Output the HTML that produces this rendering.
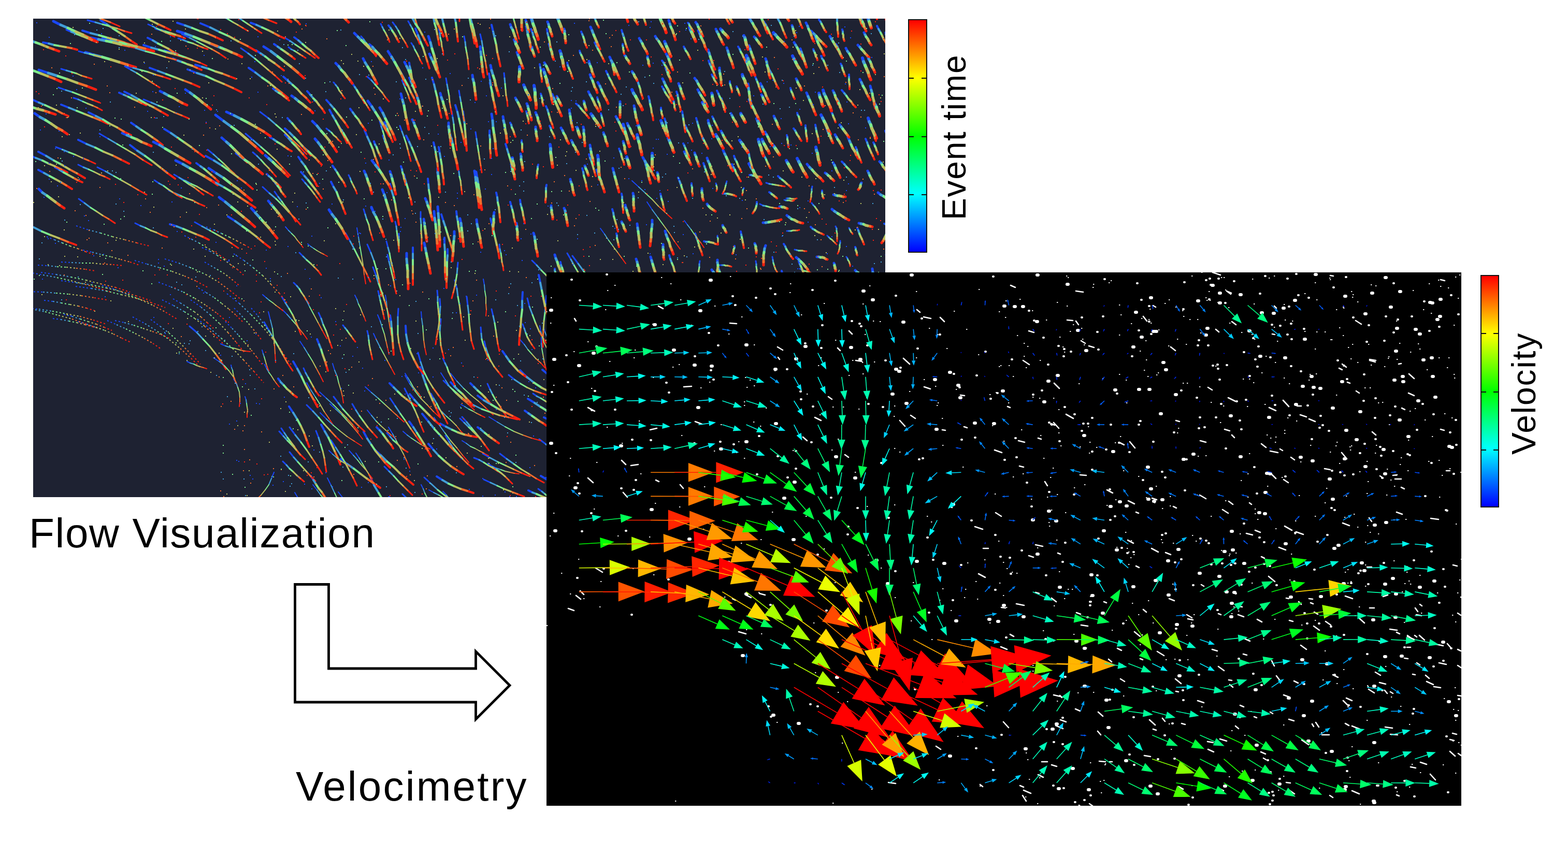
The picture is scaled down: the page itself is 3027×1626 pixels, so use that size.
<!DOCTYPE html>
<html><head><meta charset="utf-8">
<style>
html,body{margin:0;padding:0;background:#fff;}
body{width:3027px;height:1626px;position:relative;overflow:hidden;font-family:"Liberation Sans",sans-serif;}
.abs{position:absolute;}
#p1{left:64px;top:36px;width:1645px;height:924px;background:#1e2232;overflow:hidden;}
#p2{left:1055px;top:526px;width:1766px;height:1030px;background:#000;overflow:hidden;}
.cb{box-sizing:border-box;border:2px solid #111;background:linear-gradient(to bottom,#ff0000 0%,#ffff00 25%,#00ff00 50%,#00ffff 75%,#0000ff 100%);}
#cb1{left:1753px;top:37px;width:37px;height:451px;}
#cb2{left:2858px;top:531px;width:36px;height:449px;}
.tk{position:absolute;height:1.8px;width:9px;background:#111;}
.lbl{position:absolute;white-space:nowrap;color:#000;line-height:1;}
</style></head><body>
<div id="p1" class="abs"><svg width="1645" height="924" style="display:block"><path d="M319 520l15 9M254 464l27 8M292 419l14 7M374 531l24 19M96 447l18 4M15 490l29 4M270 541l14 8M-6 527l25 1M304 543l20 14M331 470l12 7M9 476l19 1M192 576l24 13M227 581l18 13M371 585l13 13M54 470l20 1M242 509l24 9M83 400l24 8M86 585l17 5M326 442l15 7M196 467l24 7M-16 558l27 3M133 515l25 8M388 559l10 10M-29 555l26 6M54 506l29 4M82 517l30 4M-8 490l27 5M249 543l22 11M317 580l24 18M334 402l15 6M143 583l18 8M26 421l15 6M59 571l16 4M21 544l17 2M158 583l18 4M421 559l13 15M387 454l20 13M38 579l15 2" stroke="#1a47f8" stroke-width="2" stroke-dasharray="3 4" fill="none"/>
<path d="M1095 405l8 11M985 595l3 10M714 797l8 7M880 769l16 10M481 562l9 9M645 756l8 10M774 770l10 15M718 689l9 16M1185 354l10 15M439 932l3 5M447 668l4 8M505 915l7 12M530 435l6 5M787 684l9 14M749 900l4 8M826 745l7 4M828 815l8 5M686 789l8 13M806 685l12 15M657 608l6 13M1156 313l13 12M665 572l5 12M409 730l2 6M578 666l4 13M625 404l3 18M573 744l11 10M571 834l7 7M1257 390l6 8M517 526l9 15M390 939l10 7M528 703l8 14M641 711l12 11M382 669l1 5M791 913l7 7M442 640l2 7M978 593l2 11M387 696l5 8M749 566l1 13M718 685l5 8M764 910l9 5M568 887l7 14M443 533l7 6M540 900l8 10M623 839l6 9M680 534l2 12M454 566l4 16M886 864l8 4M487 402l6 7M869 503l2 11M575 938l10 13M981 616l0 11M610 834l8 9M348 655l11 7M940 620l8 9M297 662l6 3M779 751l10 8M362 628l9 4M554 761l12 12M707 931l6 9M515 623l8 12M621 534l4 8M553 721l13 12M465 876l-5 12M589 914l10 13" stroke="#1a47f8" stroke-width="2" stroke-linecap="round" fill="none"/>
<path d="M671 10l3 6M645 436l7 16M723 -38l3 10M713 918l7 7M88 63l11 3M808 179l2 12M438 180l16 12M386 -8l10 6M878 859l8 6M656 480l6 16M678 865l9 9M682 430l3 12M178 91l15 4M1372 327l-1 2M1318 318l1 3M566 212l5 4M645 112l8 7M287 30l15 7M1450 350l3 1M528 746l12 12M503 510l6 6M684 456l3 13M1650 335l0 3M785 541l1 15M706 415l0 6M877 705l5 11M837 537l2 17M920 -27l3 11M284 308l10 5M864 596l1 12M633 34l5 6M78 153l9 3M717 714l7 14M1427 460l1 6M1041 458l11 15M598 592l4 5M1480 483l4 2M638 368l3 10M508 -32l7 5M870 890l13 6M495 789l11 15M1570 460l2 3M546 796l5 13M863 30l3 13M519 310l6 7M337 253l11 9M1558 429l0 4M401 57l14 10M272 301l10 6M482 855l7 7M977 812l13 10M965 724l7 5M797 115l2 12M280 38l9 3M724 5l4 7M1415 317l6 2M834 738l16 8M666 526l2 9M699 392l2 9M1321 419l0 3M49 133l14 5M44 248l13 5M828 769l9 10M954 540l4 16M379 -23l16 5M424 258l8 7M791 656l4 9M128 222l17 10M705 560l-1 16M755 886l13 12M792 699l9 9M265 -26l9 4M899 932l9 5M302 594l14 12M909 105l1 10M645 603l2 9M683 800l6 7M975 908l7 5M945 590l3 8M689 733l10 15M832 34l2 11M871 623l3 13M1339 314l-1 4M54 97l10 3M748 373l0 13M124 287l16 8M900 436l1 9M820 287l2 9M177 92l12 7M787 580l-1 12M475 797l8 9M1646 456l4 0M253 61l14 4M989 945l15 10M814 505l4 16M197 395l10 5M783 20l2 8M616 744l7 12M575 814l9 14M964 931l13 10M213 156l15 6M609 302l3 6M446 586l9 16M1549 401l2 4M603 414l9 16M780 525l1 12M486 37l10 6M87 282l10 5M1575 404l1 2M262 332l11 5M881 124l2 8M743 645l5 18M1454 347l3 0M495 837l8 10M55 -28l19 7M885 561l3 13M514 452l7 7M1455 410l4 0M632 147l3 5M1403 358l6 3M824 772l8 8M819 -35l1 7M820 471l-1 11M868 840l14 8M901 840l13 10M1395 468l1 6M105 3l15 4M551 568l5 11M312 393l14 8M1326 476l4 0M580 123l4 5M730 47l4 6M963 467l9 9M669 198l3 10M1031 453l7 12M222 11l9 4M356 -9l10 5M410 222l15 13M768 724l5 9M708 207l4 11M480 537l7 12M560 948l8 13M466 334l7 10M1504 324l-1 5M443 325l13 12M712 119l3 7M580 730l9 12M1503 356l3 4M-22 -23l16 4M493 55l5 4M234 312l9 6M796 805l7 12M854 219l2 13M991 535l-2 16M694 7l6 8M1533 419l3 3M479 791l6 9M1287 468l-1 6M1470 446l4 1M918 688l11 9M851 848l10 4M822 139l2 12M179 52l19 5M88 348l11 8M522 675l4 9" stroke="#1a47f8" stroke-width="3" stroke-linecap="round" fill="none"/>
<path d="M883 386l3 12M1373 75l3 6M678 200l3 6M1435 -7l3 8M-15 396l16 7M1559 87l2 4M1358 131l1 3M1245 307l3 7M764 947l11 13M488 -14l5 4M1656 97l5 7M1421 335l3 2M1575 108l0 5M1255 241l2 4M976 495l3 15M236 19l10 3M0 157l11 5M578 284l5 7M787 -7l3 8M1561 138l5 6M1106 101l3 6M1411 6l3 5M956 911l8 4M494 749l8 12M844 704l7 7M1259 206l2 5M786 782l11 6M1353 265l2 6M719 593l1 17M881 216l0 9M338 308l15 9M943 235l0 4M1031 85l1 5M566 157l8 9M221 37l10 5M376 382l14 9M107 181l14 7M990 169l3 7M575 315l5 10M486 224l7 7M430 61l9 6M779 884l11 7M1320 139l3 6M1562 21l1 4M794 423l0 13M751 763l12 15M1588 248l2 5M1445 487l1 5M658 237l2 6M940 679l13 13M191 -14l13 6M504 36l8 6M689 319l3 13M1214 131l3 5M298 98l18 7M1521 72l2 5M-7 264l12 5M1455 225l1 4M1060 289l2 7M980 145l1 4M1349 281l3 6M1552 -6l0 7M1073 262l2 7M42 287l9 5M536 883l5 8M640 216l5 12M617 126l4 6M1278 415l2 7M980 883l15 9M1629 14l3 6M1366 411l1 6M1018 470l1 6M1055 62l1 4M1354 439l0 3M1242 141l2 6M663 789l6 6M451 300l4 4M813 -10l1 9M815 167l4 13M1310 108l2 4M880 106l2 13M264 397l13 4M773 239l2 9M1622 239l2 4M706 97l6 11M945 528l-1 17M1331 338l5 0M838 -21l2 12M710 285l2 6M1138 49l0 3M1438 304l4 4M19 46l11 2M1332 227l3 4M1212 172l0 4M333 265l16 9M1462 134l1 4M1214 81l3 4M788 378l4 13M187 244l14 11M213 51l15 5M1083 -2l2 3M992 20l1 8M1469 -18l3 6M556 784l7 13M335 -40l14 4M1643 396l3 1M594 850l12 10M1591 404l2 5M1253 179l1 7M983 678l12 10M95 23l16 5M817 372l1 10M1327 -21l3 5M1468 212l3 4M961 20l3 7M1501 402l4 4M858 789l7 5M1587 441l1 3M512 267l6 9M1510 205l1 6M1607 232l3 7M978 88l1 6M1131 251l2 5M1541 180l2 4M1655 -7l4 5M738 19l5 13M323 9l19 8M726 85l1 7M10 257l15 8M284 -34l9 3M420 8l11 4M457 229l7 4M638 798l7 13M1419 93l3 7M726 778l8 11M906 642l7 10M726 114l3 7M716 301l2 9M87 234l16 8M518 244l6 6M763 821l10 12M1617 207l2 5M952 179l1 4M130 3l12 8M1126 415l1 4M747 673l5 16M1211 338l1 5M1491 206l0 5M1166 118l2 6M486 212l9 8M858 728l12 9M176 141l14 7M1271 318l0 4M1228 457l2 7M659 832l12 11M688 704l8 8M1304 81l2 6M54 166l15 6M1523 332l0 3M991 321l-1 6M1345 121l0 4M1219 193l2 6M830 179l1 12M1291 227l2 4M762 309l1 11M416 95l13 9M955 734l13 8M885 12l3 13M1561 276l5 5M612 174l5 7M1096 183l1 4M720 226l6 12M1411 264l2 4M1294 279l2 6M1118 368l2 7M1478 469l2 5M270 77l9 4M983 751l9 7M463 135l5 4M1136 338l1 6M253 213l13 8M859 946l12 6M1517 2l3 4M313 89l13 4M689 573l2 12M770 -12l3 11M686 13l4 5M921 354l2 8M572 176l6 11M491 192l4 5M465 49l7 5M1622 -40l1 7M1136 22l2 7M548 619l4 10M502 662l8 14M940 350l1 8M800 445l0 12M529 140l6 7M1397 354l0 4M1311 189l2 4M1058 25l2 5M10 292l11 6M912 242l3 10M1394 112l2 5M1048 164l5 4M1449 435l3 5M1475 182l1 4M225 95l16 6M1177 -8l1 3M949 757l7 5M727 725l9 11M189 201l10 7M997 207l2 4M1007 483l0 3M483 112l9 8M166 143l9 4M651 885l7 16M517 296l7 8M1383 302l3 0M1188 150l2 8M1089 152l1 4M806 702l7 8M278 8l15 5M921 201l2 4M986 770l10 5M733 442l0 12M464 313l4 5M1280 192l2 7M770 114l4 13M315 279l8 6M1264 8l2 2M975 282l-1 4M1295 430l4 1M726 -11l6 10M687 924l13 12M1236 158l1 3M590 207l4 7M1506 59l1 3M783 248l2 12M894 336l2 9M473 695l5 7M1361 54l3 5M1256 54l2 4M1380 254l2 8M1329 154l1 5M1084 46l3 6" stroke="#1a47f8" stroke-width="4" stroke-linecap="round" fill="none"/>
<path d="M754 387l1 7M1448 -15l1 3M952 15l2 8M1246 125l2 5M-29 163l12 3M740 146l2 7M1303 60l2 6M1399 -15l4 7M1323 483l1 3M1611 73l2 5M1380 126l1 8M1494 281l5 6M1382 156l3 7M-18 38l11 4M963 55l0 3M1039 235l2 4M1221 95l2 4M294 137l9 6M1284 23l3 6M1301 269l2 6M445 54l14 9M1338 -11l2 3M1646 27l1 4M571 369l6 9M852 294l2 12M1119 289l2 8M1620 483l1 7M459 -21l7 4M421 366l8 9M1142 71l2 2M1604 27l2 4M1166 396l1 8M1291 328l0 4M1473 116l2 4M1025 20l1 4M1318 20l2 5M732 195l3 6M1011 150l1 3M1063 159l1 3M1550 50l2 4M1634 276l3 3M1037 310l1 5M1414 438l-2 6M1101 220l1 4M448 264l7 6M1201 34l3 5M1019 211l3 5M1382 -2l3 5M1599 317l-1 2M653 364l4 10M3 183l10 7M1650 409l-2 4M1656 67l2 7M1160 168l1 6M755 433l2 10M883 90l2 10M364 230l9 8M907 189l1 8M1002 146l3 7M1569 57l3 6M996 49l2 5M1113 74l3 7M499 149l7 5M620 28l7 7M1331 399l1 3M1216 436l0 5M1205 297l1 3M1493 143l3 7M970 181l2 5M1072 141l3 6M774 372l1 13M1007 456l2 7M11 329l7 7M1090 123l4 7M11 99l18 6M951 3l1 4M1088 292l3 7M813 411l0 9M1065 284l1 3M39 5l14 7M278 24l16 5M1303 196l1 6M1220 410l2 7M1328 217l2 4M1414 77l2 6M1658 230l2 4M1532 212l2 5M172 221l9 4M1073 82l1 5M1332 254l3 7M1002 -30l1 4M1310 485l3 4M674 330l4 10M134 38l16 4M544 232l6 7M848 109l1 8M232 238l12 6M721 453l0 11M1277 115l4 5M1222 68l3 5M669 172l6 10M1410 -24l2 2M1301 358l2 3M1413 219l3 5M539 198l9 9M676 226l2 5M1181 275l2 7M786 144l2 8M1596 117l3 6M1455 380l4 3M1409 394l5 0M1465 13l1 3M1075 108l2 6M941 261l1 5M1062 209l1 6M1170 38l3 5M685 63l7 11M757 -37l7 11M1393 434l1 3M1529 298l3 2M855 296l2 12M1640 -28l1 5M1177 268l4 7M578 -22l5 4M341 48l10 4M1653 355l2 2M1430 188l2 5M1594 395l4 1M646 159l8 11M890 374l-1 7M275 274l14 7M1125 189l3 5M1139 237l1 4M1587 -23l2 6M1277 259l1 4M1492 8l3 6M1225 -18l2 4M1279 7l3 4M454 352l5 6M1616 130l2 8M1025 366l2 5M781 289l0 8M1631 336l5 4M352 186l16 12M339 289l15 10M856 388l1 9M863 54l1 10M1552 155l2 4M1137 -36l2 7M885 184l2 13M1508 30l3 7M1143 360l1 5M1597 -3l2 5M1133 160l0 5M802 201l0 7M584 86l6 6M921 11l2 6M1473 461l5 4M1257 257l2 4M1557 205l3 4M1406 147l2 3M1117 82l1 4M841 -10l3 10M65 21l9 4M599 -35l5 4M1075 244l1 7M1339 56l2 6M781 363l1 13M-24 91l13 5M689 295l2 7M1347 183l2 4M765 68l3 7M1392 35l3 3M1404 125l3 6M1546 472l1 3M1545 340l4 1M111 37l15 3M933 395l1 6M1502 24l5 5M1192 460l2 7M359 345l12 9M824 386l2 9M637 77l4 8M1186 73l0 3M970 209l0 5M654 274l7 9M24 -37l10 2M757 347l3 7M1587 486l3 3M1227 3l2 7M1164 464l2 6M101 65l16 5M1573 229l3 7M1283 137l3 6M1147 202l2 5M1542 368l5 4M942 -21l0 7M1548 224l3 5M1156 102l2 3M1212 -37l1 4M966 414l2 7M1195 389l0 8M993 118l1 8M1325 95l0 5M934 65l2 5M1513 460l4 0M245 140l8 4M1076 16l3 7M1469 46l3 5M953 164l2 5M373 180l15 7M1382 52l2 6M1441 363l3 0M392 260l8 6M923 281l1 5M931 153l2 4M639 294l3 7M1215 116l3 6M1152 -13l3 4M1544 278l3 5M1136 392l1 3M717 84l4 8M993 6l2 5M1544 139l2 4M649 50l6 5M1158 337l1 6M1035 176l1 7M1000 361l0 4M763 34l4 12M710 145l3 12M987 85l2 4M1321 466l0 5M1611 294l2 4M1592 51l4 4M1538 34l3 5M1481 58l2 6M803 219l4 12" stroke="#1a47f8" stroke-width="5" stroke-linecap="round" fill="none"/>
<path d="M1382 280l4 7M1653 257l3 4M998 243l1 8M1050 210l1 3M1226 231l2 4M1156 137l3 7M1429 245l2 3M1612 192l2 7M1475 270l3 6M967 129l1 7M1369 108l1 4M1525 138l2 7M1511 248l1 6M1646 217l2 4M1166 224l1 6M1219 44l2 5M925 269l0 3M947 128l2 5M1146 267l1 4M1168 205l1 3M1327 20l3 3M1377 71l3 6M1310 144l1 4M1612 0l1 3M1267 17l2 5M1366 183l1 3M929 41l2 4M1090 264l1 8M1139 204l2 8M1292 162l2 3M1364 235l3 4M1011 -5l2 5M1397 193l2 5M1195 260l0 5M1624 163l2 4M1400 233l1 5M1372 33l2 4M1429 27l4 4M1601 76l2 7M1318 224l2 4M985 98l2 6M960 -4l3 7M939 93l0 5M1017 62l2 6M1077 184l3 4M1212 197l2 5M1521 186l3 6M1407 233l2 5M1206 -12l3 7M1454 274l2 4M1517 144l1 4M1466 72l3 6" stroke="#1a47f8" stroke-width="6" stroke-linecap="round" fill="none"/>
<path d="M392 573l13 13M380 525l22 18M360 457l13 8M480 643l18 25M187 470l18 6M159 519l28 9M336 587l12 11M118 539l24 4M392 625l15 19M389 508l11 9M101 484l18 3M305 656l20 20M308 651l15 16M432 654l11 15M154 475l20 2M355 569l20 17M200 433l24 6M171 617l17 8M394 484l12 11M315 507l22 12M116 582l25 8M256 567l23 14M434 611l8 11M100 589l25 9M198 535l28 9M227 548l28 10M126 520l27 9M349 610l17 17M426 681l19 22M408 437l14 8M231 627l16 11M101 450l15 5M137 596l15 6M103 559l16 5M247 610l17 8M480 642l10 18M475 530l15 19M115 595l16 4" stroke="#ff2011" stroke-width="2" stroke-dasharray="3 4" fill="none"/>
<path d="M1136 462l8 11M1010 643l7 8M757 827l9 4M962 810l18 5M522 609l7 10M691 804l10 8M829 843l12 14M773 759l13 12M1238 430l11 15M456 957l3 5M470 705l5 6M539 974l7 12M561 455l7 4M840 745l12 11M766 940l3 8M864 766l8 4M870 839l9 5M721 854l6 14M874 752l14 13M691 674l7 13M1220 374l13 12M684 635l3 13M413 763l0 7M597 729l2 13M639 494l3 18M627 800l9 12M612 865l9 5M1289 433l6 9M558 602l9 16M444 966l13 2M571 772l9 14M704 768l12 11M389 695l1 5M823 949l6 8M452 673l3 7M996 644l5 10M399 740l-1 9M756 635l3 14M745 725l5 8M811 935l9 6M601 962l6 16M476 559l6 5M579 948l8 9M652 888l6 10M689 598l2 13M467 647l1 17M929 878l9 1M516 435l5 7M875 562l-1 12M630 1000l13 11M988 669l3 10M648 879l7 9M392 703l4 12M980 665l8 9M329 674l6 2M825 796l9 9M409 642l10 1M620 816l14 9M734 976l5 9M553 687l7 14M639 576l3 8M617 784l11 13M431 929l-11 8M635 979l8 13" stroke="#ff2011" stroke-width="2" stroke-linecap="round" fill="none"/>
<path d="M686 39l2 6M670 519l2 17M741 12l4 10M745 954l5 7M140 77l10 3M816 242l2 12M514 247l14 15M432 22l9 6M918 891l7 7M683 560l5 16M723 911l9 9M696 489l2 12M250 112l15 5M1369 338l0 3M1320 330l-1 3M589 234l5 4M680 152l7 8M359 67l13 9M1466 352l3 -1M584 807l12 12M527 543l5 7M698 519l3 12M1649 353l-1 4M779 615l-2 14M706 444l0 6M906 757l7 10M846 622l5 16M935 28l3 11M337 336l10 6M877 652l6 10M657 66l5 7M124 172l9 5M748 784l6 14M1436 489l3 6M1095 532l11 15M618 619l4 5M1501 491l4 1M653 418l3 10M543 -7l7 5M935 918l13 5M548 863l10 16M1577 475l0 3M564 862l2 13M875 95l2 13M548 346l6 8M388 299l9 10M1555 450l-2 4M467 110l13 12M320 333l9 7M516 888l7 6M1043 861l14 10M1004 747l8 5M806 172l2 12M328 56l9 3M743 41l3 8M1445 323l6 1M918 770l17 4M676 571l2 9M705 437l1 8M1322 432l0 3M115 157l13 5M107 274l13 6M872 823l8 11M985 618l10 14M455 3l15 6M462 297l7 8M810 698l4 9M212 273l17 10M710 643l5 15M824 942l15 10M838 740l9 8M309 -5l9 5M943 961l8 7M363 662l9 15M915 158l1 11M653 649l2 9M715 832l8 5M1009 935l6 6M963 630l5 7M739 806l11 15M840 88l1 10M898 682l8 10M1333 334l-2 4M103 113l10 3M750 435l0 13M203 331l16 9M907 478l1 8M827 331l1 8M233 126l11 7M790 644l3 12M516 842l9 9M1669 454l5 0M322 85l13 6M1058 1002l12 13M827 585l2 16M248 418l11 4M791 62l1 8M655 799l9 10M618 887l7 15M1031 978l14 8M287 187l14 6M623 332l2 6M491 665l10 15M1552 425l0 5M644 493l7 15M784 583l1 11M534 69l10 7M138 305l10 5M1581 414l1 2M319 357l12 5M890 165l1 9M783 728l11 14M1471 348l3 -1M536 884l9 9M149 7l18 8M897 628l3 14M550 487l6 8M1475 409l4 -1M647 172l3 5M1435 366l6 0M866 815l7 10M823 -1l0 6M811 529l-3 11M942 877l15 6M971 888l15 8M1397 496l0 5M176 24l14 4M573 625l4 11M383 434l13 9M1345 478l3 1M598 149l4 5M747 80l4 7M1007 513l9 9M684 247l2 9M1064 512l6 11M265 31l8 4M405 18l10 6M482 288l14 15M795 772l5 10M726 264l3 11M512 597l5 13M603 1012l10 11M501 382l6 10M1501 349l-1 5M505 385l11 13M726 154l3 7M629 787l11 10M1516 373l2 4M57 -5l15 3M520 72l6 4M278 341l9 5M839 860l11 9M864 284l2 13M984 617l0 17M719 47l4 8M1548 433l3 3M510 835l6 8M1282 498l-2 6M1489 449l4 0M980 723l13 4M897 874l8 5M832 197l1 12M274 79l19 6M146 387l12 8M546 720l6 8" stroke="#ff2011" stroke-width="3" stroke-linecap="round" fill="none"/>
<path d="M898 450l2 13M1385 104l2 6M691 231l3 7M1451 30l3 7M67 431l16 6M1566 107l2 4M1363 145l1 3M1259 344l3 8M822 1008l13 11M511 6l4 5M1679 129l4 6M1434 345l2 2M1576 131l0 5M1265 264l2 5M992 569l4 15M284 34l9 4M56 183l12 5M600 317l3 7M798 34l2 8M1583 166l5 5M1123 135l3 7M1425 34l3 6M998 927l8 3M528 814l5 13M879 739l7 8M1271 232l2 5M845 806l12 2M1365 291l2 5M743 673l11 13M883 260l0 9M414 355l15 10M944 254l1 3M1040 111l2 5M602 201l6 9M270 64l10 5M444 432l13 10M175 218l14 7M1002 204l2 7M599 367l4 10M521 262l7 8M475 93l9 7M838 912l12 4M1334 167l3 6M1565 40l1 3M795 490l1 14M814 835l14 14M1597 273l2 5M1447 514l0 6M670 265l2 5M1015 728l16 7M253 16l12 6M543 69l8 7M704 384l2 14M1230 158l3 5M386 134l16 8M1532 96l2 4M54 291l12 6M1458 244l0 4M1068 324l2 7M984 164l1 4M1363 309l3 5M1554 29l0 6M1084 297l2 7M86 312l9 4M562 922l6 8M665 279l3 13M637 157l3 6M1290 450l2 7M1060 922l17 7M1646 46l3 7M1371 437l1 6M1026 499l2 6M1063 81l2 4M1351 452l-1 2M1249 171l1 6M691 823l4 7M473 321l5 5M819 35l1 9M831 232l3 13M1319 124l2 3M892 171l2 13M327 421l12 6M781 285l1 9M1630 258l1 4M735 153l5 12M939 613l-1 17M1353 341l4 2M850 37l2 11M718 315l1 6M1140 65l1 3M1459 322l4 4M74 57l11 3M1347 247l3 4M1215 188l0 4M410 317l14 12M1468 151l2 4M1227 101l2 4M808 442l3 13M259 298l15 11M290 74l15 5M1091 14l1 3M1000 59l2 8M1482 12l3 6M588 848l5 13M401 -19l13 5M1660 398l3 0M657 897l13 9M1602 431l2 5M1258 212l1 7M1050 719l15 5M176 46l16 5M824 421l1 10M1341 5l3 5M1480 232l3 4M974 58l2 7M1522 415l4 2M892 815l7 5M1590 455l1 2M543 313l5 10M1516 234l1 6M1621 265l3 7M982 116l0 6M1140 277l1 5M1548 197l1 3M1674 19l4 5M761 83l4 13M414 53l17 10M732 122l1 7M85 299l15 9M329 -18l8 4M474 33l11 5M492 252l7 4M679 857l10 10M1435 128l4 7M762 834l6 11M945 687l10 7M741 149l2 7M729 349l2 10M169 272l16 8M551 276l6 6M818 872l13 8M1625 231l2 5M956 198l1 4M188 42l12 8M1130 437l1 4M778 752l7 16M1217 364l2 6M1494 232l0 5M1175 148l2 6M528 255l8 9M925 767l14 7M246 179l14 8M1273 338l0 4M1241 494l3 7M721 889l13 11M730 742l10 6M1316 110l3 5M129 196l15 7M1525 345l1 2M989 350l0 5M1349 139l0 3M1226 226l2 7M836 242l1 13M1301 247l2 4M767 365l1 11M480 143l12 10M1020 772l14 6M899 78l3 14M1584 301l5 5M637 209l5 7M1101 203l1 4M745 284l4 12M1421 285l2 4M1304 308l2 6M1127 403l2 8M1488 492l2 5M316 95l9 4M1028 784l9 7M489 154l5 4M1139 369l0 6M318 258l12 9M923 973l14 4M1528 22l3 4M378 111l13 5M695 636l1 13M782 40l2 11M703 40l3 5M930 392l2 7M601 229l5 11M513 217l4 6M499 73l6 5M1628 -6l1 7M1146 55l3 7M566 670l3 10M541 735l8 15M948 388l1 7M798 508l0 12M558 174l5 8M1391 373l-2 3M1321 210l2 5M1067 51l2 5M64 322l11 7M927 292l3 10M1403 136l2 5M1069 187l4 5M1463 459l4 5M1482 201l1 4M305 125l16 7M1182 8l1 4M984 781l7 5M775 776l11 9M240 236l10 8M1006 227l1 4M1010 499l1 4M527 153l8 9M209 163l9 4M697 960l11 13M551 338l6 9M1402 305l4 1M1196 188l1 8M1095 172l1 4M844 741l7 8M351 35l15 7M929 223l2 5M1038 791l11 3M733 502l0 12M483 339l4 5M1291 227l2 7M785 178l3 13M351 308l7 7M1273 22l2 3M972 303l0 5M1317 435l5 1M756 41l6 11M746 988l11 14M1239 174l1 3M611 242l4 7M1513 76l1 4M792 308l1 12M901 384l1 9M502 726l7 5M1374 80l2 5M1267 74l2 4M1389 290l2 8M1335 176l1 4M1100 77l3 6" stroke="#ff2011" stroke-width="4" stroke-linecap="round" fill="none"/>
<path d="M759 423l1 7M1457 1l2 3M960 54l2 7M1255 150l2 5M31 181l12 4M748 178l2 6M1313 92l3 6M1415 21l3 7M1327 498l0 3M1623 99l2 5M1386 165l1 7M1520 308l5 6M1399 190l3 7M39 59l11 4M967 70l1 3M1051 257l2 5M1230 116l1 5M335 168l8 7M1297 54l3 6M1313 300l3 6M511 104l12 11M1348 4l2 3M1652 48l1 4M601 415l6 10M860 353l1 12M1129 327l2 8M1624 515l1 6M492 1l6 5M463 414l8 10M1150 84l2 3M1615 47l3 4M1171 435l1 7M1293 348l1 3M1482 134l1 4M1028 43l0 4M1330 45l3 5M744 226l2 6M1018 165l2 3M1067 174l1 3M1560 72l2 4M1646 292l3 4M1043 336l2 5M1410 470l0 6M1108 241l1 5M485 298l7 7M1217 59l3 5M1031 236l3 5M1399 27l4 6M1595 328l-2 2M674 412l3 9M56 216l10 7M1641 429l-3 4M1664 101l2 7M1166 197l1 5M765 482l2 10M896 139l3 10M405 269l8 8M914 231l1 8M1017 181l3 7M1585 85l3 5M1003 74l2 5M1129 109l3 7M534 176l6 6M655 63l7 7M1337 411l1 2M1217 461l1 4M1207 312l1 3M1508 179l3 7M979 207l1 5M1089 173l3 6M780 434l1 13M1020 491l2 6M51 360l9 6M1107 157l3 7M103 130l18 7M956 21l1 4M1101 328l2 7M810 458l-1 10M1071 300l1 3M110 38l14 7M355 53l15 7M1312 223l2 5M1233 447l3 8M1338 236l2 4M1421 109l2 6M1670 250l2 4M1542 236l2 4M219 242l9 4M1081 107l2 5M1347 288l4 6M1006 -9l1 4M1320 503l2 4M690 381l3 10M216 58l17 5M572 270l5 7M854 148l1 8M291 272l12 7M724 511l0 11M1294 142l3 6M1233 94l2 5M695 223l4 11M1420 -12l2 2M1314 370l3 2M1425 241l2 4M579 246l7 11M686 254l2 5M1190 311l2 7M798 185l2 8M1612 150l4 7M1481 394l5 1M1438 390l6 -2M1471 32l1 4M1087 137l2 6M945 288l0 5M1065 240l0 6M1184 63l2 5M715 117l6 11M787 22l5 12M1396 450l0 3M1543 310l3 3M864 357l2 12M1646 -2l1 5M1197 302l4 7M604 2l5 5M393 69l10 5M1665 364l2 2M1439 209l2 4M1616 401l4 1M682 216l6 11M888 408l0 7M343 312l13 9M1139 217l3 6M1143 256l1 4M1599 9l3 6M1284 280l2 5M1504 38l3 6M1236 5l3 4M1291 30l2 4M479 383l4 6M1624 166l2 7M1031 394l1 6M784 328l1 7M1658 353l6 2M429 247l14 13M409 340l13 11M864 433l2 9M868 103l2 10M1560 175l1 4M1146 -1l2 7M893 251l2 13M1524 64l3 7M1150 385l2 4M1606 19l2 5M1133 186l0 5M806 237l0 7M611 118l5 7M932 39l2 6M1495 484l3 6M1268 278l2 4M1572 225l3 4M1413 162l1 3M1122 103l0 5M855 43l2 11M113 41l10 4M622 -11l4 5M1081 275l1 7M1350 88l2 7M785 427l0 13M41 116l13 6M698 331l2 8M1358 204l2 4M782 105l3 8M1405 51l2 4M1418 155l3 6M1549 484l0 3M1564 344l4 0M185 53l15 3M935 423l1 5M1526 49l5 5M1202 494l2 7M417 392l11 10M830 431l1 9M660 118l4 8M1189 89l1 3M973 231l0 5M686 320l5 10M77 -28l10 1M769 382l2 7M1600 501l1 4M1238 34l2 7M1172 492l2 6M182 89l16 5M1589 263l4 7M1299 164l3 6M1159 227l2 5M1569 386l6 3M943 16l1 7M1561 246l2 4M1165 117l1 3M1215 -15l1 4M973 451l1 8M1192 430l-1 9M1001 156l2 8M1328 124l1 5M944 91l2 5M1530 464l3 1M288 163l9 4M1091 52l3 7M1483 72l3 6M961 190l1 6M445 218l13 9M1392 81l2 6M1454 366l2 1M435 293l8 7M929 305l1 5M942 175l2 4M652 331l2 7M1231 149l4 7M1165 7l2 4M1556 302l2 5M1143 408l1 3M735 124l3 8M1001 30l1 4M1553 160l1 5M677 80l6 7M1160 366l0 6M1041 209l1 6M1003 383l0 4M780 95l3 13M723 203l2 11M996 103l2 3M1321 491l-1 5M1622 315l2 5M1610 71l4 4M1553 59l3 5M1491 88l2 6M818 279l2 12" stroke="#ff2011" stroke-width="5" stroke-linecap="round" fill="none"/>
<path d="M1401 312l4 7M1670 274l3 3M1002 280l1 7M1055 226l1 3M1235 254l2 4M1173 169l3 7M1439 260l2 3M1625 224l3 7M1491 300l3 6M971 166l0 7M1377 128l2 4M1539 171l2 7M1518 278l1 5M1655 234l2 3M1174 257l1 6M1229 68l2 5M928 288l1 3M958 152l2 5M1151 284l1 4M1173 221l1 3M1340 34l2 3M1390 103l3 6M1313 163l1 4M1617 15l1 3M1277 39l2 5M1373 197l2 3M937 61l2 4M1093 303l0 7M1149 240l2 7M1301 177l2 3M1378 255l2 4M1021 21l2 5M1408 218l2 5M1195 286l0 6M1633 184l1 4M1408 260l2 5M1379 54l1 5M1451 50l4 5M1614 111l3 7M1329 245l3 5M994 130l2 6M973 33l2 7M938 117l0 5M1024 92l2 6M1092 206l3 4M1222 221l2 5M1536 217l3 6M1419 255l2 5M1220 20l2 7M1464 292l3 4M1523 165l2 4M1482 101l3 6" stroke="#ff2011" stroke-width="6" stroke-linecap="round" fill="none"/>
<path d="M334 529l16 10M281 472l26 10M306 426l14 7M398 550l23 22M114 451l19 5M44 494l29 5M284 549l13 8M19 528l25 2M324 557l18 15M343 477l12 7M28 477l18 2M216 589l24 15M245 594l17 13M384 598l13 14M74 471l20 1M266 518l24 10M107 408l23 6M103 590l18 6M341 449l14 8M220 474l24 7M11 561l26 4M158 523l25 10M398 569l9 10M-3 561l26 5M83 510l29 4M112 521l29 5M19 495l27 5M271 554l21 12M341 598l22 19M349 408l15 7M161 591l18 8M41 427l15 6M75 575l16 5M38 546l16 3M176 587l18 5M434 574l12 17M407 467l18 14M53 581l16 3" stroke="#429ed7" stroke-width="2" stroke-dasharray="3 4" fill="none"/>
<path d="M1103 416l8 12M988 605l4 10M722 804l8 6M896 779l15 9M490 571l8 9M653 766l9 11M784 785l11 15M727 705l10 14M1195 369l11 15M442 937l4 5M451 676l4 7M512 927l6 11M536 440l6 4M796 698l9 14M753 908l3 8M833 749l8 5M836 820l8 6M694 802l7 13M818 700l13 14M663 621l7 14M1169 325l13 12M670 584l4 13M411 736l1 7M582 679l5 12M628 422l3 18M584 754l12 11M578 841l8 7M1263 398l7 9M526 541l8 16M400 946l10 7M536 717l9 14M653 722l13 11M383 674l2 5M798 920l6 8M444 647l2 6M980 604l3 10M392 704l3 8M750 579l2 14M723 693l5 8M773 915l10 5M575 901l7 15M450 539l6 5M548 910l7 10M629 848l6 10M682 546l1 13M458 582l4 16M894 868l9 3M493 409l6 6M871 514l1 12M585 951l10 13M981 627l1 10M618 843l8 9M359 662l10 8M948 629l7 10M303 665l7 2M789 759l9 9M371 632l10 3M566 773l13 12M713 940l6 9M523 635l8 13M625 542l3 9M566 733l13 12M460 888l-5 12M599 927l10 12" stroke="#429ed7" stroke-width="2" stroke-linecap="round" fill="none"/>
<path d="M674 16l3 6M652 452l6 16M726 -28l4 10M720 925l6 7M99 66l10 2M810 191l2 13M454 192l15 13M396 -2l9 6M886 865l9 6M662 496l5 16M687 874l9 9M685 442l3 11M193 95l14 4M1371 329l-1 2M1319 321l0 2M571 216l5 4M653 119l7 8M302 37l14 7M1453 351l3 0M540 758l11 12M509 516l5 6M687 469l3 12M1650 338l0 4M786 556l-1 15M706 421l0 6M882 716l5 10M839 554l2 17M923 -16l3 11M294 313l11 6M865 608l1 11M638 40l5 7M87 156l9 4M724 728l6 14M1428 466l1 6M1052 473l11 15M602 597l4 5M1484 485l4 2M641 378l3 10M515 -27l7 5M883 896l13 6M506 804l11 14M1572 463l1 3M551 809l4 13M866 43l2 13M525 317l6 7M348 262l10 9M1558 433l-1 4M415 67l13 10M282 307l9 6M489 862l6 7M990 822l13 10M972 729l8 4M799 127l2 11M289 41l10 4M728 12l4 7M1421 319l6 1M850 746l16 8M668 535l2 9M701 401l1 9M1321 422l1 2M63 138l13 4M57 253l12 5M837 779l9 11M958 556l6 16M395 -18l15 5M432 265l8 8M795 665l4 8M145 232l17 10M704 576l0 17M768 898l13 12M801 708l9 8M274 -22l9 4M908 937l9 6M316 606l12 13M910 115l1 11M647 612l1 9M689 807l6 7M982 913l6 5M948 598l3 9M699 748l10 15M834 45l1 10M874 636l4 12M1338 318l-1 4M64 100l10 3M748 386l1 12M140 295l16 9M901 445l2 8M822 296l1 9M189 99l11 6M786 592l-1 13M483 806l8 9M1650 456l5 0M267 65l14 5M1004 955l14 11M818 521l2 16M207 400l10 4M785 28l1 9M623 756l7 11M584 828l9 14M977 941l13 10M228 162l14 6M612 308l2 6M455 602l9 15M1551 405l0 5M612 430l8 15M781 537l0 11M496 43l10 7M97 287l10 4M1576 406l1 2M273 337l12 5M883 132l2 8M748 663l6 18M1457 347l4 0M503 847l8 9M74 -21l19 7M888 574l3 14M521 459l7 7M1459 410l4 0M635 152l3 5M1409 361l6 1M832 780l9 9M820 -28l1 7M819 482l-1 12M882 848l15 8M914 850l14 10M1396 474l0 5M120 7l14 4M556 579l4 12M326 401l15 8M1330 476l4 0M584 128l4 5M734 53l3 7M972 476l9 10M672 208l3 9M1038 465l6 11M231 15l8 4M366 -4l10 5M425 235l15 13M773 733l6 10M712 218l4 11M487 549l7 11M568 961l8 13M473 344l7 9M1503 329l0 5M456 337l13 11M715 126l3 7M589 742l9 12M1506 360l3 3M-6 -19l16 3M498 59l6 3M243 318l9 5M803 817l8 12M856 232l2 13M989 551l-1 17M700 15l5 8M1536 422l3 3M485 800l6 9M1286 474l0 6M1474 447l4 1M929 697l12 8M861 852l9 5M824 151l2 11M198 57l19 6M99 356l12 9M526 684l5 9" stroke="#429ed7" stroke-width="3" stroke-linecap="round" fill="none"/>
<path d="M886 398l3 13M1376 81l2 6M681 206l3 7M1438 1l4 7M1 403l16 8M1561 91l1 4M1359 134l1 2M1248 314l3 8M775 960l11 13M493 -10l4 4M1661 104l4 6M1424 337l2 2M1575 113l0 4M1257 245l2 5M979 510l3 15M246 22l9 3M11 162l12 5M583 291l4 6M790 1l2 9M1566 144l4 5M1109 107l3 7M1414 11l3 6M964 915l8 3M502 761l8 13M851 711l7 7M1261 211l2 5M797 788l12 6M1355 271l3 5M720 610l3 17M881 225l1 8M353 317l16 9M943 239l1 3M1032 90l2 5M574 166l7 8M231 42l10 6M390 391l14 10M121 188l14 7M993 176l2 7M580 325l6 10M493 231l7 8M439 67l9 6M790 891l12 7M1323 145l2 5M1563 25l0 4M794 436l1 14M763 778l12 15M1590 253l1 5M1446 492l1 6M660 243l3 5M953 692l14 11M204 -8l12 6M512 42l8 7M692 332l4 13M1217 136l3 6M316 105l18 6M1523 77l3 4M5 269l13 5M1456 229l0 4M1062 296l1 7M981 149l1 4M1352 287l3 5M1552 1l0 7M1075 269l3 7M51 292l8 5M541 891l5 8M645 228l6 13M621 132l4 6M1280 422l3 7M995 892l16 8M1632 20l4 7M1367 417l1 5M1019 476l2 5M1056 66l2 4M1354 442l-1 2M1244 147l1 6M669 795l6 7M455 304l5 4M814 -1l2 9M819 180l3 13M1312 112l2 3M882 119l2 13M277 401l13 5M775 248l2 9M1624 243l1 3M712 108l6 11M944 545l0 17M1336 338l4 0M840 -9l3 11M712 291l1 6M1138 52l1 4M1442 308l4 3M30 48l11 3M1335 231l3 4M1212 176l1 3M349 274l16 10M1463 138l1 3M1217 85l2 4M792 391l4 12M201 255l15 10M228 56l15 4M1085 1l1 3M993 28l2 8M1472 -12l2 6M563 797l7 12M349 -36l13 4M1646 397l4 0M606 860l13 9M1593 409l2 6M1254 186l1 7M995 688l13 9M111 28l16 4M818 382l2 10M1330 -16l3 5M1471 216l2 4M964 27l2 8M1505 406l4 2M865 794l7 6M1588 444l0 3M518 276l7 9M1511 211l1 6M1610 239l2 6M979 94l1 6M1133 256l2 5M1543 184l1 3M1659 -2l4 5M743 32l5 13M342 17l18 9M727 92l2 8M25 265l15 9M293 -31l9 3M431 12l11 5M464 233l7 5M645 811l8 12M1422 100l4 7M734 789l7 11M913 652l7 10M729 121l3 7M718 310l3 10M103 242l17 7M524 250l7 6M773 833l10 11M1619 212l1 4M953 183l1 4M142 11l12 8M1127 419l0 5M752 689l6 17M1212 343l1 5M1491 211l1 5M1168 124l2 6M495 220l9 9M870 737l14 8M190 148l14 8M1271 322l1 4M1230 464l3 8M671 843l12 12M696 712l8 8M1306 87l3 6M69 172l15 6M1523 335l0 3M990 327l0 6M1345 125l1 3M1221 199l1 7M831 191l2 13M1293 231l2 4M763 320l1 11M429 104l13 10M968 742l12 8M888 25l3 13M1566 281l4 5M617 181l5 7M1097 187l1 4M726 238l5 11M1413 268l2 4M1296 285l2 6M1120 375l1 7M1480 474l2 4M279 81l9 3M992 758l9 6M468 139l6 4M1137 344l0 6M266 221l13 9M871 952l13 5M1520 6l2 4M326 93l13 4M691 585l1 13M773 -1l2 10M690 18l3 5M923 362l2 7M578 187l6 10M495 197l5 5M472 54l7 5M1623 -33l1 7M1138 29l2 6M552 629l4 10M510 676l8 15M941 358l2 7M800 457l-1 13M535 147l6 7M1397 358l-1 4M1313 193l2 5M1060 30l2 5M21 298l11 6M915 252l3 10M1396 117l2 5M1053 168l4 5M1452 440l2 5M1476 186l2 3M241 101l16 6M1178 -5l1 4M956 762l7 5M736 736l9 10M199 208l10 7M999 211l1 4M1007 486l1 4M492 120l9 8M175 147l9 4M658 901l9 15M524 304l7 8M1386 302l4 1M1190 158l1 7M1090 156l1 4M813 710l8 8M293 13l14 5M923 205l1 5M996 775l10 5M733 454l0 12M468 318l4 5M1282 199l2 7M774 127l3 13M323 285l7 5M1266 10l1 3M974 286l0 4M1299 431l5 0M732 -1l6 11M700 936l12 13M1237 161l0 3M594 214l5 7M1507 62l2 4M785 260l2 12M896 345l1 10M478 702l6 6M1364 59l2 5M1258 58l2 4M1382 262l1 7M1330 159l1 4M1087 52l3 6" stroke="#429ed7" stroke-width="4" stroke-linecap="round" fill="none"/>
<path d="M755 394l1 7M1449 -12l2 4M954 23l1 8M1248 130l2 5M-17 166l12 4M742 153l2 6M1305 66l2 7M1403 -8l3 7M1324 486l1 3M1613 78l3 5M1381 134l1 7M1499 287l5 5M1385 163l4 7M-7 42l12 4M963 58l1 3M1041 239l2 5M1223 99l2 5M303 143l8 6M1287 29l2 6M1303 275l3 6M459 63l13 10M1340 -8l2 3M1647 31l1 4M577 378l7 9M854 306l1 11M1121 297l2 8M1621 490l0 6M466 -17l6 5M429 375l9 10M1144 73l1 3M1606 31l2 4M1167 404l1 7M1291 332l0 4M1475 120l1 3M1026 24l0 5M1320 25l3 5M735 201l2 6M1012 153l2 3M1064 162l0 3M1552 54l2 5M1637 279l2 3M1038 315l2 5M1412 444l-1 7M1102 224l2 4M455 270l8 7M1204 39l4 5M1022 216l2 5M1385 3l4 6M1598 319l-1 3M657 374l5 9M13 190l11 6M1648 413l-1 4M1658 74l1 7M1161 174l1 6M757 443l2 10M885 100l3 10M373 238l8 7M908 197l2 8M1005 153l3 7M1572 63l4 5M998 54l1 5M1116 81l4 7M506 154l7 6M627 35l7 7M1332 402l1 2M1216 441l0 5M1206 300l0 3M1496 150l3 7M972 186l2 5M1075 147l4 7M775 385l2 12M1009 463l3 7M18 336l9 6M1094 130l3 7M29 105l19 6M952 7l1 4M1091 299l2 7M813 420l-1 10M1066 287l1 3M53 12l14 6M294 29l16 6M1304 202l2 5M1222 417l3 8M1330 221l2 4M1416 83l1 7M1660 234l3 4M1534 217l2 5M181 225l9 4M1074 87l2 5M1335 261l3 6M1003 -26l1 4M1313 489l2 3M678 340l3 10M150 42l17 4M550 239l6 8M849 117l2 7M244 244l11 7M721 464l1 12M1281 120l3 6M1225 73l2 5M675 182l5 11M1412 -22l2 3M1303 361l2 2M1416 224l2 4M548 207l8 10M678 231l2 6M1183 282l2 7M788 152l3 8M1599 123l3 7M1459 383l5 4M1414 394l6 -1M1466 16l1 4M1077 114l3 6M942 266l0 6M1063 215l0 7M1173 43l3 5M692 74l6 10M764 -26l6 12M1394 437l1 3M1532 300l3 3M857 308l2 12M1641 -23l1 5M1181 275l4 7M583 -18l6 5M351 52l11 4M1655 357l3 2M1432 193l2 4M1598 396l5 1M654 170l7 11M889 381l0 6M289 281l14 8M1128 194l3 6M1140 241l1 4M1589 -17l3 7M1278 263l2 4M1495 14l2 6M1227 -14l3 5M1282 11l2 5M459 358l5 6M1618 138l2 7M1027 371l1 6M781 297l1 7M1636 340l6 3M368 198l15 11M354 299l14 9M857 397l2 9M864 64l1 10M1554 159l1 4M1139 -29l2 7M887 197l1 14M1511 37l3 7M1144 365l2 5M1599 2l2 4M1133 165l0 6M802 208l1 7M590 92l5 7M923 17l3 5M1478 465l4 4M1259 261l2 4M1560 209l3 4M1408 150l1 3M1118 86l1 4M844 0l3 11M74 25l10 4M604 -31l4 5M1076 251l1 6M1341 62l2 7M782 376l1 13M-11 96l13 5M691 302l2 7M1349 187l2 4M768 75l4 8M1395 38l2 3M1407 131l3 6M1547 475l0 2M1549 341l4 1M126 40l15 3M934 401l0 5M1507 29l5 5M1194 467l2 7M371 354l12 10M826 395l1 9M641 85l5 8M1186 76l1 3M970 214l1 4M661 283l7 9M34 -35l11 1M760 354l2 7M1590 489l3 2M1229 10l2 6M1166 470l1 5M117 70l16 4M1576 236l3 7M1286 143l3 5M1149 207l3 5M1547 372l6 4M942 -14l0 8M1551 229l2 4M1158 105l2 3M1213 -33l0 5M968 421l1 8M1195 397l-1 9M994 126l2 7M1325 100l1 6M936 70l2 5M1517 460l3 1M253 144l9 5M1079 23l3 8M1472 51l3 5M955 169l1 5M388 187l14 7M1384 58l2 6M1444 363l2 1M400 266l9 7M924 286l1 5M933 157l3 5M642 301l3 8M1218 122l3 7M1155 -9l2 4M1547 283l2 5M1137 395l2 3M721 92l4 8M995 11l1 5M1546 143l2 5M655 55l6 7M1159 343l0 5M1036 183l1 6M1000 365l1 5M767 46l3 12M713 157l3 11M989 89l2 3M1321 471l1 5M1613 298l2 5M1596 55l3 4M1541 39l3 5M1483 64l2 6M807 231l3 12" stroke="#429ed7" stroke-width="5" stroke-linecap="round" fill="none"/>
<path d="M1386 287l4 6M1656 261l4 3M999 251l0 7M1051 213l1 4M1228 235l2 5M1159 144l4 6M1431 248l2 3M1614 199l3 6M1478 276l3 6M968 136l1 7M1370 112l2 4M1527 145l3 6M1512 254l2 6M1648 221l1 3M1167 230l2 7M1221 49l2 5M925 272l1 4M949 133l2 5M1147 271l1 3M1169 208l1 3M1330 23l2 3M1380 77l2 7M1311 148l0 3M1613 3l1 3M1269 22l2 4M1367 186l2 3M931 45l1 4M1091 272l0 7M1141 212l2 7M1294 165l2 3M1367 239l3 4M1013 0l2 5M1399 198l2 5M1195 265l0 6M1626 167l2 4M1401 238l2 6M1374 37l1 4M1433 31l4 5M1603 83l3 7M1320 228l3 5M987 104l2 7M963 3l2 7M939 98l0 5M1019 68l1 6M1080 188l3 5M1214 202l2 5M1524 192l3 6M1409 238l2 4M1209 -5l2 6M1456 278l2 3M1518 148l1 4M1469 78l3 6" stroke="#429ed7" stroke-width="6" stroke-linecap="round" fill="none"/>
<path d="M378 561l14 12M357 508l23 17M347 449l13 8M462 618l18 25M169 465l18 5M130 512l29 7M324 576l12 11M93 535l25 4M376 606l16 19M378 499l11 9M83 482l18 2M284 637l21 19M293 636l15 15M421 640l11 14M134 474l20 1M334 554l21 15M177 427l23 6M155 609l16 8M381 475l13 9M292 497l23 10M90 575l26 7M232 554l24 13M425 600l9 11M75 580l25 9M170 527l28 8M199 540l28 8M100 513l26 7M331 594l18 16M406 659l20 22M393 429l15 8M214 617l17 10M86 444l15 6M122 590l15 6M87 555l16 4M230 604l17 6M469 625l11 17M459 513l16 17M100 591l15 4" stroke="#f16c2d" stroke-width="2" stroke-dasharray="3 4" fill="none"/>
<path d="M1128 451l8 11M1003 634l7 9M748 822l9 5M945 804l17 6M514 599l8 10M681 795l10 9M818 829l11 14M761 746l12 13M1228 414l10 16M453 952l3 5M465 698l5 7M532 962l7 12M555 452l6 3M828 735l12 10M763 932l3 8M856 762l8 4M862 835l8 4M715 841l6 13M860 739l14 13M684 661l7 13M1207 362l13 12M681 622l3 13M414 756l-1 7M594 717l3 12M637 476l2 18M617 788l10 12M603 860l9 5M1282 424l7 9M550 587l8 15M433 962l11 4M562 759l9 13M691 756l13 12M387 690l2 5M817 942l6 7M450 667l2 6M991 635l5 9M399 731l0 9M754 621l2 14M739 718l6 7M801 930l10 5M595 947l6 15M469 554l7 5M571 939l8 9M647 878l5 10M687 585l2 13M466 631l1 16M920 876l9 2M510 428l6 7M874 550l1 12M618 989l12 11M986 659l2 10M641 870l7 9M386 691l6 12M971 657l9 8M322 672l7 2M817 786l8 10M400 640l9 2M606 807l14 9M729 967l5 9M546 674l7 13M635 567l4 9M605 771l12 13M440 920l-9 9M627 965l8 14" stroke="#f16c2d" stroke-width="2" stroke-linecap="round" fill="none"/>
<path d="M683 33l3 6M667 502l3 17M738 2l3 10M739 946l6 8M130 74l10 3M815 229l1 13M499 233l15 14M423 16l9 6M911 884l7 7M678 544l5 16M714 902l9 9M693 477l3 12M236 108l14 4M1370 336l-1 2M1320 328l0 2M585 229l4 5M674 143l6 9M345 59l14 8M1463 352l3 0M573 795l11 12M523 536l4 7M696 506l2 13M1649 350l0 3M782 600l-3 15M706 438l0 6M900 747l6 10M844 605l2 17M932 17l3 11M326 330l11 6M873 641l4 11M652 60l5 6M115 168l9 4M743 770l5 14M1433 484l3 5M1084 518l11 14M614 613l4 6M1497 490l4 1M650 408l3 10M536 -12l7 5M922 913l13 5M538 848l10 15M1576 472l1 3M562 848l2 14M873 82l2 13M543 339l5 7M378 290l10 9M1556 446l-1 4M454 99l13 11M311 326l9 7M509 882l7 6M1030 852l13 9M996 743l8 4M804 161l2 11M318 52l10 4M739 34l4 7M1439 322l6 1M900 766l18 4M674 562l2 9M704 428l1 9M1322 430l0 2M102 152l13 5M95 269l12 5M864 812l8 11M977 604l8 14M440 -3l15 6M455 289l7 8M806 690l4 8M196 262l16 11M706 626l4 17M810 932l14 10M828 732l10 8M301 -9l8 4M934 955l9 6M352 647l11 15M913 148l2 10M651 640l2 9M708 826l7 6M1002 929l7 6M958 622l5 8M729 792l10 14M839 77l1 11M890 672l8 10M1335 330l-2 4M93 110l10 3M750 423l0 12M188 322l15 9M905 470l2 8M826 322l1 9M222 119l11 7M787 631l3 13M508 833l8 9M1664 455l5 -1M308 80l14 5M1045 989l13 13M825 569l2 16M238 413l10 5M789 54l2 8M646 789l9 10M610 872l8 15M1017 969l14 9M272 181l15 6M620 326l3 6M482 649l9 16M1552 420l0 5M636 477l8 16M783 571l1 12M525 63l9 6M128 301l10 4M1579 412l2 2M308 351l11 6M888 157l2 8M772 713l11 15M1467 348l4 0M528 875l8 9M130 0l19 7M895 615l2 13M543 480l7 7M1471 409l4 0M644 167l3 5M1428 365l7 1M858 806l8 9M822 -8l1 7M814 517l-3 12M927 870l15 7M957 879l14 9M1397 490l0 6M162 19l14 5M569 613l4 12M369 425l14 9M1341 477l4 1M595 144l3 5M744 73l3 7M999 504l8 9M681 237l3 10M1057 500l7 12M256 27l9 4M395 12l10 6M469 274l13 14M790 763l5 9M723 252l3 12M507 585l5 12M594 999l9 13M494 372l7 10M1502 344l-1 5M493 373l12 12M724 147l2 7M618 776l11 11M1514 370l2 3M41 -9l16 4M515 69l5 3M269 335l9 6M829 850l10 10M862 271l2 13M985 601l-1 16M714 39l5 8M1545 430l3 3M504 826l6 9M1284 492l-2 6M1485 448l4 1M966 718l14 5M888 868l9 6M830 186l2 11M255 74l19 5M134 380l12 7M541 711l5 9" stroke="#f16c2d" stroke-width="3" stroke-linecap="round" fill="none"/>
<path d="M895 437l3 13M1382 99l3 5M689 225l2 6M1448 23l3 7M50 424l17 7M1565 103l1 4M1362 142l1 3M1256 337l3 7M810 996l12 12M506 2l5 4M1674 123l5 6M1431 343l3 2M1576 127l0 4M1263 260l2 4M988 555l4 14M274 31l10 3M45 177l11 6M596 311l4 6M796 26l2 8M1579 160l4 6M1119 128l4 7M1422 28l3 6M989 925l9 2M523 800l5 14M873 732l6 7M1268 226l3 6M832 803l13 3M1362 286l3 5M735 658l8 15M882 251l1 9M399 345l15 10M944 250l0 4M1038 105l2 6M595 192l7 9M261 58l9 6M431 421l13 11M162 210l13 8M999 197l3 7M595 356l4 11M514 254l7 8M466 86l9 7M825 908l13 4M1331 161l3 6M1564 36l1 4M795 477l0 13M801 822l13 13M1595 268l2 5M1448 509l-1 5M667 259l3 6M998 721l17 7M240 10l13 6M536 62l7 7M701 371l3 13M1227 152l3 6M368 126l18 8M1530 91l2 5M42 285l12 6M1457 240l1 4M1067 317l1 7M983 161l1 3M1360 303l3 6M1553 22l1 7M1082 290l2 7M77 307l9 5M557 914l5 8M660 266l5 13M633 151l4 6M1287 443l3 7M1044 915l16 7M1642 40l4 6M1370 432l1 5M1024 493l2 6M1061 77l2 4M1352 449l-1 3M1247 165l2 6M685 816l6 7M469 317l4 4M818 26l1 9M828 219l3 13M1317 121l2 3M889 158l3 13M314 416l13 5M780 276l1 9M1628 254l2 4M729 142l6 11M941 596l-2 17M1349 340l4 1M848 25l2 12M716 309l2 6M1140 62l0 3M1455 319l4 3M63 55l11 2M1344 243l3 4M1214 185l1 3M395 306l15 11M1467 148l1 3M1224 97l3 4M804 429l4 13M245 287l14 11M274 69l16 5M1089 11l2 3M998 51l2 8M1480 6l2 6M582 835l6 13M388 -23l13 4M1656 398l4 0M644 888l13 9M1600 426l2 5M1257 206l1 6M1036 713l14 6M160 41l16 5M823 411l1 10M1338 -1l3 6M1478 228l2 4M971 50l3 8M1517 413l5 2M885 810l7 5M1590 452l0 3M537 304l6 9M1515 228l1 6M1618 259l3 6M981 111l1 5M1138 272l2 5M1547 194l1 3M1670 14l4 5M757 70l4 13M396 44l18 9M731 114l1 8M70 291l15 8M320 -21l9 3M463 27l11 6M485 247l7 5M670 846l9 11M1432 121l3 7M755 822l7 12M936 680l9 7M738 142l3 7M726 339l3 10M153 264l16 8M545 269l6 7M806 864l12 8M1624 226l1 5M956 194l0 4M177 34l11 8M1129 432l1 5M771 737l7 15M1216 359l1 5M1493 227l1 5M1173 142l2 6M520 246l8 9M911 760l14 7M232 171l14 8M1272 334l1 4M1238 487l3 7M708 878l13 11M721 735l9 7M1314 104l2 6M114 190l15 6M1524 343l1 2M990 344l-1 6M1348 135l1 4M1225 219l1 7M835 229l1 13M1299 243l2 4M767 354l0 11M467 133l13 10M1007 765l13 7M896 65l3 13M1579 296l5 5M632 202l5 7M1100 199l1 4M740 272l5 12M1419 281l2 4M1302 302l2 6M1125 396l2 7M1486 488l2 4M307 91l9 4M1019 777l9 7M484 150l5 4M1138 363l1 6M305 248l13 10M910 968l13 5M1526 18l2 4M365 106l13 5M694 623l1 13M780 30l2 10M700 34l3 6M928 384l2 8M595 218l6 11M508 212l5 5M492 68l7 5M1627 -12l1 6M1144 49l2 6M563 660l3 10M533 721l8 14M946 380l2 8M799 495l-1 13M552 167l6 7M1393 370l-2 3M1319 206l2 4M1065 46l2 5M54 316l10 6M924 282l3 10M1401 131l2 5M1065 182l4 5M1460 454l3 5M1480 197l2 4M289 119l16 6M1181 5l1 3M977 777l7 4M765 766l10 10M230 229l10 7M1004 223l2 4M1009 496l1 3M518 145l9 8M201 159l8 4M686 946l11 14M545 330l6 8M1398 305l4 0M1194 181l2 7M1094 168l1 4M836 733l8 8M337 29l14 6M928 219l1 4M1027 788l11 3M733 490l0 12M479 334l4 5M1288 220l3 7M782 165l3 13M344 302l7 6M1271 19l2 3M973 299l-1 4M1313 433l4 2M751 31l5 10M735 975l11 13M1238 171l1 3M607 235l4 7M1511 73l2 3M790 296l2 12M900 374l1 10M496 720l6 6M1371 74l3 6M1265 70l2 4M1387 283l2 7M1333 171l2 5M1097 71l3 6" stroke="#f16c2d" stroke-width="4" stroke-linecap="round" fill="none"/>
<path d="M758 415l1 8M1455 -2l2 3M959 46l1 8M1253 145l2 5M19 177l12 4M747 172l1 6M1311 85l2 7M1412 13l3 8M1327 495l0 3M1620 94l3 5M1384 157l2 8M1514 303l6 5M1395 183l4 7M28 55l11 4M966 67l1 3M1048 253l3 4M1228 112l2 4M327 162l8 6M1295 47l2 7M1311 294l2 6M498 93l13 11M1346 1l2 3M1651 44l1 4M596 405l5 10M858 341l2 12M1127 320l2 7M1623 509l1 6M485 -3l7 4M455 404l8 10M1149 81l1 3M1613 43l2 4M1170 427l1 8M1292 344l1 4M1480 130l2 4M1027 38l1 5M1328 40l2 5M742 220l2 6M1017 162l1 3M1066 171l1 3M1558 68l2 4M1644 289l2 3M1042 331l1 5M1410 463l0 7M1106 237l2 4M478 291l7 7M1214 54l3 5M1029 231l2 5M1396 21l3 6M1596 326l-1 2M670 402l4 10M45 210l11 6M1643 425l-2 4M1663 95l1 6M1164 191l2 6M763 472l2 10M893 129l3 10M397 261l8 8M913 222l1 9M1014 174l3 7M1582 79l3 6M1002 69l1 5M1126 102l3 7M527 171l7 5M648 56l7 7M1336 409l1 2M1217 456l0 5M1207 309l0 3M1505 171l3 8M977 202l2 5M1085 167l4 6M779 422l1 12M1017 484l3 7M43 354l8 6M1103 150l4 7M85 124l18 6M955 18l1 3M1098 320l3 8M811 449l-1 9M1070 297l1 3M96 31l14 7M340 47l15 6M1310 217l2 6M1230 440l3 7M1336 233l2 3M1420 102l1 7M1668 246l2 4M1540 231l2 5M209 238l10 4M1079 102l2 5M1344 281l3 7M1006 -14l0 5M1319 499l1 4M687 370l3 11M200 54l16 4M566 262l6 8M853 140l1 8M279 265l12 7M723 499l1 12M1291 137l3 5M1231 89l2 5M690 213l5 10M1418 -14l2 2M1311 368l3 2M1422 237l3 4M572 236l7 10M684 248l2 6M1188 304l2 7M796 177l2 8M1609 144l3 6M1475 392l6 2M1432 391l6 -1M1469 28l2 4M1084 132l3 5M944 282l1 6M1064 234l1 6M1181 58l3 5M710 106l5 11M781 10l6 12M1396 447l0 3M1540 308l3 2M863 344l1 13M1644 -7l2 5M1193 295l4 7M599 -3l5 5M383 65l10 4M1662 362l3 2M1437 205l2 4M1611 400l5 1M675 204l7 12M888 401l0 7M330 304l13 8M1136 211l3 6M1142 252l1 4M1597 2l2 7M1283 276l1 4M1502 32l2 6M1234 0l2 5M1289 25l2 5M474 376l5 7M1623 159l1 7M1030 388l1 6M784 320l0 8M1653 350l5 3M414 234l15 13M396 329l13 11M863 424l1 9M867 93l1 10M1558 171l2 4M1144 -8l2 7M892 237l1 14M1521 58l3 6M1149 380l1 5M1604 15l2 4M1133 181l0 5M805 230l1 7M606 112l5 6M930 34l2 5M1491 479l4 5M1266 273l2 5M1569 221l3 4M1412 159l1 3M1121 99l1 4M852 32l3 11M104 37l9 4M618 -16l4 5M1080 269l1 6M1348 82l2 6M784 415l1 12M28 111l13 5M697 324l1 7M1356 199l2 5M778 98l4 7M1402 48l3 3M1415 149l3 6M1548 482l1 2M1560 343l4 1M170 50l15 3M935 417l0 6M1521 44l5 5M1200 487l2 7M406 383l11 9M829 422l1 9M655 109l5 9M1188 86l1 3M972 227l1 4M680 311l6 9M66 -30l11 2M767 375l2 7M1598 498l2 3M1236 28l2 6M1170 487l2 5M166 84l16 5M1586 256l3 7M1296 159l3 5M1156 222l3 5M1564 383l5 3M943 8l0 8M1558 241l3 5M1163 114l2 3M1215 -20l0 5M971 444l2 7M1193 422l-1 8M1000 149l1 7M1328 118l0 6M942 86l2 5M1527 462l3 2M279 158l9 5M1088 45l3 7M1480 67l3 5M959 185l2 5M431 210l14 8M1390 75l2 6M1451 365l3 1M426 286l9 7M928 300l1 5M940 170l2 5M650 323l2 8M1228 142l3 7M1162 3l3 4M1553 297l3 5M1141 405l2 3M731 116l4 8M999 25l2 5M1551 156l2 4M672 74l5 6M1159 360l1 6M1039 202l2 7M1002 378l1 5M777 83l3 12M720 191l3 12M994 99l2 4M1321 486l0 5M1619 311l3 4M1606 67l4 4M1550 54l3 5M1489 82l2 6M815 267l3 12" stroke="#f16c2d" stroke-width="5" stroke-linecap="round" fill="none"/>
<path d="M1397 306l4 6M1667 271l3 3M1001 273l1 7M1054 223l1 3M1234 249l1 5M1169 163l4 6M1437 257l2 3M1622 218l3 6M1487 294l4 6M970 158l1 8M1375 124l2 4M1536 165l3 6M1516 272l2 6M1653 230l2 4M1172 250l2 7M1227 63l2 5M928 284l0 4M956 147l2 5M1150 281l1 3M1172 217l1 4M1337 31l3 3M1388 96l2 7M1313 159l0 4M1616 12l1 3M1275 35l2 4M1372 194l1 3M936 57l1 4M1092 295l1 8M1147 233l2 7M1299 174l2 3M1375 251l3 4M1019 15l2 6M1406 213l2 5M1195 281l0 5M1631 180l2 4M1406 254l2 6M1377 50l2 4M1446 45l5 5M1612 104l2 7M1327 241l2 4M992 123l2 7M970 25l3 8M938 112l0 5M1023 86l1 6M1089 201l3 5M1220 216l2 5M1533 211l3 6M1416 251l3 4M1217 14l3 6M1462 288l2 4M1522 160l1 5M1478 95l4 6" stroke="#f16c2d" stroke-width="6" stroke-linecap="round" fill="none"/>
<path d="M350 539l14 11M307 482l26 12M320 433l13 8M421 572l21 22M133 456l18 4M73 499l29 6M297 557l14 9M44 530l25 2M342 572l18 17M355 484l12 7M46 479l18 1M240 604l23 16M262 607l16 14M397 612l12 14M94 472l20 0M290 528l22 12M130 414l23 7M121 596l17 6M355 457l13 8M244 481l24 7M37 565l27 5M183 533l25 10M407 579l9 10M23 566l26 7M112 514l29 6M141 526l29 7M46 500l27 6M292 566l20 13M363 617l22 20M364 415l15 7M179 599l18 9M56 433l15 6M91 580l15 5M54 549l17 3M194 592l18 6M446 591l12 17M425 481l18 15M69 584l15 3" stroke="#7feb8c" stroke-width="2" stroke-dasharray="3 4" fill="none"/>
<path d="M1111 428l8 11M992 615l5 10M730 810l9 6M911 788l17 9M498 580l8 9M662 777l9 9M795 800l11 15M737 719l11 14M1206 384l11 15M446 942l3 5M455 683l5 7M518 938l7 12M542 444l6 4M805 712l11 12M756 916l4 8M841 754l8 4M844 826l9 4M701 815l7 13M831 714l14 13M670 635l7 13M1182 337l13 12M674 597l4 12M412 743l1 7M587 691l3 13M631 440l3 18M596 765l10 11M586 848l8 6M1270 407l6 9M534 557l8 15M410 953l11 5M545 731l9 14M666 733l13 12M385 679l1 6M804 928l6 7M446 653l2 7M983 614l3 11M395 712l3 9M752 593l1 14M728 701l5 9M783 920l9 5M582 916l7 15M456 544l7 5M555 920l8 9M635 858l6 10M683 559l2 13M462 598l2 17M903 871l8 3M499 415l6 6M872 526l2 12M595 964l11 13M982 637l2 11M626 852l7 9M369 670l9 10M955 639l8 9M310 667l6 3M798 768l10 9M381 635l9 2M579 785l13 11M719 949l5 9M531 648l8 13M628 551l4 8M579 745l13 13M455 900l-7 10M609 939l9 13" stroke="#7feb8c" stroke-width="2" stroke-linecap="round" fill="none"/>
<path d="M677 22l3 5M658 468l5 17M730 -18l4 10M726 932l7 7M109 68l10 3M812 204l1 13M469 205l16 14M405 4l9 6M895 871l8 6M667 512l6 16M696 883l9 10M688 453l2 12M207 99l15 4M1370 331l0 3M1319 323l1 2M576 220l4 5M660 127l7 8M316 44l15 8M1456 351l4 0M551 770l11 13M514 522l4 7M690 481l3 13M1650 342l0 4M785 571l-1 14M706 427l0 6M887 726l6 11M841 571l1 17M926 -5l3 11M305 319l11 5M866 619l3 11M643 47l5 6M96 160l9 4M730 742l7 14M1429 472l2 6M1063 488l11 15M606 602l4 6M1488 487l5 1M644 388l4 10M522 -22l7 5M896 902l13 6M517 818l11 15M1573 466l2 3M555 822l4 13M868 56l2 13M531 324l6 7M358 271l10 9M1557 437l0 5M428 77l13 11M291 313l10 7M495 869l7 6M1003 832l13 10M980 733l8 5M801 138l2 11M299 45l10 3M732 19l3 7M1427 320l6 1M866 754l17 6M670 544l2 9M702 410l1 9M1322 424l0 3M76 142l13 5M69 258l13 5M846 790l9 11M964 572l6 16M410 -13l15 5M440 273l7 8M799 673l3 9M162 242l17 10M704 593l0 17M781 910l14 11M810 716l9 8M283 -18l9 4M917 943l9 6M328 619l13 14M911 126l1 11M648 621l1 9M695 814l7 6M988 918l7 6M951 607l3 8M709 763l10 14M835 55l2 11M878 648l5 12M1337 322l-1 4M74 103l10 3M749 398l0 12M156 304l16 9M903 453l1 8M823 305l2 8M200 105l11 7M785 605l1 13M491 815l9 9M1655 456l5 -1M281 70l14 5M1018 966l14 11M820 537l3 16M217 404l10 5M786 37l2 8M630 767l8 11M593 842l9 15M990 951l13 9M242 168l15 6M614 314l3 6M464 617l9 16M1551 410l1 5M620 445l8 16M781 548l1 12M506 50l9 6M107 291l11 5M1577 408l1 2M285 342l11 5M885 140l1 9M754 681l8 16M1461 347l3 1M511 856l8 9M93 -14l18 7M891 588l2 13M528 466l8 7M1463 410l4 -1M638 157l3 5M1415 362l7 2M841 789l8 8M821 -21l0 6M818 494l-2 12M897 856l15 7M928 860l14 10M1396 479l1 6M134 11l14 4M560 591l5 11M341 409l14 8M1334 476l3 1M588 133l3 6M737 60l4 7M981 486l9 9M675 217l3 10M1044 476l7 12M239 19l9 4M376 1l10 6M440 248l15 13M779 743l5 10M716 229l4 12M494 560l7 12M576 974l9 13M480 353l7 10M1503 334l-1 5M469 348l12 12M718 133l3 7M598 754l10 11M1509 363l2 3M10 -16l15 4M504 62l5 3M252 323l8 6M811 829l9 11M858 245l2 13M988 568l-2 16M705 23l4 8M1539 425l3 2M491 809l6 8M1286 480l-1 6M1478 448l4 0M941 705l12 7M870 857l9 6M826 162l2 12M217 63l19 5M111 365l11 7M531 693l5 9" stroke="#7feb8c" stroke-width="3" stroke-linecap="round" fill="none"/>
<path d="M889 411l3 13M1378 87l2 6M684 213l2 6M1442 8l3 7M17 411l17 7M1562 95l1 4M1360 136l1 3M1251 322l2 7M786 973l12 12M497 -6l5 4M1665 110l5 6M1426 339l3 2M1575 117l0 5M1259 250l2 5M982 525l3 15M255 25l10 3M23 167l11 5M587 297l4 7M792 10l2 8M1570 149l4 6M1112 114l4 7M1417 17l3 6M972 918l9 4M510 774l7 13M858 718l8 7M1263 216l3 5M809 794l11 5M1358 276l2 5M723 627l5 16M882 233l0 9M369 326l15 9M944 242l0 4M1034 95l2 5M581 174l7 9M241 48l10 5M404 401l14 10M135 195l13 8M995 183l2 7M586 335l4 11M500 239l7 7M448 73l9 7M802 898l11 5M1325 150l3 6M1563 29l1 3M795 450l0 13M775 793l13 14M1591 258l2 5M1447 498l0 5M663 248l2 6M967 703l15 10M216 -2l12 6M520 49l8 7M696 345l3 13M1220 142l3 5M334 111l17 8M1526 81l2 5M18 274l12 6M1456 233l1 4M1063 303l2 7M982 153l1 4M1355 292l2 6M1552 8l1 7M1078 276l2 7M59 297l9 5M546 899l5 8M651 241l5 12M625 138l4 7M1283 429l2 7M1011 900l16 8M1636 27l3 6M1368 422l1 5M1021 481l2 6M1058 70l2 4M1353 444l-1 3M1245 153l1 6M675 802l5 7M460 308l4 5M816 8l1 9M822 193l3 13M1314 115l1 3M884 132l3 13M290 406l12 5M777 257l1 9M1625 246l2 4M718 119l6 11M944 562l-2 17M1340 338l5 1M843 2l2 12M713 297l2 6M1139 56l0 3M1446 311l5 4M41 51l11 2M1338 235l3 4M1213 179l0 3M365 284l15 11M1464 141l2 4M1219 89l3 4M796 403l4 13M216 265l15 11M243 60l16 5M1086 4l2 4M995 36l2 8M1474 -6l3 6M570 809l6 13M362 -32l13 4M1650 397l3 1M619 869l13 10M1595 415l2 5M1255 193l1 6M1008 697l13 9M127 32l17 5M820 392l1 9M1333 -11l3 5M1473 220l2 4M966 35l3 7M1509 408l4 3M872 800l6 5M1588 447l1 2M525 285l6 10M1512 217l1 5M1612 245l3 7M980 100l0 5M1135 261l1 5M1544 187l1 3M1663 3l3 6M748 45l5 12M360 26l18 8M729 100l1 7M40 274l15 8M302 -28l9 3M442 17l11 5M471 238l7 4M653 823l8 12M1426 107l3 7M741 800l7 11M920 662l8 9M732 128l3 7M721 320l3 10M120 249l16 8M531 256l7 7M783 844l11 10M1620 216l2 5M954 187l1 4M154 19l11 7M1127 424l1 4M758 706l6 15M1213 348l2 6M1492 216l0 5M1170 130l2 6M504 229l8 8M884 745l13 8M204 156l14 8M1272 326l0 4M1233 472l3 7M683 855l13 11M704 720l8 8M1309 93l2 5M84 178l15 6M1523 338l1 2M990 333l0 5M1346 128l1 4M1222 206l1 7M833 204l1 13M1295 235l2 4M764 331l2 11M442 114l13 9M980 750l13 8M891 38l3 13M1570 286l5 5M622 188l6 7M1098 191l1 4M731 249l5 12M1415 272l2 5M1298 291l2 6M1121 382l2 7M1482 478l2 5M288 84l10 4M1001 764l9 7M474 143l5 3M1137 350l1 7M279 230l13 9M884 957l13 6M1522 10l2 4M339 97l13 5M692 598l1 13M775 9l3 10M693 23l4 6M925 369l2 8M584 197l6 11M500 202l4 5M479 59l6 4M1624 -26l1 7M1140 35l2 7M556 639l3 10M518 691l7 15M943 365l2 8M799 470l0 12M541 154l6 6M1396 362l-1 4M1315 198l2 4M1062 35l2 6M32 304l11 6M918 262l3 10M1398 122l2 5M1057 173l4 5M1454 445l3 5M1478 189l1 4M257 107l16 6M1179 -1l1 3M963 767l7 5M745 746l10 10M209 215l11 7M1000 215l2 4M1008 490l1 3M501 128l9 8M184 151l8 4M667 916l9 15M531 312l7 9M1390 303l4 1M1191 165l2 8M1091 160l2 4M821 718l8 7M307 18l15 6M924 210l2 4M1006 780l11 4M733 466l0 12M472 323l4 5M1284 206l2 7M777 140l3 12M330 290l7 6M1267 13l2 3M974 290l-1 5M1304 431l4 1M738 10l7 10M712 949l12 13M1237 164l1 3M599 221l4 7M1509 66l1 3M787 272l2 12M897 355l2 9M484 708l6 7M1366 64l3 5M1260 62l3 4M1383 269l2 7M1331 163l1 4M1090 58l4 7" stroke="#7feb8c" stroke-width="4" stroke-linecap="round" fill="none"/>
<path d="M756 401l1 7M1451 -8l2 3M955 31l2 7M1250 135l1 5M-5 170l12 4M744 159l1 6M1307 73l2 6M1406 -1l3 7M1325 489l1 3M1616 83l2 5M1382 141l1 8M1504 292l5 6M1389 170l3 6M5 46l11 4M964 61l1 3M1043 244l3 4M1225 104l1 4M311 149l8 6M1289 35l3 6M1306 281l2 7M472 73l13 10M1342 -5l2 3M1648 35l1 5M584 387l6 9M855 317l2 12M1123 305l2 7M1621 496l1 6M472 -12l7 4M438 385l8 9M1145 76l2 3M1608 35l3 4M1168 411l1 8M1291 336l1 4M1476 123l2 4M1026 29l1 5M1323 30l2 5M737 207l3 6M1014 156l1 3M1064 165l1 3M1554 59l2 4M1639 282l2 4M1040 320l1 5M1411 451l-1 6M1104 228l1 5M463 277l7 7M1208 44l3 5M1024 221l3 5M1389 9l3 6M1597 322l0 2M662 383l4 9M24 196l11 7M1647 417l-2 4M1659 81l2 7M1162 180l1 5M759 453l2 10M888 110l3 9M381 245l8 8M910 205l1 9M1008 160l3 7M1576 68l3 6M999 59l2 5M1120 88l3 7M513 160l7 5M634 42l7 7M1333 404l2 2M1216 446l1 5M1206 303l1 3M1499 157l3 7M974 191l1 6M1079 154l3 6M777 397l1 12M1012 470l2 7M27 342l8 6M1097 137l3 7M48 111l18 6M953 11l1 3M1093 306l3 7M812 430l-1 9M1067 290l2 4M67 18l15 7M310 35l15 6M1306 207l2 5M1225 425l3 7M1332 225l2 4M1417 90l2 6M1663 238l2 4M1536 222l2 4M190 229l10 4M1076 92l2 5M1338 267l3 7M1004 -22l1 4M1315 492l2 4M681 350l3 10M167 46l16 4M556 247l5 7M851 124l1 8M255 251l12 7M722 476l1 11M1284 126l3 5M1227 78l2 6M680 193l5 10M1414 -19l2 2M1305 363l3 3M1418 228l2 4M556 217l8 9M680 237l2 5M1185 289l2 7M791 160l2 8M1602 130l4 7M1464 387l6 2M1420 393l6 -1M1467 20l1 4M1080 120l2 6M942 272l1 5M1063 222l1 6M1176 48l2 5M698 84l6 11M770 -14l6 12M1395 440l0 3M1535 303l3 2M859 320l2 12M1642 -18l1 6M1185 282l4 6M589 -13l5 5M362 56l10 4M1658 359l2 2M1434 197l2 4M1603 397l4 2M661 181l7 11M889 387l0 7M303 289l13 7M1131 200l3 6M1141 245l1 3M1592 -10l2 6M1280 267l1 5M1497 20l3 6M1230 -9l2 5M1284 16l2 4M464 364l5 6M1620 145l1 7M1028 377l1 6M782 304l1 8M1642 343l5 4M383 209l16 12M368 308l14 11M859 406l2 9M865 74l1 10M1555 163l2 4M1141 -22l1 7M888 211l2 13M1514 44l3 7M1146 370l1 5M1601 6l2 4M1133 171l0 5M803 215l1 8M595 99l6 6M926 22l2 6M1482 469l5 5M1261 265l2 4M1563 213l3 4M1409 153l1 3M1119 90l1 5M847 11l3 11M84 29l10 4M608 -26l5 5M1077 257l1 6M1343 69l2 6M783 389l1 13M2 101l13 5M693 309l2 8M1351 191l2 4M772 83l3 7M1397 41l3 4M1410 137l3 6M1547 477l1 3M1553 342l3 0M141 43l14 3M934 406l1 6M1512 34l4 5M1196 474l2 7M383 364l11 9M827 404l1 9M646 93l5 8M1187 79l1 3M971 218l0 4M668 292l6 9M45 -34l11 2M762 361l3 7M1593 491l2 3M1231 16l3 6M1167 475l2 6M133 74l17 5M1579 243l3 7M1289 148l3 5M1152 212l2 5M1553 376l5 3M942 -6l1 7M1553 233l3 4M1160 108l1 3M1213 -28l1 4M969 429l1 7M1194 406l-1 8M996 133l2 8M1326 106l1 6M938 75l2 5M1520 461l4 0M262 149l9 4M1082 31l3 7M1475 56l3 6M956 174l2 6M402 194l15 8M1386 64l2 6M1446 364l3 0M409 273l9 6M925 291l1 4M936 162l2 4M645 309l2 7M1221 129l4 7M1157 -5l3 4M1549 288l2 5M1139 398l1 3M725 100l3 8M996 16l2 4M1548 148l1 4M661 62l6 6M1159 348l0 6M1037 189l1 7M1001 370l0 4M770 58l4 13M716 168l2 12M991 92l2 4M1322 476l0 5M1615 303l2 4M1599 59l4 4M1544 44l3 5M1485 70l2 6M810 243l2 12" stroke="#7feb8c" stroke-width="5" stroke-linecap="round" fill="none"/>
<path d="M1390 293l3 7M1660 264l3 3M999 258l1 7M1052 217l1 3M1230 240l2 5M1163 150l3 6M1433 251l2 3M1617 205l2 7M1481 282l3 6M969 143l0 8M1372 116l2 4M1530 151l3 7M1514 260l1 6M1649 224l2 3M1169 237l2 6M1223 54l2 4M926 276l1 4M951 138l2 4M1148 274l1 3M1170 211l1 3M1332 26l3 3M1382 84l3 6M1311 151l1 4M1614 6l1 3M1271 26l2 4M1369 189l1 2M932 49l2 4M1091 279l1 8M1143 219l2 7M1296 168l1 3M1370 243l2 4M1015 5l2 5M1401 203l3 5M1195 271l0 5M1628 171l1 5M1403 244l2 5M1375 41l1 5M1437 36l5 5M1606 90l3 7M1323 233l2 4M989 111l2 6M965 10l3 8M939 103l0 4M1020 74l2 6M1083 193l3 4M1216 207l2 4M1527 198l3 6M1411 242l3 5M1211 1l3 7M1458 281l2 4M1519 152l2 4M1472 84l3 6" stroke="#7feb8c" stroke-width="6" stroke-linecap="round" fill="none"/>
<path d="M364 550l14 11M333 494l24 14M333 441l14 8M442 594l20 24M151 460l18 5M102 505l28 7M311 566l13 10M69 532l24 3M360 589l16 17M367 491l11 8M64 480l19 2M263 620l21 17M278 621l15 15M409 626l12 14M114 472l20 2M312 540l22 14M153 421l24 6M138 602l17 7M368 465l13 10M268 488l24 9M64 570l26 5M208 543l24 11M416 589l9 11M49 573l26 7M141 520l29 7M170 533l29 7M73 506l27 7M312 579l19 15M385 637l21 22M379 422l14 7M197 608l17 9M71 439l15 5M106 585l16 5M71 552l16 3M212 598l18 6M458 608l11 17M443 496l16 17M84 587l16 4" stroke="#bac060" stroke-width="2" stroke-dasharray="3 4" fill="none"/>
<path d="M1119 439l9 12M997 625l6 9M739 816l9 6M928 797l17 7M506 589l8 10M671 786l10 9M806 815l12 14M748 733l13 13M1217 399l11 15M449 947l4 5M460 690l5 8M525 950l7 12M548 448l7 4M816 724l12 11M760 924l3 8M849 758l7 4M853 830l9 5M708 828l7 13M845 727l15 12M677 648l7 13M1195 349l12 13M678 609l3 13M413 750l1 6M590 704l4 13M634 458l3 18M606 776l11 12M594 854l9 6M1276 416l6 8M542 572l8 15M421 958l12 4M554 745l8 14M679 745l12 11M386 685l1 5M810 935l7 7M448 660l2 7M986 625l5 10M398 721l1 10M753 607l1 14M733 710l6 8M792 925l9 5M589 931l6 16M463 549l6 5M563 929l8 10M641 868l6 10M685 572l2 13M464 615l2 16M911 874l9 2M505 421l5 7M874 538l0 12M606 977l12 12M984 648l2 11M633 861l8 9M378 680l8 11M963 648l8 9M316 670l6 2M808 777l9 9M390 637l10 3M592 796l14 11M724 958l5 9M539 661l7 13M632 559l3 8M592 758l13 13M448 910l-8 10M618 952l9 13" stroke="#bac060" stroke-width="2" stroke-linecap="round" fill="none"/>
<path d="M680 27l3 6M663 485l4 17M734 -8l4 10M733 939l6 7M119 71l11 3M813 217l2 12M485 219l14 14M414 10l9 6M903 877l8 7M673 528l5 16M705 893l9 9M690 465l3 12M222 103l14 5M1370 334l0 2M1320 325l0 3M580 225l5 4M667 135l7 8M331 52l14 7M1460 351l3 1M562 783l11 12M518 529l5 7M693 494l3 12M1650 346l-1 4M784 585l-2 15M706 433l0 5M893 737l7 10M842 588l2 17M929 6l3 11M316 324l10 6M869 630l4 11M648 53l4 7M105 164l10 4M737 756l6 14M1431 478l2 6M1074 503l10 15M610 608l4 5M1493 488l4 2M648 398l2 10M529 -17l7 5M909 908l13 5M528 833l10 15M1575 469l1 3M559 835l3 13M870 69l3 13M537 331l6 8M368 280l10 10M1557 442l-1 4M441 88l13 11M301 320l10 6M502 875l7 7M1016 842l14 10M988 738l8 5M803 149l1 12M309 48l9 4M735 26l4 8M1433 321l6 1M883 760l17 6M672 553l2 9M703 419l1 9M1322 427l0 3M89 147l13 5M82 263l13 6M855 801l9 11M970 588l7 16M425 -8l15 5M447 281l8 8M802 682l4 8M179 252l17 10M704 610l2 16M795 921l15 11M819 724l9 8M292 -14l9 5M926 949l8 6M341 633l11 14M912 137l1 11M649 630l2 10M702 820l6 6M995 924l7 5M954 615l4 7M719 777l10 15M837 66l2 11M883 660l7 12M1336 326l-1 4M84 106l9 4M749 410l1 13M172 313l16 9M904 461l1 9M825 313l1 9M211 112l11 7M786 618l1 13M500 824l8 9M1660 455l4 0M295 75l13 5M1032 977l13 12M823 553l2 16M227 409l11 4M788 45l1 9M638 778l8 11M602 857l8 15M1003 960l14 9M257 174l15 7M617 320l3 6M473 633l9 16M1552 415l0 5M628 461l8 16M782 560l1 11M515 56l10 7M118 296l10 5M1578 410l1 2M296 347l12 4M886 149l2 8M762 697l10 16M1464 348l3 0M519 865l9 10M111 -7l19 7M893 601l2 14M536 473l7 7M1467 409l4 0M641 162l3 5M1422 364l6 1M849 797l9 9M821 -15l1 7M816 506l-2 11M912 863l15 7M942 870l15 9M1397 485l0 5M148 15l14 4M565 602l4 11M355 417l14 8M1337 477l4 0M591 139l4 5M741 67l3 6M990 495l9 9M678 227l3 10M1051 488l6 12M248 23l8 4M386 7l9 5M455 261l14 13M784 753l6 10M720 241l3 11M501 572l6 13M585 987l9 12M487 363l7 9M1502 339l0 5M481 360l12 13M721 140l3 7M608 765l10 11M1511 366l3 4M25 -12l16 3M509 65l6 4M260 329l9 6M820 840l9 10M860 258l2 13M986 584l-1 17M709 31l5 8M1542 427l3 3M497 817l7 9M1285 486l-1 6M1482 448l3 0M953 712l13 6M879 863l9 5M828 174l2 12M236 68l19 6M122 372l12 8M536 702l5 9" stroke="#bac060" stroke-width="3" stroke-linecap="round" fill="none"/>
<path d="M892 424l3 13M1380 93l2 6M686 219l3 6M1445 15l3 8M34 418l16 6M1563 99l2 4M1361 139l1 3M1253 329l3 8M798 985l12 11M502 -2l4 4M1670 116l4 7M1429 341l2 2M1575 122l1 5M1261 255l2 5M985 540l3 15M265 28l9 3M34 172l11 5M591 304l5 7M794 18l2 8M1574 155l5 5M1116 121l3 7M1420 23l2 5M981 922l8 3M517 787l6 13M866 725l7 7M1266 221l2 5M820 799l12 4M1360 281l2 5M728 643l7 15M882 242l0 9M384 335l15 10M944 246l0 4M1036 100l2 5M588 183l7 9M251 53l10 5M418 411l13 10M148 203l14 7M997 190l2 7M590 346l5 10M507 246l7 8M457 80l9 6M813 903l12 5M1328 156l3 5M1564 32l0 4M795 463l0 14M788 807l13 15M1593 263l2 5M1447 503l1 6M665 254l2 5M982 713l16 8M228 4l12 6M528 56l8 6M699 358l2 13M1223 147l4 5M351 119l17 7M1528 86l2 5M30 280l12 5M1457 237l0 3M1065 310l2 7M983 157l0 4M1357 298l3 5M1553 15l0 7M1080 283l2 7M68 302l9 5M551 907l6 7M656 253l4 13M629 145l4 6M1285 436l2 7M1027 908l17 7M1639 33l3 7M1369 427l1 5M1023 487l1 6M1060 74l1 3M1352 447l0 2M1246 159l1 6M680 809l5 7M464 313l5 4M817 17l1 9M825 206l3 13M1315 118l2 3M887 145l2 13M302 411l12 5M778 266l2 10M1627 250l1 4M724 130l5 12M942 579l-1 17M1345 339l4 1M845 14l3 11M715 303l1 6M1139 59l1 3M1451 315l4 4M52 53l11 2M1341 239l3 4M1213 182l1 3M380 295l15 11M1466 145l1 3M1222 93l2 4M800 416l4 13M231 276l14 11M259 65l15 4M1088 8l1 3M997 44l1 7M1477 0l3 6M576 822l6 13M375 -28l13 5M1653 398l3 0M632 879l12 9M1597 420l3 6M1256 199l1 7M1021 706l15 7M144 37l16 4M821 401l2 10M1336 -6l2 5M1475 224l3 4M969 42l2 8M1513 411l4 2M878 805l7 5M1589 449l1 3M531 295l6 9M1513 222l2 6M1615 252l3 7M980 105l1 6M1136 266l2 6M1545 190l2 4M1666 9l4 5M753 57l4 13M378 34l18 10M730 107l1 7M55 282l15 9M311 -25l9 4M453 22l10 5M478 242l7 5M661 835l9 11M1429 114l3 7M748 811l7 11M928 671l8 9M735 135l3 7M724 330l2 9M136 257l17 7M538 263l7 6M794 854l12 10M1622 221l2 5M955 191l1 3M165 26l12 8M1128 428l1 4M764 721l7 16M1215 354l1 5M1492 221l1 6M1172 136l1 6M512 237l8 9M897 753l14 7M218 164l14 7M1272 330l0 4M1236 479l2 8M696 866l12 12M712 728l9 7M1311 98l3 6M99 184l15 6M1524 340l0 3M990 338l0 6M1347 132l1 3M1223 213l2 6M834 217l1 12M1297 239l2 4M766 342l1 12M455 123l12 10M993 758l14 7M894 51l2 14M1575 291l4 5M628 195l4 7M1099 195l1 4M736 261l4 11M1417 277l2 4M1300 297l2 5M1123 389l2 7M1484 483l2 5M298 88l9 3M1010 771l9 6M479 146l5 4M1138 357l0 6M292 239l13 9M897 963l13 5M1524 14l2 4M352 102l13 4M693 611l1 12M778 19l2 11M697 29l3 5M927 377l1 7M590 208l5 10M504 207l4 5M485 63l7 5M1625 -19l2 7M1142 42l2 7M559 649l4 11M525 706l8 15M945 373l1 7M799 482l0 13M547 160l5 7M1395 366l-2 4M1317 202l2 4M1064 41l1 5M43 310l11 6M921 272l3 10M1400 127l1 4M1061 178l4 4M1457 450l3 4M1479 193l1 4M273 113l16 6M1180 2l1 3M970 772l7 5M755 756l10 10M220 222l10 7M1002 219l2 4M1009 493l0 3M510 136l8 9M192 155l9 4M676 931l10 15M538 321l7 9M1394 304l4 1M1193 173l1 8M1093 164l1 4M829 725l7 8M322 24l15 5M926 214l2 5M1017 784l10 4M733 478l0 12M476 328l3 6M1286 213l2 7M780 152l2 13M337 296l7 6M1269 16l2 3M973 295l0 4M1308 432l5 1M745 20l6 11M724 962l11 13M1238 167l0 4M603 228l4 7M1510 69l1 4M789 284l1 12M899 364l1 10M490 715l6 5M1369 69l2 5M1263 66l2 4M1385 276l2 7M1332 167l1 4M1094 65l3 6" stroke="#bac060" stroke-width="4" stroke-linecap="round" fill="none"/>
<path d="M757 408l1 7M1453 -5l2 3M957 38l2 8M1251 140l2 5M7 174l12 3M745 165l2 7M1309 79l2 6M1409 6l3 7M1326 492l1 3M1618 88l2 6M1383 149l1 8M1509 298l5 5M1392 176l3 7M16 50l12 5M965 64l1 3M1046 248l2 5M1226 108l2 4M319 155l8 7M1292 41l3 6M1308 288l3 6M485 83l13 10M1344 -2l2 3M1649 40l2 4M590 396l6 9M857 329l1 12M1125 312l2 8M1622 502l1 7M479 -8l6 5M446 394l9 10M1147 79l2 2M1611 39l2 4M1169 419l1 8M1292 340l0 4M1478 127l2 3M1027 34l0 4M1325 35l3 5M740 213l2 7M1015 159l2 3M1065 168l1 3M1556 63l2 5M1641 286l3 3M1041 325l1 6M1410 457l0 6M1105 233l1 4M470 284l8 7M1211 49l3 5M1027 226l2 5M1392 15l4 6M1597 324l-1 2M666 392l4 10M35 203l10 7M1645 421l-2 4M1661 88l2 7M1163 185l1 6M761 463l2 9M891 119l2 10M389 253l8 8M911 214l2 8M1011 167l3 7M1579 74l3 5M1001 64l1 5M1123 95l3 7M520 165l7 6M641 49l7 7M1335 406l1 3M1217 451l0 5M1207 306l0 3M1502 164l3 7M975 197l2 5M1082 160l3 7M778 409l1 13M1014 477l3 7M35 348l8 6M1100 144l3 6M66 117l19 7M954 14l1 4M1096 313l2 7M811 439l0 10M1069 294l1 3M82 25l14 6M325 41l15 6M1308 212l2 5M1228 432l2 8M1334 229l2 4M1419 96l1 6M1665 242l3 4M1538 226l2 5M200 233l9 5M1078 97l1 5M1341 274l3 7M1005 -18l1 4M1317 496l2 3M684 360l3 10M183 50l17 4M561 254l5 8M852 132l1 8M267 258l12 7M723 487l0 12M1287 131l4 6M1229 84l2 5M685 203l5 10M1416 -17l2 3M1308 366l3 2M1420 232l2 5M564 226l8 10M682 242l2 6M1187 296l1 8M793 168l3 9M1606 137l3 7M1470 389l5 3M1426 392l6 -1M1468 24l1 4M1082 126l2 6M943 277l1 5M1064 228l0 6M1178 53l3 5M704 95l6 11M776 -2l5 12M1395 443l1 4M1538 305l2 3M861 332l2 12M1643 -12l1 5M1189 288l4 7M594 -8l5 5M372 60l11 5M1660 361l2 1M1436 201l1 4M1607 399l4 1M668 192l7 12M889 394l-1 7M316 296l14 8M1134 206l2 5M1142 248l0 4M1594 -4l3 6M1281 272l2 4M1500 26l2 6M1232 -4l2 4M1286 20l3 5M469 370l5 6M1621 152l2 7M1029 383l1 5M783 312l1 8M1647 347l6 3M399 221l15 13M382 319l14 10M861 415l2 9M866 84l1 9M1557 167l1 4M1142 -15l2 7M890 224l2 13M1517 51l4 7M1147 375l2 5M1603 10l1 5M1133 176l0 5M804 223l1 7M601 105l5 7M928 28l2 6M1487 474l4 5M1263 269l3 4M1566 217l3 4M1410 156l2 3M1120 95l1 4M850 22l2 10M94 33l10 4M613 -21l5 5M1078 263l2 6M1345 75l3 7M784 402l0 13M15 106l13 5M695 317l2 7M1353 195l3 4M775 90l3 8M1400 45l2 3M1413 143l2 6M1548 480l0 2M1556 342l4 1M155 46l15 4M935 412l0 5M1516 39l5 5M1198 481l2 6M394 373l12 10M828 413l1 9M651 101l4 8M1188 82l0 4M971 222l1 5M674 301l6 10M56 -32l10 2M765 368l2 7M1595 494l3 4M1234 22l2 6M1169 481l1 6M150 79l16 5M1582 250l4 6M1292 153l4 6M1154 217l2 5M1558 379l6 4M943 1l0 7M1556 237l2 4M1161 111l2 3M1214 -24l1 4M970 436l1 8M1193 414l0 8M998 141l2 8M1327 112l1 6M940 80l2 6M1524 461l3 1M271 153l8 5M1085 38l3 7M1478 62l2 5M958 180l1 5M417 202l14 8M1388 70l2 5M1449 364l2 1M418 279l8 7M926 295l2 5M938 166l2 4M647 316l3 7M1225 136l3 6M1160 -1l2 4M1551 293l2 4M1140 401l1 4M728 108l3 8M998 20l1 5M1549 152l2 4M667 68l5 6M1159 354l0 6M1038 196l1 6M1001 374l1 4M774 71l3 12M718 180l2 11M993 96l1 3M1322 481l-1 5M1617 307l2 4M1603 63l3 4M1547 49l3 5M1487 76l2 6M812 255l3 12" stroke="#bac060" stroke-width="5" stroke-linecap="round" fill="none"/>
<path d="M1393 300l4 6M1663 267l4 4M1000 265l1 8M1053 220l1 3M1232 245l2 4M1166 156l3 7M1435 254l2 3M1619 212l3 6M1484 288l3 6M969 151l1 7M1374 120l1 4M1533 158l3 7M1515 266l1 6M1651 227l2 3M1171 243l1 7M1225 58l2 5M927 280l1 4M953 142l3 5M1149 277l1 4M1171 214l1 3M1335 29l2 2M1385 90l3 6M1312 155l1 4M1615 9l1 3M1273 30l2 5M1370 191l2 3M934 53l2 4M1092 287l0 8M1145 226l2 7M1297 171l2 3M1372 247l3 4M1017 10l2 5M1404 208l2 5M1195 276l0 5M1629 176l2 4M1405 249l1 5M1376 46l1 4M1442 41l4 4M1609 97l3 7M1325 237l2 4M991 117l1 6M968 18l2 7M939 107l-1 5M1022 80l1 6M1086 197l3 4M1218 211l2 5M1530 204l3 7M1414 247l2 4M1214 8l3 6M1460 285l2 3M1521 156l1 4M1475 90l3 5" stroke="#bac060" stroke-width="6" stroke-linecap="round" fill="none"/>
<path d="M522 259h2M948 550h2M231 109h2M874 149h2M1038 158h2M1202 233h2M6 8h2M438 387h2M235 192h2M1163 207h2M360 349h2M1509 142h2M412 622h2M893 199h2M977 154h2M1213 90h2M1567 126h2M1449 44h2M1573 203h2M1290 260h2M28 425h2M1263 240h2M433 142h2M330 177h2M1016 93h2M864 121h2M49 217h2M1139 34h2M17 503h2M1050 425h2M1495 393h2M1209 332h2M536 615h2M24 184h2M329 71h2M909 448h2M1462 244h2M707 155h2M1176 90h2M646 896h2M377 466h2M1040 197h2M959 599h2M449 447h2M965 806h2M361 650h2M235 54h2M1570 161h2M891 920h2M230 141h2M943 467h2M1427 119h2M946 396h2M442 666h2M986 109h2M887 251h2M1479 175h2M1368 351h2M989 886h2M824 750h2M949 587h2M523 899h2M1569 440h2M1203 347h2M878 199h2M98 381h2M256 294h2M635 675h2M1310 206h2M823 550h2M183 529h2M1505 166h2M1297 164h2M293 144h2M418 882h2M740 647h2M497 580h2M969 713h2M457 502h2M1206 233h2M163 481h2M484 731h2M616 652h2M867 922h2M267 354h2M715 851h2M1257 9h2M524 484h2M678 660h2M254 608h2M1196 250h2M771 692h2M13 215h2M1047 159h2M101 173h2M625 635h2M393 313h2M629 414h2M83 137h2M1196 86h2M537 420h2M1259 22h2M1577 37h2M552 318h2M352 432h2M401 327h2M1149 13h2M277 411h2M844 213h2M1229 77h2M1356 456h2M583 585h2M1541 421h2M328 530h2M791 426h2M1473 27h2M941 557h2M1541 294h2M374 469h2M543 178h2M1478 15h2M1524 137h2M423 889h2M281 170h2M166 348h2M1192 6h2M726 874h2M1309 232h2M884 270h2M427 83h2M682 336h2M252 478h2M378 577h2M396 855h2M1427 31h2M985 157h2M77 266h2M76 111h2M60 284h2M1225 353h2M912 456h2M1444 241h2M743 684h2M1368 111h2M792 521h2M862 292h2M220 179h2M919 923h2M1457 244h2M42 434h2M1479 365h2M737 273h2M478 110h2M564 877h2M956 701h2M717 386h2M1041 475h2M1522 72h2M771 636h2M541 159h2M131 29h2M30 279h2M1044 9h2M72 574h2M841 909h2M863 451h2M1422 247h2M46 323h2M651 367h2M1270 254h2M576 358h2M903 134h2M399 743h2M708 411h2M1606 211h2M392 853h2M532 700h2M652 83h2M1311 328h2M689 516h2M1475 483h2M1272 202h2M639 719h2M135 455h2M113 510h2M699 504h2M641 279h2M711 691h2M355 179h2M1089 321h2M430 743h2M1286 282h2M932 923h2M801 639h2M818 337h2M577 904h2M433 35h2M128 228h2M641 362h2M592 632h2M884 301h2M867 888h2M961 188h2M1334 102h2M241 465h2M835 536h2M709 403h2M893 755h2M872 329h2M1566 388h2M1581 478h2M1174 313h2M509 363h2M1386 159h2M106 390h2M333 200h2M1390 149h2M738 817h2M1573 319h2M482 894h2M1273 454h2M910 914h2M1149 309h2M960 416h2M1180 330h2M886 27h2M176 61h2M1183 398h2M855 534h2M1367 248h2M537 908h2M52 316h2M429 609h2M1614 246h2M436 744h2M1503 260h2M1532 454h2M992 134h2M214 86h2M1618 75h2M264 35h2M793 266h2M59 257h2M993 362h2M1416 122h2M962 639h2M1088 85h2M1223 262h2M557 254h2M541 833h2M449 482h2M941 425h2M1190 454h2M818 347h2M462 901h2M1495 352h2M30 36h2M555 539h2M877 659h2M421 113h2M955 147h2M826 850h2M207 361h2M377 468h2M1445 420h2M610 122h2M491 440h2M285 327h2M1569 332h2M30 310h2M264 533h2M755 26h2M533 502h2M1443 193h2M392 777h2M1269 39h2M1122 405h2M1038 173h2M138 537h2M631 415h2M852 162h2M781 223h2M1566 16h2M646 202h2M783 805h2M378 783h2M1120 269h2M633 905h2M717 725h2M241 472h2M20 345h2M1069 281h2M816 568h2M96 270h2M826 665h2M908 211h2M686 273h2M232 577h2M42 251h2M798 873h2M526 10h2M316 605h2M1190 17h2M778 831h2M409 705h2M116 458h2M392 516h2M1254 417h2M804 106h2M594 714h2M751 95h2M491 265h2M958 867h2M1448 125h2M659 372h2M475 41h2M825 239h2" stroke="#1a47f8" stroke-width="2" fill="none"/>
<path d="M561 429h2M293 20h2M1640 277h2M369 464h2M290 225h2M599 728h2M1072 52h2M1459 251h2M896 586h2M59 408h2M1011 283h2M1635 153h2M728 637h2M830 576h2M486 913h2M1530 452h2M183 223h2M707 535h2M628 172h2M875 656h2M1298 379h2M467 437h2M1504 292h2M1486 158h2M768 246h2M469 375h2M862 11h2M1506 106h2M701 765h2M214 47h2M837 839h2M978 209h2M907 910h2M1157 488h2M738 584h2M842 597h2M1492 384h2M1033 81h2M1256 458h2M573 287h2M316 489h2M695 428h2M373 918h2M412 921h2M936 489h2M1508 419h2M418 116h2M958 612h2M394 354h2M276 646h2M1503 222h2M16 533h2M1471 23h2M331 459h2M1047 293h2M297 579h2M750 830h2M326 153h2M891 180h2M471 24h2M782 345h2M525 46h2M1242 326h2M394 786h2M496 537h2M697 725h2M214 335h2M510 794h2M1309 285h2M587 631h2M667 242h2M1027 265h2M662 899h2M131 298h2M199 106h2M1344 379h2M1466 55h2M1586 408h2M121 46h2M1553 211h2M1563 75h2M1364 426h2M1407 74h2M1139 355h2M989 621h2M183 585h2M1383 142h2M76 17h2M1197 286h2M455 818h2M485 543h2M1512 70h2M1374 350h2M1483 306h2M149 545h2M675 342h2M69 224h2M985 697h2M229 11h2M1631 407h2M599 565h2M1319 129h2M833 621h2M1079 305h2M534 609h2M1004 166h2M389 540h2M407 760h2M28 475h2M594 241h2M1110 87h2M466 184h2M1308 301h2M430 320h2M583 560h2M573 757h2M232 364h2M487 740h2M1327 414h2M628 663h2M100 509h2M262 29h2M897 859h2M213 84h2M1591 167h2M640 855h2M1320 385h2M1241 29h2M727 733h2M957 779h2M438 422h2M349 397h2M209 102h2M44 167h2M85 460h2M137 83h2M1625 108h2M266 476h2M326 63h2M1012 429h2M402 87h2M1168 335h2M413 759h2M1040 473h2M532 806h2M338 124h2M342 683h2M302 99h2M348 614h2M44 281h2M1017 234h2M1352 281h2M538 825h2M48 344h2M879 859h2M269 598h2M34 315h2M500 354h2M878 849h2M128 459h2M564 682h2M159 428h2M631 572h2M227 191h2M395 473h2M1452 394h2M852 492h2M813 225h2M1106 424h2M598 719h2M470 252h2M1427 241h2M309 445h2M512 583h2M593 856h2M1510 309h2M921 239h2M284 42h2M821 398h2M1527 340h2M395 377h2M796 848h2M468 190h2M901 221h2M707 38h2M700 765h2M936 648h2M1380 306h2M919 488h2M614 69h2M1595 137h2M413 362h2M598 87h2M505 604h2M50 477h2M1093 256h2M1546 338h2M779 77h2M670 533h2M261 83h2M1348 236h2M628 431h2M9 172h2M992 378h2M1282 61h2M1186 453h2M806 481h2M83 298h2M351 213h2M1251 320h2M426 607h2M1564 312h2M504 337h2M880 848h2M626 82h2M617 723h2M1068 79h2M1085 208h2M1447 294h2M1472 134h2M453 80h2M754 731h2M1262 262h2M932 602h2M392 116h2M464 627h2M444 566h2M755 403h2M871 406h2M1253 124h2M521 873h2M21 284h2M893 707h2M1412 103h2M1351 453h2M735 892h2M688 300h2M1248 180h2M1597 357h2M1615 231h2M630 295h2M295 374h2M919 35h2M65 572h2M637 92h2M118 565h2M945 198h2M623 224h2M477 643h2M1360 228h2M675 155h2M1023 379h2M737 179h2M90 221h2M925 916h2M0 355h2M1029 257h2M358 646h2M260 605h2M55 228h2M466 430h2M759 464h2M198 144h2M1366 326h2M415 716h2M964 704h2M1118 465h2M1616 92h2M924 443h2M143 294h2M594 81h2M1215 475h2M686 22h2M407 475h2M465 489h2M629 443h2M21 421h2M906 149h2M663 770h2M878 721h2M416 873h2M477 753h2M1554 488h2M237 129h2M583 396h2M296 660h2M165 59h2M967 95h2M1094 465h2M269 5h2M275 283h2M1276 441h2M65 191h2M832 334h2M597 354h2M1283 439h2M595 621h2M1559 201h2M770 820h2M373 379h2M1121 445h2M1642 68h2M332 613h2M466 528h2M349 655h2M657 496h2M60 459h2" stroke="#bac060" stroke-width="2" fill="none"/>
<path d="M982 588h2M1598 177h2M349 408h2M16 433h2M742 608h2M1541 184h2M1029 280h2M940 661h2M652 595h2M626 416h2M1137 358h2M1469 490h2M409 921h2M975 485h2M596 656h2M341 496h2M1546 326h2M596 215h2M1168 6h2M708 250h2M79 31h2M1533 90h2M495 903h2M275 182h2M1129 407h2M1445 119h2M606 823h2M588 501h2M850 692h2M1636 470h2M598 350h2M1046 209h2M736 354h2M251 189h2M1261 460h2M775 415h2M1214 306h2M460 884h2M870 271h2M603 683h2M946 333h2M11 464h2M513 87h2M353 689h2M332 641h2M891 369h2M290 36h2M483 50h2M806 761h2M1020 76h2M529 294h2M1040 133h2M702 772h2M552 837h2M946 315h2M845 396h2M257 95h2M1623 473h2M159 297h2M1130 289h2M494 44h2M963 570h2M941 215h2M1391 436h2M1554 47h2M765 658h2M1617 29h2M325 595h2M480 191h2M737 376h2M948 276h2M457 507h2M231 404h2M1118 401h2M712 56h2M1295 296h2M478 498h2M1167 346h2M915 800h2M383 652h2M512 387h2M231 258h2M281 647h2M1459 171h2M362 876h2M647 109h2M1010 356h2M983 657h2M759 430h2M736 915h2M476 699h2M800 459h2M492 882h2M786 247h2M616 503h2M671 779h2M1556 104h2M564 141h2M802 758h2M909 770h2M306 252h2M128 215h2M1363 347h2M159 358h2M934 554h2M387 206h2M1284 40h2M86 499h2M530 856h2M1050 417h2M707 242h2M1243 462h2M1408 165h2M1180 113h2M525 115h2M300 628h2M1198 293h2M313 499h2M122 22h2M253 606h2M1236 401h2M692 472h2M1013 361h2M780 257h2M674 387h2M366 889h2M317 581h2M1410 388h2M1569 306h2M931 857h2M680 426h2M1464 474h2M1334 102h2M1220 300h2M302 622h2M531 732h2M389 704h2M738 546h2M369 621h2M921 295h2M757 117h2M681 460h2M593 22h2M238 192h2M839 115h2M1144 132h2M1344 154h2M938 323h2M694 263h2M719 868h2M1337 342h2M918 64h2M1369 34h2M1429 451h2M899 708h2M763 222h2M947 727h2M1419 302h2M521 296h2M1350 25h2M55 275h2M1272 347h2M972 741h2M957 51h2M838 379h2M681 904h2M1504 90h2M506 452h2M353 176h2M1059 239h2M418 689h2M917 531h2M1428 306h2M750 169h2M165 56h2M755 210h2M1536 222h2M1138 168h2M1126 388h2M1446 419h2M806 470h2M432 425h2M467 660h2M1134 146h2M656 335h2M276 509h2M1604 177h2M491 117h2M1046 258h2M434 281h2M498 898h2M1068 380h2M772 811h2M1245 240h2M406 889h2M1620 357h2M722 628h2M774 21h2M804 768h2M1237 413h2M497 266h2M1067 122h2M718 153h2M1120 427h2M148 161h2M1151 399h2M668 635h2M427 715h2M264 43h2M286 514h2M364 55h2M650 318h2M996 228h2M892 33h2M152 294h2M1141 270h2M134 198h2M510 884h2M134 19h2M565 294h2M317 604h2M1441 174h2M526 356h2M816 877h2M597 866h2M938 594h2M843 157h2M54 543h2M417 678h2M695 349h2M686 645h2M789 68h2M718 79h2M1265 205h2M174 372h2M1513 427h2M1475 367h2M1223 201h2M1110 176h2M838 410h2M892 543h2M1468 34h2M795 335h2M729 130h2M1007 82h2M507 776h2M1083 414h2M374 730h2M701 526h2M165 33h2M60 389h2M1091 209h2M1062 45h2M646 500h2M54 140h2M1461 455h2M1010 45h2M616 445h2M1424 13h2M741 247h2M88 310h2M502 647h2M477 845h2M381 43h2M809 568h2M1197 125h2M291 627h2M961 780h2M510 61h2M700 122h2M1038 140h2M420 234h2M391 457h2M923 697h2M572 122h2M966 742h2M629 108h2M953 609h2M1117 437h2M715 848h2M921 512h2M90 359h2M1049 201h2M1068 85h2M962 510h2M1323 482h2" stroke="#429ed7" stroke-width="2" fill="none"/>
<path d="M893 731h2M918 519h2M616 319h2M405 873h2M863 246h2M1334 128h2M1203 41h2M871 292h2M913 737h2M285 614h2M1641 445h2M449 301h2M1509 398h2M668 743h2M812 20h2M770 118h2M142 130h2M1623 339h2M661 619h2M151 448h2M6 328h2M525 13h2M704 187h2M665 781h2M406 545h2M751 528h2M987 762h2M984 731h2M735 304h2M566 663h2M1134 287h2M518 20h2M1077 324h2M700 526h2M362 749h2M805 419h2M763 719h2M727 881h2M404 49h2M1002 135h2M532 536h2M804 250h2M1590 403h2M801 30h2M452 130h2M1232 72h2M1404 484h2M654 695h2M404 796h2M633 758h2M340 211h2M315 517h2M1288 23h2M22 53h2M879 803h2M266 398h2M912 857h2M963 22h2M1430 75h2M1219 85h2M309 105h2M751 169h2M455 293h2M733 196h2M848 545h2M438 221h2M1034 333h2M655 92h2M595 139h2M929 224h2M683 41h2M657 134h2M464 409h2M904 713h2M67 190h2M1426 204h2M873 90h2M1642 112h2M843 571h2M1282 426h2M882 1h2M879 396h2M839 801h2M775 262h2M1292 366h2M407 832h2M827 743h2M117 88h2M502 711h2M915 323h2M985 663h2M1403 482h2M367 923h2M1025 303h2M543 737h2M1117 32h2M614 673h2M406 331h2M541 885h2M685 514h2M1104 126h2M1395 348h2M591 214h2M554 729h2M1125 171h2M1306 391h2M1085 204h2M936 681h2M902 749h2M795 355h2M680 737h2M812 361h2M1305 461h2M1072 4h2M334 365h2M514 164h2M954 182h2M248 443h2M1214 212h2M836 203h2M878 574h2M603 617h2M855 505h2M573 647h2M1332 176h2M1062 484h2M1272 290h2M1044 400h2M1563 355h2M1067 271h2M1582 182h2M481 689h2M103 427h2M950 407h2M362 659h2M1614 144h2M1170 218h2M357 360h2M921 818h2M1005 315h2M1465 79h2M493 125h2M440 798h2M228 30h2M375 78h2M718 733h2M810 635h2M1074 353h2M195 171h2M1601 310h2M805 651h2M107 424h2M419 897h2M59 183h2M730 371h2M301 425h2M80 371h2M786 623h2M1497 323h2M568 274h2M1367 386h2M86 307h2M1243 103h2M283 383h2M1042 71h2M760 883h2M407 786h2M381 739h2M271 402h2M526 368h2M1464 41h2M858 431h2M1592 234h2M738 393h2M274 65h2M47 269h2M459 368h2M888 613h2M1011 181h2M414 630h2M402 445h2M463 869h2M716 196h2M1286 412h2M675 319h2M1607 101h2M1524 214h2M1520 427h2M1522 479h2M659 146h2M182 457h2M850 340h2M137 472h2M1376 332h2M827 129h2M328 225h2M817 865h2M35 95h2M913 227h2M1332 107h2M73 153h2M732 377h2M536 522h2M1597 190h2M690 77h2M767 749h2M656 272h2M301 338h2M747 415h2M699 807h2M986 45h2M417 852h2M618 880h2M702 853h2M461 103h2M1351 440h2M1079 61h2M351 37h2M758 908h2M490 492h2M478 871h2M1357 138h2M553 671h2M464 715h2M236 143h2M388 793h2M1433 132h2M1488 367h2M702 183h2M1514 459h2M779 619h2M951 500h2M216 348h2M1232 142h2M1084 438h2M1497 374h2M1413 285h2M647 881h2M143 433h2M858 9h2M1428 267h2M559 329h2M128 326h2M331 437h2M101 380h2M941 22h2M484 92h2M486 35h2M953 225h2M383 442h2M361 912h2M861 97h2M1244 431h2M967 863h2M545 899h2M532 273h2M225 374h2M147 143h2M1511 260h2M1377 367h2M741 711h2M806 825h2M539 299h2M1288 14h2M566 39h2M1141 309h2M886 128h2M107 409h2M179 149h2M1253 471h2M1528 168h2M996 188h2M517 185h2M472 382h2M1200 263h2M359 207h2M1000 356h2M1488 130h2M804 221h2M1047 386h2M840 802h2M358 692h2M1355 464h2M31 295h2M806 229h2M1568 123h2M1476 89h2M569 641h2M691 350h2M880 18h2M269 69h2M1073 0h2M577 237h2M1115 54h2M294 53h2M1516 94h2M1112 37h2M958 884h2M753 234h2M59 495h2" stroke="#f16c2d" stroke-width="2" fill="none"/>
<path d="M547 867h2M149 36h2M873 658h2M524 110h2M736 196h2M450 166h2M1300 64h2M1336 229h2M348 149h2M260 589h2M233 191h2M980 536h2M720 884h2M464 630h2M1627 386h2M1153 247h2M857 693h2M1143 165h2M201 340h2M1035 104h2M549 745h2M1124 23h2M538 161h2M536 877h2M5 141h2M559 194h2M1433 451h2M266 248h2M1292 81h2M1240 149h2M1396 310h2M1434 439h2M260 314h2M1471 79h2M1061 446h2M1635 390h2M1184 338h2M1357 488h2M470 515h2M526 14h2M1192 74h2M1632 147h2M1568 352h2M1014 248h2M701 765h2M1577 264h2M1183 41h2M886 77h2M1576 274h2M1540 30h2M427 439h2M899 648h2M19 60h2M1028 375h2M1579 24h2M978 198h2M445 881h2M528 882h2M1304 1h2M367 526h2M486 124h2M134 198h2M799 80h2M750 918h2M278 232h2M1252 471h2M1349 200h2M673 7h2M1522 387h2M1508 48h2M416 153h2M863 88h2M172 505h2M63 543h2M830 773h2M344 410h2M688 921h2M243 485h2M1064 486h2M555 285h2M10 145h2M604 552h2M562 248h2M795 646h2M296 590h2M922 330h2M430 507h2M374 29h2M618 420h2M407 856h2M552 534h2M352 450h2M436 568h2M930 574h2M920 228h2M1311 127h2M404 697h2M1128 323h2M1293 241h2M820 425h2M298 58h2M780 206h2M557 254h2M334 254h2M74 106h2M401 372h2M263 320h2M1263 298h2M720 82h2M1009 152h2M677 563h2M916 360h2M311 257h2M1247 25h2M320 378h2M431 860h2M1313 81h2M593 155h2M962 620h2M1340 284h2M1636 160h2M591 473h2M1073 477h2M549 299h2M439 70h2M430 495h2M962 749h2M466 242h2M1472 245h2M960 536h2M1449 245h2M1010 389h2M1053 379h2M914 807h2M139 507h2M1497 474h2M1555 352h2M1213 108h2M439 547h2M857 95h2M452 880h2M1062 459h2M388 36h2M273 520h2M1641 39h2M727 511h2M333 202h2M974 666h2M1447 120h2M1018 169h2M668 414h2M646 708h2M1523 132h2M382 321h2M279 321h2M26 180h2M1175 156h2M21 209h2M898 671h2M158 320h2M129 163h2M1530 397h2M1431 478h2M1053 323h2M302 648h2M298 307h2M1214 10h2M345 167h2M719 777h2M361 21h2M1520 278h2M376 586h2M295 533h2M886 124h2M969 923h2M1031 360h2M1152 41h2M1363 170h2M234 495h2M448 644h2M396 2h2M1147 285h2M286 412h2M258 495h2M829 671h2M642 112h2M361 467h2M592 600h2M584 591h2M313 422h2M1241 166h2M1625 6h2M305 400h2M963 281h2M663 786h2M1377 306h2M639 270h2M174 355h2M1621 332h2M1597 101h2M651 812h2M237 15h2M1224 331h2M1122 200h2M901 639h2M1597 49h2M728 293h2M761 422h2M984 286h2M384 481h2M83 316h2M63 191h2M950 203h2M670 319h2M249 157h2M1074 441h2M802 183h2M1615 229h2M547 476h2M739 294h2M440 734h2M62 72h2M507 26h2M357 502h2M1124 217h2M1621 428h2M614 754h2M1057 204h2M1565 339h2M659 296h2M365 744h2M149 93h2M905 436h2M1520 227h2M1375 476h2M1424 431h2M240 13h2M1000 180h2M1547 414h2M1437 97h2M867 409h2M1254 392h2M827 465h2M1329 235h2M1405 463h2M540 562h2M1362 312h2M1565 288h2M484 530h2M583 689h2M273 135h2M382 379h2M579 611h2M844 564h2M657 502h2M920 921h2M459 357h2M732 717h2M952 7h2M316 57h2M15 169h2M1636 331h2M353 410h2M893 526h2M756 831h2M874 71h2M1619 407h2M1418 2h2M1395 460h2M813 68h2M1373 60h2M1377 160h2M754 319h2M1446 414h2M411 453h2M601 676h2M550 324h2M446 469h2M617 435h2M344 296h2" stroke="#ff2011" stroke-width="2" fill="none"/>
<path d="M385 459h2M931 843h2M1072 459h2M699 187h2M1003 161h2M447 230h2M224 169h2M403 711h2M333 154h2M1367 297h2M528 603h2M530 439h2M1140 459h2M638 348h2M168 309h2M108 9h2M784 657h2M499 50h2M147 207h2M1322 234h2M1309 379h2M264 474h2M680 483h2M1451 398h2M411 410h2M626 790h2M786 412h2M402 541h2M963 557h2M1091 370h2M927 657h2M760 188h2M133 494h2M491 51h2M925 716h2M652 59h2M1174 316h2M589 316h2M249 210h2M701 210h2M64 393h2M1641 237h2M427 20h2M247 44h2M494 281h2M961 386h2M1399 209h2M1513 485h2M766 785h2M765 897h2M828 35h2M1299 435h2M1543 37h2M690 642h2M1103 275h2M664 483h2M756 395h2M798 156h2M308 539h2M45 135h2M597 582h2M725 554h2M604 190h2M229 121h2M1330 129h2M211 487h2M816 514h2M71 48h2M712 514h2M1222 376h2M609 678h2M776 746h2M740 16h2M229 339h2M925 904h2M1516 357h2M1235 266h2M758 601h2M1636 459h2M168 387h2M345 77h2M568 404h2M1164 478h2M408 905h2M558 310h2M774 790h2M686 258h2M814 709h2M853 487h2M661 736h2M431 372h2M864 826h2M1198 268h2M136 397h2M1638 148h2M978 55h2M1534 227h2M632 258h2M335 166h2M1085 366h2M712 161h2M999 478h2M808 579h2M562 124h2M1033 31h2M601 828h2M431 331h2M496 883h2M449 393h2M249 290h2M589 248h2M763 541h2M684 795h2M139 463h2M429 318h2M1474 251h2M1415 55h2M724 346h2M547 301h2M1260 19h2M1247 279h2M311 355h2M603 52h2M17 167h2M972 358h2M893 859h2M749 779h2M541 475h2M714 277h2M841 488h2M169 194h2M740 308h2M704 214h2M494 760h2M674 530h2M863 709h2M175 382h2M52 270h2M277 144h2M457 129h2M1000 334h2M976 632h2M1471 164h2M303 481h2M1240 31h2M911 297h2M420 766h2M408 487h2M1380 443h2M1475 361h2M653 196h2M385 478h2M471 493h2M428 71h2M742 860h2M1569 82h2M848 435h2M50 105h2M649 6h2M380 183h2M300 194h2M791 811h2M863 791h2M762 178h2M1505 87h2M796 502h2M384 880h2M559 263h2M363 660h2M281 644h2M413 23h2M595 892h2M911 566h2M467 402h2M1031 102h2M385 339h2M1631 490h2M500 724h2M238 161h2M1542 278h2M599 649h2M731 747h2M566 222h2M1150 103h2M1189 110h2M1633 165h2M673 591h2M974 658h2M1105 29h2M537 147h2M1019 333h2M1267 105h2M352 597h2M752 73h2M382 261h2M929 720h2M1307 78h2M1429 164h2M428 204h2M955 729h2M228 512h2M930 339h2M1016 125h2M423 466h2M1350 69h2M1440 357h2M1546 51h2M811 299h2M973 503h2M1008 268h2M55 253h2M752 680h2M38 147h2M366 824h2M984 90h2M674 382h2M84 172h2M1601 104h2M366 839h2M685 773h2M825 752h2M507 582h2M789 173h2M517 432h2M1002 67h2M1440 392h2M608 708h2M1533 484h2M1100 3h2M885 419h2M1108 108h2M887 737h2M1414 84h2M935 739h2M501 792h2M1247 80h2M182 91h2M972 426h2M157 192h2M478 870h2M172 244h2M463 885h2M552 748h2M399 40h2M4 276h2M1344 183h2M1555 486h2M787 28h2M524 705h2M1243 465h2M1540 273h2M230 315h2M1126 85h2M925 235h2M366 693h2M748 730h2M1562 459h2M1212 434h2M274 62h2M11 496h2M570 240h2M1243 14h2M517 436h2M320 245h2M1245 308h2M529 365h2M94 134h2M1 503h2M586 23h2M666 856h2M1608 19h2M275 626h2" stroke="#7feb8c" stroke-width="2" fill="none"/></svg></div>
<div id="cb1" class="abs cb">
<div class="tk" style="left:0;top:111px"></div><div class="tk" style="right:0;top:111px"></div>
<div class="tk" style="left:0;top:224px"></div><div class="tk" style="right:0;top:224px"></div>
<div class="tk" style="left:0;top:336px"></div><div class="tk" style="right:0;top:336px"></div>
</div>
<div id="cb2" class="abs cb">
<div class="tk" style="left:0;top:110px"></div><div class="tk" style="right:0;top:110px"></div>
<div class="tk" style="left:0;top:223px"></div><div class="tk" style="right:0;top:223px"></div>
<div class="tk" style="left:0;top:335px"></div><div class="tk" style="right:0;top:335px"></div>
</div>
<div id="p2" class="abs"><svg width="1766" height="1030" style="display:block"><path d="M206 203h0.5M298 223h0.5M240 22h0.5M382 257h0.5M132 25h0.5M0 76h0.5M363 64h0.5M53 153h0.5M46 359h0.5M352 119h0.5M169 165h0.5M261 315h0.5M413 297h0.5M401 219h0.5M117 299h0.5M280 102h0.5M8 98h0.5M80 134h0.5M315 212h0.5M393 208h0.5M14 218h0.5M401 140h0.5M324 345h0.5M205 100h0.5M9 49h0.5M377 86h0.5M367 348h0.5M325 65h0.5M179 287h0.5M424 262h0.5M400 289h0.5M146 330h0.5M222 10h0.5M382 250h0.5M384 203h0.5M441 190h0.5M244 183h0.5M256 178h0.5M122 172h0.5M371 327h0.5M87 224h0.5M355 8h0.5M114 72h0.5M171 150h0.5M387 222h0.5M337 294h0.5M118 35h0.5M229 249h0.5M259 53h0.5M382 359h0.5M591 170h0.5M530 165h0.5M536 60h0.5M764 282h0.5M773 147h0.5M551 343h0.5M729 207h0.5M868 232h0.5M525 180h0.5M573 260h0.5M617 326h0.5M633 173h0.5M672 340h0.5M861 296h0.5M714 165h0.5M644 95h0.5M701 230h0.5M471 22h0.5M714 37h0.5M610 174h0.5M791 226h0.5M631 94h0.5M765 334h0.5M739 108h0.5M756 252h0.5M603 264h0.5M834 159h0.5M558 131h0.5M528 275h0.5M856 236h0.5M671 278h0.5M754 257h0.5M672 258h0.5M611 61h0.5M503 235h0.5M470 39h0.5M553 260h0.5M584 199h0.5M563 322h0.5M682 347h0.5M476 344h0.5M751 220h0.5M811 110h0.5M835 33h0.5M787 75h0.5M611 196h0.5M618 242h0.5M755 120h0.5M492 82h0.5M624 26h0.5M615 120h0.5M1215 67h0.5M1028 215h0.5M953 170h0.5M1106 63h0.5M1106 121h0.5M1218 310h0.5M1049 328h0.5M1182 111h0.5M922 162h0.5M892 252h0.5M997 144h0.5M1265 0h0.5M1035 129h0.5M883 326h0.5M1258 355h0.5M993 335h0.5M1218 129h0.5M1055 29h0.5M1165 71h0.5M1237 214h0.5M1090 16h0.5M1030 337h0.5M1154 189h0.5M1194 60h0.5M1108 317h0.5M877 180h0.5M1106 197h0.5M886 87h0.5M1033 108h0.5M965 92h0.5M1062 338h0.5M1229 214h0.5M938 74h0.5M1228 74h0.5M1157 132h0.5M1167 98h0.5M1246 7h0.5M1086 20h0.5M887 55h0.5M1000 154h0.5M1038 140h0.5M991 125h0.5M1230 85h0.5M986 58h0.5M939 241h0.5M1161 201h0.5M893 180h0.5M979 243h0.5M1235 139h0.5M926 184h0.5M1275 54h0.5M1074 205h0.5M1181 194h0.5M1005 65h0.5M1201 142h0.5M1220 301h0.5M922 137h0.5M1273 49h0.5M989 265h0.5M1007 10h0.5M1202 53h0.5M1257 91h0.5M1004 7h0.5M1129 99h0.5M954 315h0.5M874 76h0.5M1279 37h0.5M1163 91h0.5M1109 82h0.5M1017 101h0.5M909 122h0.5M1178 198h0.5M914 52h0.5M874 182h0.5M1048 349h0.5M1263 117h0.5M1281 54h0.5M917 304h0.5M1146 152h0.5M1119 208h0.5M901 201h0.5M1098 329h0.5M952 243h0.5M1011 114h0.5M1120 252h0.5M1158 169h0.5M1261 221h0.5M1283 251h0.5M1046 298h0.5M989 310h0.5M1056 23h0.5M1149 89h0.5M1242 91h0.5M880 230h0.5M1273 354h0.5M960 359h0.5M929 143h0.5M1345 206h0.5M1531 107h0.5M1484 20h0.5M1553 167h0.5M1526 328h0.5M1641 94h0.5M1514 130h0.5M1548 145h0.5M1464 114h0.5M1311 34h0.5M1668 154h0.5M1551 337h0.5M1734 273h0.5M1726 27h0.5M1647 137h0.5M1342 116h0.5M1554 335h0.5M1512 11h0.5M1365 213h0.5M1472 208h0.5M1566 174h0.5M1723 165h0.5M1673 35h0.5M1381 194h0.5M1425 311h0.5M1405 7h0.5M1426 92h0.5M1602 334h0.5M1739 184h0.5M1601 26h0.5M1557 43h0.5M1704 22h0.5M1696 285h0.5M1538 67h0.5M1525 72h0.5M1753 204h0.5M1580 223h0.5M1686 148h0.5M1538 122h0.5M1398 320h0.5M1407 174h0.5M1408 318h0.5M1448 287h0.5M1292 181h0.5M1353 259h0.5M1742 165h0.5M1741 30h0.5M1362 120h0.5M1755 9h0.5M1525 237h0.5M1486 196h0.5M1424 62h0.5M1566 57h0.5M1524 335h0.5M1752 102h0.5M1407 328h0.5M1552 343h0.5M1425 305h0.5M1627 294h0.5M1650 358h0.5M1592 179h0.5M1296 58h0.5M1748 281h0.5M1484 148h0.5M1539 69h0.5M1625 166h0.5M1513 347h0.5M1319 98h0.5M1307 258h0.5M1391 314h0.5M1626 163h0.5M1503 115h0.5M1431 281h0.5M1760 50h0.5M1487 53h0.5M1683 138h0.5M1667 268h0.5M1387 255h0.5M1708 79h0.5M1357 350h0.5M1367 129h0.5M1710 317h0.5M1606 252h0.5M1424 204h0.5M1405 106h0.5M1434 215h0.5M1692 170h0.5M1618 182h0.5M1664 324h0.5M1614 251h0.5M1752 197h0.5M1700 188h0.5M1763 5h0.5M1389 162h0.5M1554 37h0.5M1677 263h0.5M1301 290h0.5M1440 94h0.5M1590 223h0.5M1556 139h0.5M1317 68h0.5M1587 139h0.5M1308 10h0.5M1303 10h0.5M1366 61h0.5M1357 206h0.5M1513 14h0.5M1474 197h0.5M1722 15h0.5M1600 349h0.5M1556 48h0.5M1411 133h0.5M1693 72h0.5M1592 24h0.5M1487 115h0.5M1642 168h0.5M1363 13h0.5M1464 41h0.5M1395 11h0.5M1475 334h0.5M1516 130h0.5M182 389h0.5M97 367h0.5M29 581h0.5M275 379h0.5M410 618h0.5M376 523h0.5M185 572h0.5M167 572h0.5M176 571h0.5M46 621h0.5M103 646h0.5M92 457h0.5M7 509h0.5M44 393h0.5M305 414h0.5M436 463h0.5M257 453h0.5M303 496h0.5M210 446h0.5M1 682h0.5M72 630h0.5M344 627h0.5M414 516h0.5M199 511h0.5M207 584h0.5M14 465h0.5M62 554h0.5M105 597h0.5M138 509h0.5M704 673h0.5M866 428h0.5M476 455h0.5M846 555h0.5M557 599h0.5M621 546h0.5M735 471h0.5M567 380h0.5M503 373h0.5M673 628h0.5M501 471h0.5M832 631h0.5M646 571h0.5M804 376h0.5M781 653h0.5M856 677h0.5M765 611h0.5M516 677h0.5M807 628h0.5M759 633h0.5M743 482h0.5M829 597h0.5M500 364h0.5M708 599h0.5M596 386h0.5M813 561h0.5M809 612h0.5M619 452h0.5M536 534h0.5M580 652h0.5M672 449h0.5M1082 450h0.5M899 579h0.5M901 395h0.5M1210 523h0.5M1007 612h0.5M1015 612h0.5M1114 383h0.5M1124 564h0.5M967 434h0.5M1000 630h0.5M882 560h0.5M1250 661h0.5M888 647h0.5M1143 394h0.5M971 490h0.5M1158 435h0.5M1204 433h0.5M1187 516h0.5M1209 602h0.5M1039 410h0.5M920 389h0.5M978 378h0.5M1256 430h0.5M882 624h0.5M1128 551h0.5M1099 439h0.5M986 429h0.5M1129 518h0.5M1189 456h0.5M908 581h0.5M1019 416h0.5M1247 508h0.5M889 572h0.5M936 438h0.5M1120 450h0.5M980 644h0.5M970 483h0.5M1254 519h0.5M1204 451h0.5M1283 471h0.5M1162 634h0.5M1050 626h0.5M1189 522h0.5M1143 661h0.5M873 519h0.5M1174 445h0.5M1118 502h0.5M975 459h0.5M1177 413h0.5M875 600h0.5M1121 533h0.5M948 532h0.5M1134 545h0.5M973 396h0.5M1124 540h0.5M1002 464h0.5M1171 677h0.5M1140 464h0.5M1101 531h0.5M985 517h0.5M1245 677h0.5M990 578h0.5M1119 672h0.5M1131 639h0.5M1637 413h0.5M1446 480h0.5M1689 658h0.5M1570 385h0.5M1584 365h0.5M1484 672h0.5M1542 579h0.5M1547 600h0.5M1311 441h0.5M1656 676h0.5M1648 371h0.5M1581 521h0.5M1506 417h0.5M1406 670h0.5M1622 430h0.5M1368 466h0.5M1362 600h0.5M1553 597h0.5M1606 505h0.5M1459 600h0.5M1663 383h0.5M1319 544h0.5M1392 413h0.5M1759 619h0.5M1586 404h0.5M1541 473h0.5M1756 486h0.5M1661 568h0.5M1354 389h0.5M1744 379h0.5M1566 492h0.5M1584 427h0.5M1544 432h0.5M1623 380h0.5M1368 457h0.5M1724 434h0.5M1354 434h0.5M1581 565h0.5M1327 646h0.5M1659 477h0.5M1435 594h0.5M1765 386h0.5M1729 392h0.5M1581 606h0.5M1720 619h0.5M1420 396h0.5M1559 467h0.5M1657 601h0.5M1484 471h0.5M1456 366h0.5M1630 401h0.5M1540 393h0.5M1547 574h0.5M1453 431h0.5M1408 495h0.5M1503 445h0.5M1686 585h0.5M1339 505h0.5M1763 594h0.5M1755 675h0.5M1668 602h0.5M1323 659h0.5M1665 596h0.5M1318 547h0.5M1445 505h0.5M1640 392h0.5M1336 654h0.5M1590 502h0.5M1331 542h0.5M1636 478h0.5M1438 544h0.5M1303 537h0.5M1385 564h0.5M1569 646h0.5M1723 363h0.5M1373 477h0.5M1636 557h0.5M1458 681h0.5M1766 554h0.5M1585 489h0.5M1661 579h0.5M1531 369h0.5M1341 402h0.5M1749 662h0.5M1652 617h0.5M1561 663h0.5M1500 644h0.5M1703 365h0.5M386 690h0.5M415 698h0.5M445 869h0.5M249 1021h0.5M685 778h0.5M794 896h0.5M628 998h0.5M837 992h0.5M571 909h0.5M721 908h0.5M519 773h0.5M597 731h0.5M695 770h0.5M744 709h0.5M850 837h0.5M553 1025h0.5M563 811h0.5M581 849h0.5M643 759h0.5M581 829h0.5M758 980h0.5M1076 981h0.5M1050 947h0.5M1079 949h0.5M1114 818h0.5M1177 808h0.5M926 928h0.5M979 712h0.5M1146 719h0.5M1069 983h0.5M914 797h0.5M1092 691h0.5M1246 991h0.5M1213 747h0.5M959 692h0.5M1236 701h0.5M986 828h0.5M1078 951h0.5M1018 699h0.5M1238 748h0.5M939 759h0.5M1202 872h0.5M1265 839h0.5M1026 812h0.5M925 1013h0.5M1056 811h0.5M1150 700h0.5M932 979h0.5M1196 748h0.5M1071 1005h0.5M1206 921h0.5M952 976h0.5M939 770h0.5M1042 725h0.5M929 941h0.5M925 739h0.5M948 1026h0.5M1525 702h0.5M1524 948h0.5M1368 961h0.5M1760 846h0.5M1761 908h0.5M1321 924h0.5M1318 974h0.5M1423 973h0.5M1666 873h0.5M1571 1027h0.5M1294 741h0.5M1526 794h0.5M1671 950h0.5M1343 963h0.5M1606 947h0.5M1384 708h0.5M1621 743h0.5M1496 889h0.5M1413 1000h0.5M1631 820h0.5M1586 800h0.5M1296 689h0.5M1551 975h0.5M1751 844h0.5M1503 731h0.5M1499 787h0.5M1547 839h0.5M1492 996h0.5M1584 865h0.5M1733 823h0.5M1642 1003h0.5M1549 943h0.5M1555 916h0.5M1423 874h0.5M1360 848h0.5M1750 905h0.5M1687 966h0.5M1649 838h0.5M1348 894h0.5M1755 865h0.5M1539 767h0.5M1620 761h0.5M1557 804h0.5M1731 951h0.5M1755 967h0.5M1585 798h0.5M1754 802h0.5M1534 1002h0.5M1323 885h0.5M1666 994h0.5" stroke="#fff" stroke-width="2.2" stroke-linecap="round" fill="none"/><path d="M231 213h1M236 232h1M87 266h1M96 143h1M41 212h1M18 349h1M165 323h1M10 231h1M335 327h1M361 332h1M410 316h1M331 141h1M116 4h1M92 62h1M201 324h1M322 207h1M286 162h1M317 189h1M285 330h1M446 355h1M38 160h1M364 63h1M64 54h1M432 31h1M132 265h1M313 117h1M48 265h1M93 229h1M404 49h1M359 46h1M441 42h1M48 14h1M481 345h1M716 147h1M827 319h1M870 233h1M862 8h1M683 184h1M847 153h1M607 104h1M557 16h1M674 45h1M604 99h1M491 245h1M726 359h1M619 141h1M786 196h1M464 187h1M490 230h1M724 89h1M857 244h1M801 323h1M532 102h1M589 94h1M719 361h1M654 170h1M649 260h1M759 120h1M513 34h1M530 146h1M621 254h1M499 137h1M797 222h1M830 199h1M514 259h1M511 328h1M990 326h1M1143 112h1M1148 53h1M1065 149h1M1105 329h1M1171 327h1M1045 292h1M1235 361h1M1146 287h1M1255 242h1M907 357h1M1280 12h1M1101 234h1M1053 281h1M968 178h1M1077 13h1M941 93h1M1273 15h1M1279 52h1M884 362h1M1140 21h1M1033 306h1M959 126h1M998 162h1M1259 131h1M905 320h1M1163 95h1M931 74h1M1012 153h1M1125 347h1M1261 280h1M1033 87h1M1000 260h1M1270 299h1M1231 19h1M1167 119h1M988 142h1M1277 141h1M1019 274h1M1089 294h1M1036 292h1M1143 294h1M1163 65h1M1225 228h1M1130 162h1M1074 85h1M1259 301h1M1282 24h1M974 293h1M1229 71h1M970 290h1M956 228h1M999 148h1M1080 342h1M1257 141h1M1053 346h1M1211 309h1M1063 115h1M898 168h1M939 236h1M975 294h1M1338 286h1M1694 56h1M1638 259h1M1600 322h1M1570 349h1M1462 109h1M1437 181h1M1341 303h1M1609 337h1M1364 127h1M1620 85h1M1302 254h1M1445 55h1M1617 132h1M1416 103h1M1578 197h1M1311 340h1M1397 164h1M1299 207h1M1519 29h1M1295 178h1M1297 12h1M1292 280h1M1400 238h1M1430 120h1M1471 49h1M1350 246h1M1433 66h1M1545 206h1M1434 276h1M1666 353h1M1310 59h1M1387 7h1M1583 134h1M1438 129h1M1332 249h1M1286 180h1M1670 85h1M1756 333h1M1296 186h1M1579 331h1M1704 113h1M1635 21h1M1599 281h1M1437 99h1M1723 105h1M1643 91h1M1456 191h1M1746 44h1M1357 200h1M1635 116h1M1346 154h1M1479 236h1M1744 309h1M1477 322h1M1755 285h1M1600 243h1M1680 304h1M1628 276h1M1406 256h1M1634 345h1M1539 180h1M1543 9h1M1498 295h1M1760 81h1M1492 300h1M1712 274h1M1527 170h1M1430 12h1M1494 277h1M1368 168h1M1400 101h1M1691 254h1M1313 179h1M1372 182h1M1557 87h1M1510 306h1M1327 17h1M1377 41h1M1447 3h1M1469 257h1M1374 143h1M1587 102h1M1662 351h1M1451 44h1M1611 354h1M1577 248h1M68 500h1M60 407h1M432 563h1M432 642h1M144 417h1M153 499h1M168 420h1M59 590h1M172 401h1M406 390h1M164 661h1M345 572h1M235 593h1M63 427h1M110 572h1M86 465h1M581 506h1M540 653h1M481 379h1M820 479h1M465 396h1M660 474h1M784 633h1M735 512h1M523 545h1M506 507h1M673 577h1M866 507h1M540 509h1M549 435h1M738 657h1M646 368h1M800 565h1M582 491h1M600 455h1M746 555h1M866 613h1M996 559h1M1151 401h1M1018 429h1M927 406h1M1049 643h1M896 582h1M1053 381h1M1213 560h1M936 452h1M1049 636h1M876 549h1M1248 604h1M1050 636h1M1121 542h1M1087 419h1M1063 585h1M1113 678h1M1278 523h1M1195 504h1M1133 540h1M1273 518h1M917 537h1M1097 471h1M1110 532h1M1001 522h1M1225 554h1M970 424h1M964 585h1M1188 507h1M1283 564h1M1194 396h1M1088 478h1M1188 385h1M1214 612h1M894 551h1M1044 666h1M1232 421h1M1262 514h1M1065 514h1M1330 620h1M1491 678h1M1488 520h1M1356 578h1M1443 597h1M1521 459h1M1368 570h1M1515 455h1M1708 539h1M1613 397h1M1482 574h1M1385 521h1M1514 684h1M1553 600h1M1371 427h1M1304 562h1M1366 376h1M1731 573h1M1341 603h1M1557 390h1M1507 507h1M1567 581h1M1409 604h1M1751 389h1M1540 392h1M1532 386h1M1696 432h1M1525 622h1M1674 556h1M1571 576h1M1738 460h1M1385 563h1M1329 562h1M1586 602h1M1376 512h1M1602 380h1M1496 626h1M1736 459h1M1516 383h1M1426 394h1M1346 485h1M1295 652h1M1723 638h1M1616 561h1M1445 503h1M1321 565h1M1468 678h1M1396 567h1M1463 658h1M1708 368h1M1734 607h1M433 858h1M428 838h1M523 838h1M862 961h1M829 919h1M630 925h1M633 910h1M711 805h1M678 871h1M670 884h1M812 790h1M509 834h1M996 860h1M965 882h1M998 996h1M878 893h1M978 991h1M1050 1010h1M887 705h1M979 907h1M1038 1019h1M1193 894h1M1212 939h1M1259 777h1M1180 940h1M996 911h1M1092 806h1M1229 826h1M1228 807h1M1239 1028h1M1087 825h1M963 708h1M1247 1014h1M1134 951h1M1170 800h1M1222 749h1M1208 871h1M1125 931h1M1133 859h1M1020 1023h1M1001 781h1M1215 688h1M1613 807h1M1656 982h1M1364 775h1M1336 746h1M1396 1027h1M1403 1010h1M1415 978h1M1746 726h1M1584 737h1M1712 761h1M1761 824h1M1504 928h1M1401 1003h1M1521 777h1M1468 707h1M1731 750h1M1740 1004h1M1462 795h1M1394 1005h1M1737 896h1M1672 852h1M1397 965h1M1380 797h1M1491 711h1M1674 843h1M1605 991h1M1546 937h1M1548 836h1M1401 1020h1M1714 687h1M1675 1012h1M1569 931h1M1539 700h1M1639 995h1M1392 942h1M1603 991h1M1571 839h1M1338 859h1M1656 724h1M1545 963h1" stroke="#fff" stroke-width="4" stroke-linecap="round" fill="none"/><path d="M316 15h2M14 168h2M208 101h2M385 140h2M442 292h2M336 341h2M8 330h2M318 181h2M90 156h2M62 180h2M285 179h2M296 74h2M292 261h2M385 327h2M441 187h2M245 150h2M143 335h2M8 73h2M704 5h2M826 291h2M863 292h2M611 36h2M778 193h2M558 356h2M749 207h2M587 145h2M798 242h2M629 53h2M481 167h2M674 187h2M680 191h2M499 143h2M667 235h2M752 303h2M694 253h2M605 168h2M688 96h2M794 218h2M883 65h2M1185 273h2M1248 351h2M1005 23h2M1171 114h2M1166 49h2M986 199h2M1195 188h2M946 95h2M880 229h2M1275 108h2M960 250h2M1041 151h2M1097 227h2M1272 121h2M1190 174h2M1163 226h2M947 5h2M1132 144h2M1025 112h2M903 66h2M1143 226h2M1229 361h2M1093 346h2M1137 77h2M1257 55h2M1176 114h2M1037 315h2M919 66h2M968 210h2M1148 125h2M1214 236h2M1480 222h2M1484 4h2M1299 40h2M1685 119h2M1639 152h2M1339 43h2M1543 305h2M1493 224h2M1647 37h2M1653 211h2M1705 58h2M1446 255h2M1742 336h2M1535 211h2M1285 25h2M1403 79h2M1463 129h2M1570 269h2M1725 52h2M1747 338h2M1692 169h2M1724 85h2M1709 59h2M1380 78h2M1677 110h2M1663 317h2M1615 342h2M1652 201h2M1719 91h2M1708 165h2M1641 108h2M1394 280h2M1580 80h2M1715 241h2M1540 360h2M1356 113h2M1619 10h2M1455 357h2M1422 69h2M1476 201h2M1593 40h2M1320 277h2M1299 59h2M1629 67h2M1444 54h2M1646 285h2M1339 356h2M1459 220h2M1563 323h2M1377 162h2M1517 262h2M1636 208h2M1682 248h2M1541 46h2M1710 201h2M1425 165h2M202 458h2M275 515h2M350 560h2M385 621h2M332 373h2M16 499h2M451 550h2M55 416h2M784 448h2M767 562h2M476 516h2M658 601h2M458 436h2M595 397h2M636 556h2M854 670h2M480 599h2M790 673h2M631 622h2M478 405h2M714 558h2M1246 683h2M1160 376h2M1088 452h2M871 674h2M1075 499h2M1161 438h2M1172 442h2M1053 624h2M1100 536h2M920 665h2M882 643h2M1073 658h2M990 608h2M983 480h2M1216 680h2M1106 443h2M1175 595h2M1166 418h2M938 478h2M1199 557h2M1119 451h2M1200 623h2M1051 584h2M947 544h2M1188 439h2M1219 535h2M969 461h2M1132 607h2M1260 581h2M1538 601h2M1578 576h2M1321 665h2M1618 389h2M1396 389h2M1322 639h2M1685 608h2M1312 617h2M1639 621h2M1598 488h2M1327 618h2M1620 483h2M1322 500h2M1298 587h2M1517 438h2M1618 602h2M1511 399h2M1528 527h2M1494 626h2M1713 596h2M1595 671h2M1346 562h2M1573 561h2M1387 425h2M1375 464h2M1386 466h2M1308 539h2M1580 375h2M1520 533h2M1478 364h2M1436 627h2M1633 591h2M1426 524h2M1324 536h2M1390 388h2M1638 666h2M378 740h2M437 855h2M486 871h2M560 782h2M778 934h2M643 920h2M575 855h2M645 915h2M1108 759h2M1080 826h2M1118 943h2M988 997h2M984 872h2M976 882h2M1015 958h2M924 920h2M1046 999h2M1038 799h2M1084 879h2M1038 726h2M1179 1007h2M1022 712h2M1165 992h2M1183 696h2M1221 779h2M1370 913h2M1597 908h2M1414 988h2M1755 856h2M1650 741h2M1540 999h2M1515 925h2M1542 993h2M1458 748h2M1506 756h2M1432 822h2M1309 992h2M1597 799h2M1618 742h2M1741 829h2M1704 744h2M1368 806h2M1477 828h2M1362 981h2M1597 1024h2M1328 853h2M1596 1021h2M1470 905h2M1461 856h2M1730 714h2" stroke="#fff" stroke-width="6" stroke-linecap="round" fill="none"/><path d="M287 288l13 5M446 144l10 6M354 98l13 1M54 89l3 5M80 261l13 7M145 363l8 8M265 221l15 -1M200 304l13 -3M447 164l3 4M216 65l9 5M597 170l12 2M562 146l5 5M703 276l9 6M865 343l14 5M760 87l8 8M764 304l6 1M495 318l8 7M544 240l7 5M682 286l10 11M576 352l7 5M728 86l14 3M518 280l12 6M806 298l6 2M584 113l6 6M799 237l8 1M689 166l12 11M729 221l12 4M715 72l6 5M1105 328l10 5M949 320l6 2M974 292l7 3M979 290l10 11M931 113l10 3M980 214l10 10M1215 286l7 2M1277 222l8 5M1047 142l10 3M1032 132l8 5M1005 92l11 1M1152 85l7 9M896 25l9 4M890 259l5 2M1022 94l5 7M1205 144l9 7M1171 64l5 3M1003 274l14 8M1022 36l14 2M1126 327l10 12M911 325l12 3M920 170l12 8M1262 325l11 3M1594 308l7 6M1323 95l8 6M1309 303l10 3M1645 177l5 -1M1422 247l11 12M1664 233l11 5M1472 283l12 5M1562 93l11 7M1397 345l15 3M1535 348l10 12M1665 196l10 9M1416 341l5 3M1292 110l6 5M1589 168l12 2M1316 242l14 7M1536 177l8 6M1401 119l5 1M1513 6l6 1M1437 357l7 5M1449 258l8 0M1380 331l9 7M1455 275l12 4M1405 65l4 4M1395 261l13 6M1546 212l5 2M1315 37l7 3M1726 303l7 2M1563 229l6 4M1323 314l5 5M1651 262l6 3M1726 14l8 2M1286 0l15 5M1313 36l8 6M1589 170l11 3M1530 185l6 3M65 615l7 7M95 571l13 8M411 620l11 3M211 401l6 3M148 425l8 9M57 624l9 7M359 630l6 3M385 623l10 5M42 649l11 4M258 410l6 7M163 373l14 -2M80 397l10 9M778 452l5 2M843 533l10 0M867 464l11 7M834 582l13 7M827 491l15 5M975 629l9 7M1168 533l13 7M1023 657l8 3M987 542l5 2M1032 681l13 2M1261 430l12 7M1122 517l11 6M1202 630l10 4M1236 661l10 6M931 547l9 3M1138 567l6 3M1152 651l6 5M1138 463l5 2M1123 441l12 6M1169 436l9 3M1238 669l10 2M944 618l7 2M1030 391l12 1M907 640l15 3M1264 603l5 3M1210 452l6 3M1076 636l5 2M1082 420l11 6M913 374l8 2M1195 541l10 4M962 404l5 8M878 647l8 1M944 526l14 3M1357 445l4 3M1452 636l5 5M1434 672l7 2M1609 393l6 4M1423 400l9 6M1650 415l6 3M1537 484l13 5M1472 630l7 1M1305 458l11 7M1425 490l14 8M1372 670l9 5M1641 463l11 4M1584 569l9 0M1638 399l12 0M1568 667l11 10M1707 475l15 2M1428 629l5 1M1502 379l11 2M1338 645l5 1M1297 659l5 2M1335 661l11 4M1504 674l10 7M1400 390l8 8M1750 565l8 2M1317 442l8 6M1368 498l10 4M1679 661l10 2M1615 626l9 -3M1542 625l14 5M1737 383l7 0M1634 392l8 -1M1351 504l12 3M1414 531l13 5M1380 549l6 3M1686 641l4 3M1447 501l14 5M1765 627l14 8M1475 638l5 2M1481 683l11 8M1677 648l5 7M1589 648l9 0M1482 656l7 4M1588 474l5 7M1394 587l12 10M1759 658l6 4M371 694l14 4M752 915l9 6M837 989l5 4M650 906l6 2M660 985l14 2M1164 864l11 10M1220 993l9 5M952 768l9 3M992 864l11 4M877 723l12 5M876 800l11 5M1189 861l5 6M1276 906l11 2M1021 843l9 4M983 875l14 6M979 816l13 3M1234 960l10 6M882 868l10 11M1102 726l8 4M1257 827l12 4M921 1000l14 6M1277 921l11 5M1065 849l9 8M991 817l4 4M1215 809l5 1M975 951l10 3M1028 1029l10 8M1067 944l12 1M1087 945l5 0M1108 785l8 5M1155 1000l4 4M1064 886l6 7M1214 785l11 9M919 1010l7 11M890 783l13 7M956 945l11 0M925 794l13 -2M1048 1026l6 4M1171 882l6 2M1085 747l6 5M895 699l7 4M1179 732l13 8M949 970l10 5M1154 933l12 2M883 776l7 2M1146 746l5 2M1226 871l7 2M1135 694l11 9M914 991l7 3M1458 903l13 9M1600 772l10 6M1697 778l7 6M1744 902l8 2M1339 836l7 3M1661 724l7 0M1485 869l6 9M1319 796l6 5M1443 789l8 4M1618 807l5 6M1759 759l11 7M1760 929l10 7M1299 997l8 4M1629 810l5 3M1379 926l9 4M1662 703l13 6M1687 946l12 4M1456 720l11 8M1400 750l5 10M1409 779l6 8M1662 701l8 6M1317 787l6 1M1347 707l11 5M1749 890l8 2M1672 776l5 1M1433 863l10 3M1680 754l6 4M1685 701l10 9M1699 790l13 6M1542 871l7 4M1512 1010l6 4M1641 1009l5 2M1330 876l6 5M1641 695l6 3M1473 910l6 4M1759 817l7 1M1676 701l4 3M1555 1001l14 6M1497 893l14 0M1285 728l10 3M1518 777l10 5M1345 737l7 2M1766 913l15 -4M1397 849l5 3M1713 800l13 2M1744 925l10 9M1656 745l7 1M1759 728l6 3M1607 712l6 2M1428 985l8 1M1366 858l5 2M1423 816l11 4M1619 878l14 2M1555 876l15 6M1297 761l11 8M1608 792l12 3M1629 892l14 1M1706 969l10 11M1717 718l14 3M1587 805l11 7M1538 827l8 8M1739 717l7 8M1384 938l5 3M1628 689l14 2M1300 901l13 4M1668 955l10 2M1723 754l14 3M1544 822l11 5M1478 872l3 5M1434 1000l10 7" stroke="#fff" stroke-width="2.6" stroke-linecap="round" fill="none"/><path d="M62.8 63.5L89.7 65.1" stroke="#00ffb2" stroke-width="1.6"/><path d="M107.7 66.1L89.3 71.8L90.1 58.4Z" fill="#00ffb2"/>
<path d="M62.8 109.6L89.7 111.3" stroke="#00ffb2" stroke-width="1.6"/><path d="M107.7 112.4L89.3 118.0L90.1 104.5Z" fill="#00ffb2"/>
<path d="M62.8 155.7L95.6 150.0" stroke="#00ff64" stroke-width="1.6"/><path d="M117.5 146.2L97.0 158.2L94.2 141.8Z" fill="#00ff64"/>
<path d="M62.8 201.8L89.0 195.8" stroke="#00ffb2" stroke-width="1.6"/><path d="M106.5 191.7L90.6 202.3L87.5 189.2Z" fill="#00ffb2"/>
<path d="M62.8 248.0L89.0 243.4" stroke="#00ffb6" stroke-width="1.6"/><path d="M106.5 240.3L90.2 249.9L87.9 236.8Z" fill="#00ffb6"/>
<path d="M62.8 294.1L89.0 292.5" stroke="#00ffba" stroke-width="1.6"/><path d="M106.5 291.4L89.4 299.0L88.6 285.9Z" fill="#00ffba"/>
<path d="M62.8 340.2L89.0 337.9" stroke="#00ffba" stroke-width="1.6"/><path d="M106.5 336.5L89.6 344.5L88.5 331.4Z" fill="#00ffba"/>
<path d="M62.8 386.3L62.0 381.0" stroke="#0042ff" stroke-width="1.6"/><path d="M61.5 377.5L63.3 380.8L60.7 381.2Z" fill="#0042ff"/>
<path d="M62.8 432.4L53.3 424.4" stroke="#0099ff" stroke-width="1.6"/><path d="M47.0 419.0L55.3 422.0L51.3 426.8Z" fill="#0099ff"/>
<path d="M62.8 478.5L88.6 474.3" stroke="#00ffbc" stroke-width="1.6"/><path d="M105.8 471.5L89.7 480.8L87.6 467.9Z" fill="#00ffbc"/>
<path d="M62.8 524.7L103.7 522.2" stroke="#00ff05" stroke-width="1.6"/><path d="M131.0 520.6L104.4 532.4L103.1 512.0Z" fill="#00ff05"/>
<path d="M62.8 570.8L121.9 570.1" stroke="#dbff00" stroke-width="1.6"/><path d="M161.4 569.6L122.1 584.8L121.8 555.3Z" fill="#dbff00"/>
<path d="M62.8 616.9L138.8 616.5" stroke="#ff5400" stroke-width="1.6"/><path d="M189.4 616.3L138.8 635.5L138.7 597.5Z" fill="#ff5400"/>
<path d="M108.9 63.5L134.8 65.1" stroke="#00ffbf" stroke-width="1.6"/><path d="M152.0 66.1L134.4 71.6L135.2 58.6Z" fill="#00ffbf"/>
<path d="M108.9 109.6L134.8 111.5" stroke="#00ffbe" stroke-width="1.6"/><path d="M152.0 112.8L134.3 118.0L135.3 105.1Z" fill="#00ffbe"/>
<path d="M108.9 155.7L143.2 152.1" stroke="#00ff55" stroke-width="1.6"/><path d="M166.1 149.7L144.1 160.7L142.3 143.5Z" fill="#00ff55"/>
<path d="M108.9 201.8L133.4 197.9" stroke="#00ffcc" stroke-width="1.6"/><path d="M149.7 195.2L134.4 204.0L132.4 191.8Z" fill="#00ffcc"/>
<path d="M108.9 248.0L133.4 245.3" stroke="#00ffcf" stroke-width="1.6"/><path d="M149.7 243.5L134.0 251.4L132.7 239.2Z" fill="#00ffcf"/>
<path d="M108.9 294.1L133.4 292.5" stroke="#00ffd0" stroke-width="1.6"/><path d="M149.7 291.4L133.8 298.6L133.0 286.3Z" fill="#00ffd0"/>
<path d="M108.9 340.2L129.9 338.6" stroke="#00fffb" stroke-width="1.6"/><path d="M143.9 337.6L130.3 343.9L129.5 333.4Z" fill="#00fffb"/>
<path d="M108.9 386.3L110.0 383.5" stroke="#0025ff" stroke-width="1.6"/><path d="M110.7 381.7L110.7 383.8L109.3 383.3Z" fill="#0025ff"/>
<path d="M108.9 432.4L95.6 431.4" stroke="#00a5ff" stroke-width="1.6"/><path d="M86.7 430.7L95.8 428.1L95.3 434.7Z" fill="#00a5ff"/>
<path d="M108.9 478.5L143.2 475.0" stroke="#00ff55" stroke-width="1.6"/><path d="M166.1 472.7L144.1 483.6L142.3 466.5Z" fill="#00ff55"/>
<path d="M108.9 524.7L164.2 524.3" stroke="#abff00" stroke-width="1.6"/><path d="M201.1 524.1L164.3 538.1L164.1 510.5Z" fill="#abff00"/>
<path d="M108.9 570.8L176.8 571.5" stroke="#ffb700" stroke-width="1.6"/><path d="M222.1 571.9L176.6 588.4L177.0 554.5Z" fill="#ffb700"/>
<path d="M108.9 616.9L189.4 617.2" stroke="#ff1c00" stroke-width="1.6"/><path d="M243.1 617.4L189.3 637.3L189.5 597.1Z" fill="#ff1c00"/>
<path d="M155.0 63.5L181.0 66.9" stroke="#00ffbb" stroke-width="1.6"/><path d="M198.3 69.2L180.1 73.4L181.8 60.4Z" fill="#00ffbb"/>
<path d="M155.0 109.6L181.9 104.0" stroke="#00ffab" stroke-width="1.6"/><path d="M199.9 100.2L183.3 110.7L180.5 97.2Z" fill="#00ffab"/>
<path d="M155.0 155.7L186.1 153.1" stroke="#00ff7d" stroke-width="1.6"/><path d="M206.9 151.3L186.8 160.9L185.5 145.3Z" fill="#00ff7d"/>
<path d="M155.0 201.8L177.0 200.4" stroke="#00ffee" stroke-width="1.6"/><path d="M191.7 199.4L177.4 205.9L176.7 194.9Z" fill="#00ffee"/>
<path d="M155.0 248.0L177.7 247.6" stroke="#00ffe6" stroke-width="1.6"/><path d="M192.9 247.3L177.8 253.2L177.6 241.9Z" fill="#00ffe6"/>
<path d="M155.0 294.1L177.7 295.7" stroke="#00ffe5" stroke-width="1.6"/><path d="M192.9 296.8L177.3 301.4L178.1 290.0Z" fill="#00ffe5"/>
<path d="M155.0 340.2L174.9 339.3" stroke="#00f6ff" stroke-width="1.6"/><path d="M188.2 338.8L175.1 344.3L174.7 334.4Z" fill="#00f6ff"/>
<path d="M155.0 386.3L151.8 380.4" stroke="#0052ff" stroke-width="1.6"/><path d="M149.7 376.5L153.3 379.7L150.4 381.2Z" fill="#0052ff"/>
<path d="M155.0 432.4L173.5 426.5" stroke="#00f0ff" stroke-width="1.6"/><path d="M185.9 422.5L175.0 431.1L172.1 421.8Z" fill="#00f0ff"/>
<path d="M155.0 478.5L234.9 478.5" stroke="#ff2400" stroke-width="1.6"/><path d="M288.1 478.5L234.9 498.5L234.9 458.6Z" fill="#ff2400"/>
<path d="M155.0 524.7L226.1 522.9" stroke="#ff9000" stroke-width="1.6"/><path d="M273.4 521.7L226.5 540.7L225.6 505.1Z" fill="#ff9000"/>
<path d="M155.0 570.8L231.7 572.9" stroke="#ff4b00" stroke-width="1.6"/><path d="M282.8 574.3L231.1 592.0L232.2 553.7Z" fill="#ff4b00"/>
<path d="M155.0 616.9L234.5 618.6" stroke="#ff2900" stroke-width="1.6"/><path d="M287.4 619.8L234.0 638.5L234.9 598.7Z" fill="#ff2900"/>
<path d="M201.1 63.5L227.7 59.9" stroke="#00ffb3" stroke-width="1.6"/><path d="M245.4 57.5L228.6 66.6L226.8 53.3Z" fill="#00ffb3"/>
<path d="M201.1 109.6L225.6 105.4" stroke="#00ffcc" stroke-width="1.6"/><path d="M241.9 102.6L226.6 111.5L224.5 99.3Z" fill="#00ffcc"/>
<path d="M201.1 155.7L227.3 154.9" stroke="#00ffbb" stroke-width="1.6"/><path d="M244.7 154.4L227.5 161.5L227.1 148.4Z" fill="#00ffbb"/>
<path d="M201.1 201.8L218.6 201.8" stroke="#00d7ff" stroke-width="1.6"/><path d="M230.2 201.8L218.6 206.2L218.6 197.4Z" fill="#00d7ff"/>
<path d="M201.1 248.0L221.4 249.0" stroke="#00faff" stroke-width="1.6"/><path d="M234.9 249.6L221.1 254.0L221.6 243.9Z" fill="#00faff"/>
<path d="M201.1 294.1L223.8 296.4" stroke="#00ffe5" stroke-width="1.6"/><path d="M238.9 297.9L223.2 302.1L224.3 290.7Z" fill="#00ffe5"/>
<path d="M201.1 340.2L225.6 338.6" stroke="#00ffd0" stroke-width="1.6"/><path d="M241.9 337.6L226.0 344.8L225.2 332.5Z" fill="#00ffd0"/>
<path d="M201.1 386.3L273.9 386.3" stroke="#ff7b00" stroke-width="1.6"/><path d="M322.4 386.3L273.9 404.5L273.9 368.1Z" fill="#ff7b00"/>
<path d="M201.1 432.4L273.9 432.5" stroke="#ff7b00" stroke-width="1.6"/><path d="M322.4 432.6L273.9 450.7L273.9 414.3Z" fill="#ff7b00"/>
<path d="M201.1 478.5L276.0 479.2" stroke="#ff6100" stroke-width="1.6"/><path d="M325.9 479.7L275.8 498.0L276.2 460.5Z" fill="#ff6100"/>
<path d="M201.1 524.7L285.1 520.8" stroke="#ff0000" stroke-width="1.6"/><path d="M341.1 518.2L286.1 541.8L284.1 499.8Z" fill="#ff0000"/>
<path d="M201.1 570.8L280.9 568.0" stroke="#ff2400" stroke-width="1.6"/><path d="M334.1 566.1L281.6 587.9L280.2 548.0Z" fill="#ff2400"/>
<path d="M201.1 616.9L269.0 620.0" stroke="#ffb700" stroke-width="1.6"/><path d="M314.3 622.1L268.2 637.0L269.8 603.0Z" fill="#ffb700"/>
<path d="M247.2 63.5L272.0 59.2" stroke="#00ffc7" stroke-width="1.6"/><path d="M288.6 56.3L273.1 65.4L271.0 53.0Z" fill="#00ffc7"/>
<path d="M247.2 109.6L269.9 105.4" stroke="#00ffe1" stroke-width="1.6"/><path d="M285.1 102.6L271.0 111.1L268.9 99.7Z" fill="#00ffe1"/>
<path d="M247.2 155.7L264.3 155.2" stroke="#00d3ff" stroke-width="1.6"/><path d="M275.8 154.8L264.5 159.5L264.2 150.9Z" fill="#00d3ff"/>
<path d="M247.2 201.8L262.5 202.1" stroke="#00bdff" stroke-width="1.6"/><path d="M272.7 202.2L262.5 205.9L262.6 198.2Z" fill="#00bdff"/>
<path d="M247.2 248.0L265.7 246.4" stroke="#00e5ff" stroke-width="1.6"/><path d="M278.1 245.4L266.1 251.1L265.4 241.8Z" fill="#00e5ff"/>
<path d="M247.2 294.1L267.1 291.5" stroke="#00f8ff" stroke-width="1.6"/><path d="M280.4 289.8L267.8 296.5L266.5 286.5Z" fill="#00f8ff"/>
<path d="M247.2 340.2L274.1 334.4" stroke="#00ffab" stroke-width="1.6"/><path d="M292.1 330.6L275.6 341.2L272.7 327.7Z" fill="#00ffab"/>
<path d="M247.2 386.3L327.4 386.3" stroke="#ff2000" stroke-width="1.6"/><path d="M380.8 386.3L327.4 406.4L327.4 366.3Z" fill="#ff2000"/>
<path d="M247.2 432.4L323.2 432.8" stroke="#ff5400" stroke-width="1.6"/><path d="M373.8 433.0L323.1 451.8L323.3 413.8Z" fill="#ff5400"/>
<path d="M247.2 478.5L314.1 500.3" stroke="#ff9a00" stroke-width="1.6"/><path d="M358.6 514.7L308.6 517.0L319.5 483.5Z" fill="#ff9a00"/>
<path d="M247.2 524.7L314.8 539.7" stroke="#ffa700" stroke-width="1.6"/><path d="M359.8 549.7L311.0 556.6L318.5 522.8Z" fill="#ffa700"/>
<path d="M247.2 570.8L333.0 572.2" stroke="#ff0000" stroke-width="1.6"/><path d="M390.1 573.1L332.6 593.6L333.3 550.7Z" fill="#ff0000"/>
<path d="M247.2 616.9L314.8 630.5" stroke="#ffab00" stroke-width="1.6"/><path d="M359.8 639.6L311.3 647.4L318.2 613.6Z" fill="#ffab00"/>
<path d="M293.3 63.5L308.7 56.4" stroke="#00d1ff" stroke-width="1.6"/><path d="M318.9 51.7L310.5 60.2L306.9 52.6Z" fill="#00d1ff"/>
<path d="M293.3 109.6L308.0 106.4" stroke="#00b9ff" stroke-width="1.6"/><path d="M317.8 104.2L308.8 110.0L307.2 102.7Z" fill="#00b9ff"/>
<path d="M293.3 155.7L309.4 155.2" stroke="#00c6ff" stroke-width="1.6"/><path d="M320.1 154.8L309.5 159.2L309.3 151.2Z" fill="#00c6ff"/>
<path d="M293.3 201.8L310.1 202.4" stroke="#00cfff" stroke-width="1.6"/><path d="M321.3 202.7L310.0 206.6L310.2 198.2Z" fill="#00cfff"/>
<path d="M293.3 248.0L312.9 246.4" stroke="#00f2ff" stroke-width="1.6"/><path d="M325.9 245.4L313.3 251.3L312.5 241.5Z" fill="#00f2ff"/>
<path d="M293.3 294.1L313.6 291.5" stroke="#00fcff" stroke-width="1.6"/><path d="M327.1 289.8L314.2 296.6L312.9 286.4Z" fill="#00fcff"/>
<path d="M293.3 340.2L312.9 334.4" stroke="#00fbff" stroke-width="1.6"/><path d="M325.9 330.6L314.3 339.3L311.5 329.5Z" fill="#00fbff"/>
<path d="M293.3 386.3L336.7 391.9" stroke="#1dff00" stroke-width="1.6"/><path d="M365.6 395.7L335.3 402.8L338.1 381.1Z" fill="#1dff00"/>
<path d="M293.3 432.4L340.2 439.1" stroke="#4aff00" stroke-width="1.6"/><path d="M371.5 443.5L338.5 450.8L341.9 427.4Z" fill="#4aff00"/>
<path d="M293.3 478.5L362.6 501.7" stroke="#ff7800" stroke-width="1.6"/><path d="M408.8 517.1L356.8 519.0L368.4 484.3Z" fill="#ff7800"/>
<path d="M293.3 524.7L359.8 543.9" stroke="#ffa700" stroke-width="1.6"/><path d="M404.1 556.7L355.0 560.5L364.6 527.3Z" fill="#ffa700"/>
<path d="M293.3 570.8L358.4 586.2" stroke="#ffc400" stroke-width="1.6"/><path d="M401.8 596.4L354.6 602.4L362.3 569.9Z" fill="#ffc400"/>
<path d="M293.3 616.9L336.7 638.9" stroke="#5aff00" stroke-width="1.6"/><path d="M365.6 653.6L331.2 649.8L342.2 628.1Z" fill="#5aff00"/>
<path d="M293.3 663.0L329.7 679.1" stroke="#00ff14" stroke-width="1.6"/><path d="M354.0 689.8L325.7 688.2L333.7 670.0Z" fill="#00ff14"/>
<path d="M339.4 63.5L351.9 60.9" stroke="#009eff" stroke-width="1.6"/><path d="M360.3 59.1L352.6 64.0L351.3 57.8Z" fill="#009eff"/>
<path d="M339.4 109.6L348.8 111.3" stroke="#0076ff" stroke-width="1.6"/><path d="M355.1 112.4L348.4 113.6L349.2 108.9Z" fill="#0076ff"/>
<path d="M339.4 155.7L344.4 161.9" stroke="#0062ff" stroke-width="1.6"/><path d="M347.7 166.1L342.8 163.2L345.9 160.7Z" fill="#0062ff"/>
<path d="M339.4 201.8L359.3 202.8" stroke="#00f6ff" stroke-width="1.6"/><path d="M372.6 203.4L359.1 207.8L359.6 197.8Z" fill="#00f6ff"/>
<path d="M339.4 248.0L362.1 255.5" stroke="#00ffd7" stroke-width="1.6"/><path d="M377.3 260.6L360.2 261.2L364.0 249.9Z" fill="#00ffd7"/>
<path d="M339.4 294.1L361.4 301.0" stroke="#00ffe1" stroke-width="1.6"/><path d="M376.1 305.6L359.7 306.5L363.2 295.5Z" fill="#00ffe1"/>
<path d="M339.4 340.2L358.6 344.7" stroke="#00f3ff" stroke-width="1.6"/><path d="M371.5 347.7L357.5 349.5L359.8 339.9Z" fill="#00f3ff"/>
<path d="M339.4 386.3L379.6 396.1" stroke="#00ff00" stroke-width="1.6"/><path d="M406.5 402.7L377.2 406.2L382.1 386.1Z" fill="#00ff00"/>
<path d="M339.4 432.4L372.6 442.6" stroke="#00ff52" stroke-width="1.6"/><path d="M394.8 449.4L370.1 450.9L375.2 434.3Z" fill="#00ff52"/>
<path d="M339.4 478.5L381.0 491.8" stroke="#1dff00" stroke-width="1.6"/><path d="M408.8 500.7L377.7 502.3L384.4 481.4Z" fill="#1dff00"/>
<path d="M339.4 524.7L403.5 553.7" stroke="#ff9900" stroke-width="1.6"/><path d="M446.2 573.1L396.2 569.7L410.7 537.7Z" fill="#ff9900"/>
<path d="M339.4 570.8L407.7 597.4" stroke="#ff7600" stroke-width="1.6"/><path d="M453.2 615.1L401.0 614.4L414.3 580.3Z" fill="#ff7600"/>
<path d="M339.4 616.9L395.1 650.8" stroke="#ffd900" stroke-width="1.6"/><path d="M432.2 673.5L386.6 664.7L403.5 636.9Z" fill="#ffd900"/>
<path d="M339.4 663.0L375.4 679.1" stroke="#00ff18" stroke-width="1.6"/><path d="M399.5 689.8L371.4 688.1L379.5 670.1Z" fill="#00ff18"/>
<path d="M339.4 709.1L363.5 719.3" stroke="#00ffbb" stroke-width="1.6"/><path d="M379.6 726.1L361.0 725.4L366.1 713.3Z" fill="#00ffbb"/>
<path d="M385.5 63.5L393.2 71.5" stroke="#0089ff" stroke-width="1.6"/><path d="M398.3 76.9L391.2 73.5L395.2 69.6Z" fill="#0089ff"/>
<path d="M385.5 109.6L389.0 115.7" stroke="#0057ff" stroke-width="1.6"/><path d="M391.3 119.8L387.5 116.6L390.5 114.9Z" fill="#0057ff"/>
<path d="M385.5 155.7L389.0 160.2" stroke="#0046ff" stroke-width="1.6"/><path d="M391.3 163.2L387.9 161.1L390.1 159.4Z" fill="#0046ff"/>
<path d="M385.5 201.8L406.5 208.4" stroke="#00ffef" stroke-width="1.6"/><path d="M420.5 212.7L404.9 213.6L408.1 203.1Z" fill="#00ffef"/>
<path d="M385.5 248.0L409.3 255.5" stroke="#00ffca" stroke-width="1.6"/><path d="M425.2 260.6L407.4 261.5L411.2 249.6Z" fill="#00ffca"/>
<path d="M385.5 294.1L407.2 303.4" stroke="#00ffdb" stroke-width="1.6"/><path d="M421.7 309.6L404.9 308.8L409.5 298.0Z" fill="#00ffdb"/>
<path d="M385.5 340.2L407.2 348.5" stroke="#00ffe0" stroke-width="1.6"/><path d="M421.7 354.0L405.1 353.9L409.3 343.0Z" fill="#00ffe0"/>
<path d="M385.5 386.3L421.2 398.9" stroke="#00ff2c" stroke-width="1.6"/><path d="M445.0 407.4L418.0 407.9L424.4 390.0Z" fill="#00ff2c"/>
<path d="M385.5 432.4L416.3 441.9" stroke="#00ff71" stroke-width="1.6"/><path d="M436.8 448.2L413.9 449.6L418.7 434.2Z" fill="#00ff71"/>
<path d="M385.5 478.5L425.4 489.0" stroke="#00ff02" stroke-width="1.6"/><path d="M452.0 496.1L422.8 499.0L428.0 479.1Z" fill="#00ff02"/>
<path d="M385.5 524.7L437.3 546.7" stroke="#b8ff00" stroke-width="1.6"/><path d="M471.8 561.4L431.8 559.7L442.8 533.8Z" fill="#b8ff00"/>
<path d="M385.5 570.8L465.3 604.4" stroke="#ff0000" stroke-width="1.6"/><path d="M518.5 626.8L456.9 624.3L473.7 584.4Z" fill="#ff0000"/>
<path d="M385.5 616.9L428.9 650.8" stroke="#a9ff00" stroke-width="1.6"/><path d="M457.8 673.5L420.4 661.7L437.4 640.0Z" fill="#a9ff00"/>
<path d="M385.5 663.0L416.3 676.8" stroke="#00ff5e" stroke-width="1.6"/><path d="M436.8 686.1L412.8 684.5L419.8 669.1Z" fill="#00ff5e"/>
<path d="M385.5 709.1L405.1 721.2" stroke="#00ffe3" stroke-width="1.6"/><path d="M418.2 729.2L402.1 726.1L408.1 716.3Z" fill="#00ffe3"/>
<path d="M385.5 755.2L385.9 743.1" stroke="#0095ff" stroke-width="1.6"/><path d="M386.2 735.0L388.9 743.2L382.9 743.0Z" fill="#0095ff"/>
<path d="M431.6 63.5L439.4 74.9" stroke="#00aaff" stroke-width="1.6"/><path d="M444.5 82.5L436.5 76.8L442.2 73.0Z" fill="#00aaff"/>
<path d="M431.6 109.6L438.2 119.0" stroke="#008dff" stroke-width="1.6"/><path d="M442.7 125.2L435.9 120.6L440.6 117.3Z" fill="#008dff"/>
<path d="M431.6 155.7L439.6 162.6" stroke="#0082ff" stroke-width="1.6"/><path d="M445.0 167.2L437.9 164.6L441.4 160.6Z" fill="#0082ff"/>
<path d="M431.6 201.8L442.4 209.5" stroke="#00a3ff" stroke-width="1.6"/><path d="M449.7 214.6L440.5 212.2L444.4 206.8Z" fill="#00a3ff"/>
<path d="M431.6 248.0L443.1 255.5" stroke="#00aaff" stroke-width="1.6"/><path d="M450.8 260.6L441.2 258.4L445.0 252.7Z" fill="#00aaff"/>
<path d="M431.6 294.1L449.4 301.3" stroke="#00edff" stroke-width="1.6"/><path d="M461.3 306.1L447.6 305.8L451.2 296.8Z" fill="#00edff"/>
<path d="M431.6 340.2L454.1 358.0" stroke="#00ff9d" stroke-width="1.6"/><path d="M469.0 369.8L449.6 363.6L458.5 352.4Z" fill="#00ff9d"/>
<path d="M431.6 386.3L462.7 408.7" stroke="#00ff25" stroke-width="1.6"/><path d="M483.5 423.7L457.1 416.5L468.4 400.9Z" fill="#00ff25"/>
<path d="M431.6 432.4L462.7 449.6" stroke="#00ff48" stroke-width="1.6"/><path d="M483.5 461.0L458.5 457.4L467.0 441.8Z" fill="#00ff48"/>
<path d="M431.6 478.5L448.7 493.2" stroke="#00ffe8" stroke-width="1.6"/><path d="M460.2 503.1L445.1 497.5L452.4 489.0Z" fill="#00ffe8"/>
<path d="M431.6 524.7L496.6 552.0" stroke="#ff9700" stroke-width="1.6"/><path d="M540.0 570.3L489.8 568.3L503.5 535.8Z" fill="#ff9700"/>
<path d="M431.6 570.8L476.8 587.6" stroke="#53ff00" stroke-width="1.6"/><path d="M506.9 598.8L472.6 598.9L481.0 576.3Z" fill="#53ff00"/>
<path d="M431.6 616.9L469.7 650.8" stroke="#77ff00" stroke-width="1.6"/><path d="M495.2 673.5L461.3 660.4L478.2 641.3Z" fill="#77ff00"/>
<path d="M431.6 663.0L478.4 691.9" stroke="#a8ff00" stroke-width="1.6"/><path d="M509.6 711.2L471.2 703.6L485.6 680.2Z" fill="#a8ff00"/>
<path d="M431.6 709.1L455.7 720.5" stroke="#00ffb5" stroke-width="1.6"/><path d="M471.8 728.0L452.9 726.5L458.6 714.4Z" fill="#00ffb5"/>
<path d="M431.6 755.2L454.3 760.6" stroke="#00ffde" stroke-width="1.6"/><path d="M469.5 764.2L453.0 766.3L455.7 754.9Z" fill="#00ffde"/>
<path d="M431.6 801.3L442.4 803.6" stroke="#0088ff" stroke-width="1.6"/><path d="M449.7 805.0L441.9 806.3L443.0 800.9Z" fill="#0088ff"/>
<path d="M431.6 847.5L422.1 829.0" stroke="#00ffff" stroke-width="1.6"/><path d="M415.8 816.7L426.7 826.6L417.5 831.4Z" fill="#00ffff"/>
<path d="M431.6 893.6L427.7 876.2" stroke="#00dcff" stroke-width="1.6"/><path d="M425.2 864.6L432.1 875.2L423.4 877.1Z" fill="#00dcff"/>
<path d="M431.6 939.7L427.7 940.8" stroke="#0032ff" stroke-width="1.6"/><path d="M425.2 941.6L427.4 939.9L428.0 941.8Z" fill="#0032ff"/>
<path d="M431.6 985.8L429.1 984.1" stroke="#0025ff" stroke-width="1.6"/><path d="M427.5 982.9L429.6 983.5L428.7 984.7Z" fill="#0025ff"/>
<path d="M477.7 63.5L484.4 77.4" stroke="#00beff" stroke-width="1.6"/><path d="M488.8 86.7L480.9 79.1L487.9 75.7Z" fill="#00beff"/>
<path d="M477.7 109.6L486.5 128.1" stroke="#00fcff" stroke-width="1.6"/><path d="M492.3 140.4L481.9 130.3L491.1 125.9Z" fill="#00fcff"/>
<path d="M477.7 155.7L486.2 173.8" stroke="#00f6ff" stroke-width="1.6"/><path d="M491.9 185.9L481.7 176.0L490.7 171.7Z" fill="#00f6ff"/>
<path d="M477.7 201.8L486.8 218.2" stroke="#00e6ff" stroke-width="1.6"/><path d="M492.8 229.1L482.7 220.5L490.9 215.9Z" fill="#00e6ff"/>
<path d="M477.7 248.0L488.6 265.3" stroke="#00fdff" stroke-width="1.6"/><path d="M495.8 276.9L484.2 268.1L492.9 262.6Z" fill="#00fdff"/>
<path d="M477.7 294.1L487.2 312.5" stroke="#00ffff" stroke-width="1.6"/><path d="M493.5 324.8L482.6 314.9L491.8 310.1Z" fill="#00ffff"/>
<path d="M477.7 340.2L497.0 364.6" stroke="#00ff7f" stroke-width="1.6"/><path d="M509.9 380.8L490.9 369.4L503.1 359.7Z" fill="#00ff7f"/>
<path d="M477.7 386.3L502.6 412.9" stroke="#00ff3d" stroke-width="1.6"/><path d="M519.2 430.7L495.9 419.2L509.3 406.7Z" fill="#00ff3d"/>
<path d="M477.7 432.4L501.2 459.4" stroke="#00ff45" stroke-width="1.6"/><path d="M516.9 477.4L494.5 465.3L507.9 453.5Z" fill="#00ff45"/>
<path d="M477.7 478.5L500.5 505.9" stroke="#00ff48" stroke-width="1.6"/><path d="M515.7 524.1L493.7 511.6L507.3 500.2Z" fill="#00ff48"/>
<path d="M477.7 524.7L545.3 558.6" stroke="#ff5800" stroke-width="1.6"/><path d="M590.4 581.3L536.8 575.5L553.8 541.7Z" fill="#ff5800"/>
<path d="M477.7 570.8L531.3 598.8" stroke="#ebff00" stroke-width="1.6"/><path d="M567.0 617.4L524.3 612.2L538.3 585.4Z" fill="#ebff00"/>
<path d="M477.7 616.9L542.4 658.3" stroke="#ff4a00" stroke-width="1.6"/><path d="M585.5 685.8L532.1 674.4L552.7 642.1Z" fill="#ff4a00"/>
<path d="M477.7 663.0L530.1 701.1" stroke="#ffde00" stroke-width="1.6"/><path d="M565.1 726.5L520.6 714.2L539.6 688.0Z" fill="#ffde00"/>
<path d="M477.7 709.1L520.1 743.5" stroke="#a3ff00" stroke-width="1.6"/><path d="M548.4 766.4L511.5 754.1L528.7 732.9Z" fill="#a3ff00"/>
<path d="M477.7 755.2L526.5 782.3" stroke="#b1ff00" stroke-width="1.6"/><path d="M559.0 800.3L519.7 794.5L533.3 770.1Z" fill="#b1ff00"/>
<path d="M477.7 801.3L560.9 850.4" stroke="#ff0000" stroke-width="1.6"/><path d="M616.4 883.1L548.7 871.2L573.2 829.6Z" fill="#ff0000"/>
<path d="M477.7 847.5L468.7 821.4" stroke="#00ffaa" stroke-width="1.6"/><path d="M462.7 804.0L475.2 819.1L462.2 823.6Z" fill="#00ffaa"/>
<path d="M477.7 893.6L469.7 879.7" stroke="#00c5ff" stroke-width="1.6"/><path d="M464.4 870.4L473.2 877.7L466.2 881.7Z" fill="#00c5ff"/>
<path d="M477.7 939.7L466.9 933.2" stroke="#009bff" stroke-width="1.6"/><path d="M459.7 928.9L468.5 930.5L465.3 935.9Z" fill="#009bff"/>
<path d="M477.7 985.8L480.1 985.8" stroke="#001eff" stroke-width="1.6"/><path d="M481.7 985.8L480.1 986.4L480.1 985.2Z" fill="#001eff"/>
<path d="M523.8 63.5L529.4 81.6" stroke="#00eaff" stroke-width="1.6"/><path d="M533.2 93.7L524.9 83.0L534.0 80.2Z" fill="#00eaff"/>
<path d="M523.8 109.6L524.5 130.2" stroke="#00fdff" stroke-width="1.6"/><path d="M525.0 143.9L519.4 130.4L529.7 130.0Z" fill="#00fdff"/>
<path d="M523.8 155.7L533.6 174.8" stroke="#00fff6" stroke-width="1.6"/><path d="M540.2 187.5L528.9 177.3L538.4 172.3Z" fill="#00fff6"/>
<path d="M523.8 201.8L532.9 221.7" stroke="#00fff1" stroke-width="1.6"/><path d="M539.0 234.9L528.0 224.0L537.9 219.4Z" fill="#00fff1"/>
<path d="M523.8 248.0L534.3 269.5" stroke="#00ffd6" stroke-width="1.6"/><path d="M541.4 283.9L528.9 272.2L539.7 266.9Z" fill="#00ffd6"/>
<path d="M523.8 294.1L534.6 316.4" stroke="#00ffcc" stroke-width="1.6"/><path d="M541.8 331.3L529.0 319.1L540.2 313.7Z" fill="#00ffcc"/>
<path d="M523.8 340.2L537.8 367.6" stroke="#00ff82" stroke-width="1.6"/><path d="M547.2 385.9L531.0 371.1L544.7 364.1Z" fill="#00ff82"/>
<path d="M523.8 386.3L534.6 412.9" stroke="#00ff9c" stroke-width="1.6"/><path d="M541.8 430.7L528.0 415.6L541.3 410.2Z" fill="#00ff9c"/>
<path d="M523.8 432.4L539.9 460.8" stroke="#00ff6c" stroke-width="1.6"/><path d="M550.7 479.7L532.8 464.8L547.0 456.8Z" fill="#00ff6c"/>
<path d="M523.8 478.5L540.6 505.2" stroke="#00ff7a" stroke-width="1.6"/><path d="M551.9 522.9L534.0 509.4L547.3 500.9Z" fill="#00ff7a"/>
<path d="M523.8 524.7L558.9 559.3" stroke="#61ff00" stroke-width="1.6"/><path d="M582.2 582.4L550.2 568.1L567.5 550.6Z" fill="#61ff00"/>
<path d="M523.8 570.8L576.4 610.7" stroke="#ffcf00" stroke-width="1.6"/><path d="M611.4 637.3L566.4 623.8L586.3 597.5Z" fill="#ffcf00"/>
<path d="M523.8 616.9L572.1 658.3" stroke="#ffed00" stroke-width="1.6"/><path d="M604.3 685.9L561.7 670.3L582.4 646.2Z" fill="#ffed00"/>
<path d="M523.8 663.0L579.0 709.3" stroke="#ff8500" stroke-width="1.6"/><path d="M615.7 740.1L567.4 723.1L590.5 695.5Z" fill="#ff8500"/>
<path d="M523.8 709.1L585.9 754.3" stroke="#ff4a00" stroke-width="1.6"/><path d="M627.4 784.3L574.6 769.8L597.2 738.7Z" fill="#ff4a00"/>
<path d="M523.8 755.2L601.7 803.9" stroke="#ff0000" stroke-width="1.6"/><path d="M653.6 836.3L589.5 823.3L613.8 784.4Z" fill="#ff0000"/>
<path d="M523.8 801.3L607.4 859.8" stroke="#ff0000" stroke-width="1.6"/><path d="M663.1 898.8L592.7 880.7L622.0 839.0Z" fill="#ff0000"/>
<path d="M523.8 847.5L614.7 900.0" stroke="#ff0000" stroke-width="1.6"/><path d="M675.4 935.0L601.6 922.7L627.9 877.2Z" fill="#ff0000"/>
<path d="M523.8 893.6L510.8 886.1" stroke="#00b9ff" stroke-width="1.6"/><path d="M502.1 881.1L512.7 882.8L508.9 889.3Z" fill="#00b9ff"/>
<path d="M523.8 939.7L514.8 938.9" stroke="#006fff" stroke-width="1.6"/><path d="M508.9 938.4L515.0 936.7L514.6 941.1Z" fill="#006fff"/>
<path d="M523.8 985.8L525.0 987.9" stroke="#001eff" stroke-width="1.6"/><path d="M525.8 989.3L524.5 988.2L525.5 987.6Z" fill="#001eff"/>
<path d="M569.9 63.5L574.5 83.0" stroke="#00f7ff" stroke-width="1.6"/><path d="M577.5 96.0L569.6 84.2L579.4 81.9Z" fill="#00f7ff"/>
<path d="M569.9 109.6L570.6 130.9" stroke="#00fff8" stroke-width="1.6"/><path d="M571.0 145.0L565.3 131.0L575.9 130.7Z" fill="#00fff8"/>
<path d="M569.9 155.7L578.0 178.0" stroke="#00ffda" stroke-width="1.6"/><path d="M583.4 192.9L572.4 180.1L583.6 176.0Z" fill="#00ffda"/>
<path d="M569.9 201.8L573.8 228.7" stroke="#00ffb0" stroke-width="1.6"/><path d="M576.4 246.6L567.1 229.7L580.5 227.7Z" fill="#00ffb0"/>
<path d="M569.9 248.0L571.0 275.8" stroke="#00ffa6" stroke-width="1.6"/><path d="M571.7 294.4L564.0 276.1L578.0 275.6Z" fill="#00ffa6"/>
<path d="M569.9 294.1L569.6 323.0" stroke="#00ff9a" stroke-width="1.6"/><path d="M569.4 342.3L562.4 322.9L576.8 323.1Z" fill="#00ff9a"/>
<path d="M569.9 340.2L566.1 371.8" stroke="#00ff75" stroke-width="1.6"/><path d="M563.5 392.9L558.2 370.9L574.0 372.8Z" fill="#00ff75"/>
<path d="M569.9 386.3L565.4 412.9" stroke="#00ffb1" stroke-width="1.6"/><path d="M562.4 430.7L558.7 411.8L572.0 414.1Z" fill="#00ffb1"/>
<path d="M569.9 432.4L561.2 460.8" stroke="#00ff90" stroke-width="1.6"/><path d="M555.4 479.7L554.1 458.6L568.3 463.0Z" fill="#00ff90"/>
<path d="M569.9 478.5L596.2 507.3" stroke="#00ff1e" stroke-width="1.6"/><path d="M613.7 526.4L589.0 513.8L603.4 500.7Z" fill="#00ff1e"/>
<path d="M569.9 524.7L588.5 557.9" stroke="#00ff29" stroke-width="1.6"/><path d="M600.9 580.1L580.2 562.6L596.8 553.3Z" fill="#00ff29"/>
<path d="M569.9 570.8L590.6 625.4" stroke="#d1ff00" stroke-width="1.6"/><path d="M604.4 661.8L576.9 630.6L604.2 620.2Z" fill="#d1ff00"/>
<path d="M569.9 616.9L609.3 691.0" stroke="#ff0000" stroke-width="1.6"/><path d="M635.6 740.5L590.8 700.9L627.9 681.2Z" fill="#ff0000"/>
<path d="M569.9 663.0L643.6 714.6" stroke="#ff0000" stroke-width="1.6"/><path d="M692.8 749.0L630.7 733.0L656.5 696.2Z" fill="#ff0000"/>
<path d="M569.9 709.1L652.1 745.7" stroke="#ff0000" stroke-width="1.6"/><path d="M706.9 770.1L643.0 766.3L661.3 725.2Z" fill="#ff0000"/>
<path d="M569.9 755.2L658.1 804.1" stroke="#ff0000" stroke-width="1.6"/><path d="M716.8 836.7L645.8 826.1L670.3 782.1Z" fill="#ff0000"/>
<path d="M569.9 801.3L658.0 858.5" stroke="#ff0000" stroke-width="1.6"/><path d="M716.7 896.7L643.7 880.5L672.3 836.5Z" fill="#ff0000"/>
<path d="M569.9 847.5L653.5 906.0" stroke="#ff0000" stroke-width="1.6"/><path d="M709.2 945.0L638.8 926.8L668.1 885.1Z" fill="#ff0000"/>
<path d="M569.9 893.6L593.8 947.3" stroke="#d6ff00" stroke-width="1.6"/><path d="M609.8 983.1L580.4 953.3L607.2 941.3Z" fill="#d6ff00"/>
<path d="M569.9 939.7L569.9 943.3" stroke="#002cff" stroke-width="1.6"/><path d="M569.9 945.7L569.0 943.3L570.8 943.3Z" fill="#002cff"/>
<path d="M569.9 985.8L573.9 988.5" stroke="#003bff" stroke-width="1.6"/><path d="M576.5 990.3L573.2 989.5L574.6 987.5Z" fill="#003bff"/>
<path d="M616.0 63.5L619.5 82.3" stroke="#00ecff" stroke-width="1.6"/><path d="M621.9 94.9L614.8 83.2L624.2 81.4Z" fill="#00ecff"/>
<path d="M616.0 109.6L623.0 133.7" stroke="#00ffc9" stroke-width="1.6"/><path d="M627.7 149.7L617.0 135.4L629.1 131.9Z" fill="#00ffc9"/>
<path d="M616.0 155.7L618.8 178.7" stroke="#00ffe1" stroke-width="1.6"/><path d="M620.7 194.1L613.1 179.4L624.6 178.0Z" fill="#00ffe1"/>
<path d="M616.0 201.8L618.1 228.7" stroke="#00ffb2" stroke-width="1.6"/><path d="M619.6 246.6L611.4 229.2L624.9 228.2Z" fill="#00ffb2"/>
<path d="M616.0 248.0L616.7 275.8" stroke="#00ffa6" stroke-width="1.6"/><path d="M617.2 294.4L609.8 276.0L623.7 275.7Z" fill="#00ffa6"/>
<path d="M616.0 294.1L615.3 323.7" stroke="#00ff91" stroke-width="1.6"/><path d="M614.9 343.5L607.9 323.5L622.7 323.9Z" fill="#00ff91"/>
<path d="M616.0 340.2L610.4 374.6" stroke="#00ff50" stroke-width="1.6"/><path d="M606.7 397.6L601.8 373.3L619.0 376.0Z" fill="#00ff50"/>
<path d="M616.0 386.3L609.7 408.0" stroke="#00ffe7" stroke-width="1.6"/><path d="M605.6 422.5L604.3 406.5L615.2 409.6Z" fill="#00ffe7"/>
<path d="M616.0 432.4L616.0 459.4" stroke="#00ffb2" stroke-width="1.6"/><path d="M616.1 477.4L609.3 459.4L622.8 459.4Z" fill="#00ffb2"/>
<path d="M616.0 478.5L616.7 503.1" stroke="#00ffd0" stroke-width="1.6"/><path d="M617.2 519.4L610.6 503.2L622.9 502.9Z" fill="#00ffd0"/>
<path d="M616.0 524.7L631.4 555.8" stroke="#00ff52" stroke-width="1.6"/><path d="M641.7 576.6L623.7 559.7L639.2 552.0Z" fill="#00ff52"/>
<path d="M616.0 570.8L628.6 612.1" stroke="#16ff00" stroke-width="1.6"/><path d="M637.1 639.6L618.3 615.2L639.0 608.9Z" fill="#16ff00"/>
<path d="M616.0 616.9L639.0 680.0" stroke="#ffc000" stroke-width="1.6"/><path d="M654.3 722.1L623.2 685.8L654.8 674.3Z" fill="#ffc000"/>
<path d="M616.0 663.0L629.7 727.6" stroke="#ffcf00" stroke-width="1.6"/><path d="M638.9 770.6L613.6 731.0L645.9 724.1Z" fill="#ffcf00"/>
<path d="M616.0 709.1L711.7 753.7" stroke="#ff0000" stroke-width="1.6"/><path d="M775.5 783.5L700.5 777.7L722.9 729.8Z" fill="#ff0000"/>
<path d="M616.0 755.2L721.3 795.6" stroke="#ff0000" stroke-width="1.6"/><path d="M791.5 822.6L711.2 822.0L731.4 769.3Z" fill="#ff0000"/>
<path d="M616.0 801.3L706.4 864.7" stroke="#ff0000" stroke-width="1.6"/><path d="M766.7 906.9L690.6 887.3L722.3 842.1Z" fill="#ff0000"/>
<path d="M616.0 847.5L660.7 900.8" stroke="#ffa300" stroke-width="1.6"/><path d="M690.6 936.3L647.4 912.0L674.1 889.6Z" fill="#ffa300"/>
<path d="M616.0 893.6L652.1 941.5" stroke="#e5ff00" stroke-width="1.6"/><path d="M676.2 973.4L640.1 950.5L664.1 932.5Z" fill="#e5ff00"/>
<path d="M616.0 939.7L629.5 946.7" stroke="#00bcff" stroke-width="1.6"/><path d="M638.5 951.4L627.8 950.1L631.3 943.3Z" fill="#00bcff"/>
<path d="M616.0 985.8L625.1 992.7" stroke="#008cff" stroke-width="1.6"/><path d="M631.2 997.2L623.4 994.9L626.8 990.4Z" fill="#008cff"/>
<path d="M662.1 63.5L664.6 78.1" stroke="#00b7ff" stroke-width="1.6"/><path d="M666.3 87.9L660.9 78.7L668.2 77.5Z" fill="#00b7ff"/>
<path d="M662.1 109.6L668.1 126.0" stroke="#00d7ff" stroke-width="1.6"/><path d="M672.1 136.9L664.0 127.5L672.2 124.5Z" fill="#00d7ff"/>
<path d="M662.1 155.7L664.6 171.0" stroke="#00bfff" stroke-width="1.6"/><path d="M666.3 181.2L660.8 171.6L668.4 170.4Z" fill="#00bfff"/>
<path d="M662.1 201.8L663.9 218.2" stroke="#00caff" stroke-width="1.6"/><path d="M665.1 229.1L659.8 218.6L668.0 217.7Z" fill="#00caff"/>
<path d="M662.1 248.0L661.1 266.7" stroke="#00e8ff" stroke-width="1.6"/><path d="M660.4 279.3L656.4 266.5L665.8 267.0Z" fill="#00e8ff"/>
<path d="M662.1 294.1L655.5 309.7" stroke="#00d1ff" stroke-width="1.6"/><path d="M651.1 320.1L651.6 308.0L659.4 311.4Z" fill="#00d1ff"/>
<path d="M662.1 340.2L653.4 359.9" stroke="#00fff4" stroke-width="1.6"/><path d="M647.6 373.1L648.4 357.8L658.3 362.1Z" fill="#00fff4"/>
<path d="M662.1 386.3L656.9 413.6" stroke="#00ffa7" stroke-width="1.6"/><path d="M653.4 431.9L650.1 412.3L663.7 414.9Z" fill="#00ffa7"/>
<path d="M662.1 432.4L658.3 460.1" stroke="#00ffa6" stroke-width="1.6"/><path d="M655.7 478.5L651.4 459.1L665.2 461.0Z" fill="#00ffa6"/>
<path d="M662.1 478.5L658.3 505.9" stroke="#00ffaa" stroke-width="1.6"/><path d="M655.7 524.1L651.5 504.9L665.1 506.8Z" fill="#00ffaa"/>
<path d="M662.1 524.7L663.9 555.1" stroke="#00ff86" stroke-width="1.6"/><path d="M665.1 575.4L656.3 555.6L671.5 554.7Z" fill="#00ff86"/>
<path d="M662.1 570.8L662.1 603.0" stroke="#00ff71" stroke-width="1.6"/><path d="M662.0 624.4L654.0 603.0L670.1 603.0Z" fill="#00ff71"/>
<path d="M662.1 616.9L675.3 666.1" stroke="#76ff00" stroke-width="1.6"/><path d="M684.1 699.0L663.0 669.4L687.6 662.8Z" fill="#76ff00"/>
<path d="M662.1 663.0L685.4 749.9" stroke="#ff0000" stroke-width="1.6"/><path d="M700.9 807.9L663.7 755.8L707.1 744.1Z" fill="#ff0000"/>
<path d="M662.1 709.1L756.9 759.5" stroke="#ff0000" stroke-width="1.6"/><path d="M820.1 793.1L744.3 783.2L769.5 735.8Z" fill="#ff0000"/>
<path d="M662.1 755.2L764.5 791.5" stroke="#ff0000" stroke-width="1.6"/><path d="M832.7 815.6L755.4 817.1L773.5 765.9Z" fill="#ff0000"/>
<path d="M662.1 801.3L754.5 844.4" stroke="#ff0000" stroke-width="1.6"/><path d="M816.2 873.2L743.8 867.6L765.3 821.3Z" fill="#ff0000"/>
<path d="M662.1 847.5L707.9 898.3" stroke="#ffb100" stroke-width="1.6"/><path d="M738.4 932.2L695.2 909.7L720.6 886.8Z" fill="#ffb100"/>
<path d="M662.1 893.6L698.2 933.7" stroke="#9bff00" stroke-width="1.6"/><path d="M722.3 960.5L688.2 942.7L708.3 924.7Z" fill="#9bff00"/>
<path d="M662.1 939.7L679.1 932.1" stroke="#00e5ff" stroke-width="1.6"/><path d="M690.4 927.1L681.0 936.4L677.2 927.9Z" fill="#00e5ff"/>
<path d="M662.1 985.8L679.0 974.6" stroke="#00f9ff" stroke-width="1.6"/><path d="M690.2 967.2L681.8 978.9L676.2 970.4Z" fill="#00f9ff"/>
<path d="M708.2 63.5L709.2 72.5" stroke="#0070ff" stroke-width="1.6"/><path d="M709.9 78.5L707.0 72.8L711.5 72.3Z" fill="#0070ff"/>
<path d="M708.2 109.6L709.6 122.5" stroke="#009fff" stroke-width="1.6"/><path d="M710.6 131.0L706.4 122.8L712.9 122.1Z" fill="#009fff"/>
<path d="M708.2 155.7L708.7 170.3" stroke="#00b4ff" stroke-width="1.6"/><path d="M709.0 180.1L705.0 170.4L712.3 170.2Z" fill="#00b4ff"/>
<path d="M708.2 201.8L707.5 216.1" stroke="#00b0ff" stroke-width="1.6"/><path d="M707.1 225.6L704.0 215.9L711.1 216.2Z" fill="#00b0ff"/>
<path d="M708.2 248.0L699.1 257.6" stroke="#00a3ff" stroke-width="1.6"/><path d="M693.1 264.1L696.7 255.4L701.6 259.9Z" fill="#00a3ff"/>
<path d="M708.2 294.1L697.0 302.0" stroke="#00a9ff" stroke-width="1.6"/><path d="M689.6 307.3L695.1 299.2L699.0 304.8Z" fill="#00a9ff"/>
<path d="M708.2 340.2L697.7 348.5" stroke="#00a4ff" stroke-width="1.6"/><path d="M690.8 354.0L695.7 345.8L699.8 351.1Z" fill="#00a4ff"/>
<path d="M708.2 386.3L701.2 411.5" stroke="#00ffbc" stroke-width="1.6"/><path d="M696.6 428.4L694.9 409.8L707.5 413.3Z" fill="#00ffbc"/>
<path d="M708.2 432.4L703.3 459.4" stroke="#00ffac" stroke-width="1.6"/><path d="M700.1 477.4L696.6 458.2L710.1 460.6Z" fill="#00ffac"/>
<path d="M708.2 478.5L704.0 505.9" stroke="#00ffaa" stroke-width="1.6"/><path d="M701.3 524.1L697.2 504.8L710.9 506.9Z" fill="#00ffaa"/>
<path d="M708.2 524.7L705.9 549.5" stroke="#00ffca" stroke-width="1.6"/><path d="M704.3 566.1L699.6 548.9L712.1 550.1Z" fill="#00ffca"/>
<path d="M708.2 570.8L714.5 602.3" stroke="#00ff72" stroke-width="1.6"/><path d="M718.8 623.3L706.7 603.9L722.4 600.7Z" fill="#00ff72"/>
<path d="M708.2 616.9L723.6 652.2" stroke="#00ff23" stroke-width="1.6"/><path d="M733.9 675.8L714.8 656.1L732.5 648.4Z" fill="#00ff23"/>
<path d="M708.2 663.0L724.2 681.7" stroke="#00ffcf" stroke-width="1.6"/><path d="M734.8 694.2L719.5 685.7L728.9 677.7Z" fill="#00ffcf"/>
<path d="M708.2 709.1L769.1 741.5" stroke="#ffaa00" stroke-width="1.6"/><path d="M809.7 763.1L761.0 756.7L777.2 726.3Z" fill="#ffaa00"/>
<path d="M708.2 755.2L806.7 781.6" stroke="#ff0000" stroke-width="1.6"/><path d="M872.4 799.2L800.1 806.3L813.3 757.0Z" fill="#ff0000"/>
<path d="M708.2 801.3L790.3 848.7" stroke="#ff0000" stroke-width="1.6"/><path d="M845.0 880.3L778.4 869.3L802.1 828.2Z" fill="#ff0000"/>
<path d="M708.2 847.5L763.8 865.5" stroke="#d3ff00" stroke-width="1.6"/><path d="M800.9 877.6L759.3 879.4L768.4 851.6Z" fill="#d3ff00"/>
<path d="M708.2 893.6L724.7 892.7" stroke="#00cbff" stroke-width="1.6"/><path d="M735.7 892.1L724.9 896.8L724.5 888.6Z" fill="#00cbff"/>
<path d="M708.2 939.7L725.6 933.0" stroke="#00e5ff" stroke-width="1.6"/><path d="M737.1 928.6L727.2 937.4L723.9 928.7Z" fill="#00e5ff"/>
<path d="M708.2 985.8L726.1 973.7" stroke="#00fff4" stroke-width="1.6"/><path d="M738.0 965.7L729.1 978.2L723.1 969.2Z" fill="#00fff4"/>
<path d="M754.3 63.5L754.7 61.3" stroke="#001bff" stroke-width="1.6"/><path d="M755.0 59.8L755.2 61.4L754.1 61.2Z" fill="#001bff"/>
<path d="M754.3 109.6L753.7 120.8" stroke="#008aff" stroke-width="1.6"/><path d="M753.3 128.2L750.9 120.6L756.5 120.9Z" fill="#008aff"/>
<path d="M754.3 155.7L747.7 164.7" stroke="#0089ff" stroke-width="1.6"/><path d="M743.3 170.7L745.4 163.1L749.9 166.4Z" fill="#0089ff"/>
<path d="M754.3 201.8L748.4 201.4" stroke="#0049ff" stroke-width="1.6"/><path d="M744.4 201.1L748.5 199.9L748.3 202.9Z" fill="#0049ff"/>
<path d="M754.3 248.0L744.9 246.7" stroke="#0075ff" stroke-width="1.6"/><path d="M738.6 245.9L745.2 244.4L744.6 249.1Z" fill="#0075ff"/>
<path d="M754.3 294.1L742.1 293.2" stroke="#0097ff" stroke-width="1.6"/><path d="M733.9 292.6L742.3 290.1L741.9 296.2Z" fill="#0097ff"/>
<path d="M754.3 340.2L743.5 341.4" stroke="#0086ff" stroke-width="1.6"/><path d="M736.3 342.3L743.2 338.7L743.8 344.2Z" fill="#0086ff"/>
<path d="M754.3 386.3L742.8 396.8" stroke="#00c0ff" stroke-width="1.6"/><path d="M735.1 403.8L740.2 394.0L745.4 399.7Z" fill="#00c0ff"/>
<path d="M754.3 432.4L740.0 440.5" stroke="#00caff" stroke-width="1.6"/><path d="M730.4 445.9L738.0 436.9L742.0 444.1Z" fill="#00caff"/>
<path d="M754.3 478.5L744.9 496.7" stroke="#00fdff" stroke-width="1.6"/><path d="M738.6 508.9L740.3 494.4L749.4 499.1Z" fill="#00fdff"/>
<path d="M754.3 524.7L749.1 541.1" stroke="#00d5ff" stroke-width="1.6"/><path d="M745.6 552.1L745.0 539.8L753.2 542.4Z" fill="#00d5ff"/>
<path d="M754.3 570.8L758.2 587.6" stroke="#00d4ff" stroke-width="1.6"/><path d="M760.8 598.8L754.0 588.5L762.4 586.6Z" fill="#00d4ff"/>
<path d="M754.3 616.9L761.0 643.1" stroke="#00ffb0" stroke-width="1.6"/><path d="M765.5 660.6L754.4 644.8L767.6 641.4Z" fill="#00ffb0"/>
<path d="M754.3 663.0L765.6 686.2" stroke="#00ffc0" stroke-width="1.6"/><path d="M773.1 701.6L759.8 689.0L771.4 683.4Z" fill="#00ffc0"/>
<path d="M754.3 709.1L823.9 725.2" stroke="#ff8c00" stroke-width="1.6"/><path d="M870.3 735.9L819.9 742.6L827.9 707.8Z" fill="#ff8c00"/>
<path d="M754.3 755.2L859.0 747.9" stroke="#ff0000" stroke-width="1.6"/><path d="M928.9 743.0L860.9 774.1L857.2 721.7Z" fill="#ff0000"/>
<path d="M754.3 801.3L862.6 793.8" stroke="#ff0000" stroke-width="1.6"/><path d="M934.9 788.7L864.5 820.8L860.7 766.7Z" fill="#ff0000"/>
<path d="M754.3 847.5L808.8 836.9" stroke="#aeff00" stroke-width="1.6"/><path d="M845.2 829.8L811.5 850.5L806.2 823.2Z" fill="#aeff00"/>
<path d="M754.3 893.6L766.9 883.4" stroke="#00c8ff" stroke-width="1.6"/><path d="M775.3 876.6L769.4 886.5L764.3 880.2Z" fill="#00c8ff"/>
<path d="M754.3 939.7L765.5 933.0" stroke="#00a0ff" stroke-width="1.6"/><path d="M772.9 928.5L767.1 935.8L763.8 930.2Z" fill="#00a0ff"/>
<path d="M754.3 985.8L764.5 985.1" stroke="#007eff" stroke-width="1.6"/><path d="M771.3 984.6L764.7 987.6L764.3 982.5Z" fill="#007eff"/>
<path d="M800.4 63.5L801.4 59.2" stroke="#0036ff" stroke-width="1.6"/><path d="M802.1 56.3L802.5 59.5L800.3 58.9Z" fill="#0036ff"/>
<path d="M800.4 155.7L800.4 154.2" stroke="#0013ff" stroke-width="1.6"/><path d="M800.5 153.2L800.8 154.2L800.1 154.2Z" fill="#0013ff"/>
<path d="M800.4 201.8L800.9 200.0" stroke="#0018ff" stroke-width="1.6"/><path d="M801.2 198.7L801.3 200.1L800.4 199.9Z" fill="#0018ff"/>
<path d="M800.4 248.0L800.4 246.4" stroke="#0013ff" stroke-width="1.6"/><path d="M800.5 245.4L800.8 246.4L800.1 246.4Z" fill="#0013ff"/>
<path d="M800.4 294.1L795.5 291.5" stroke="#0044ff" stroke-width="1.6"/><path d="M792.3 289.8L796.2 290.3L794.9 292.7Z" fill="#0044ff"/>
<path d="M800.4 340.2L793.7 339.1" stroke="#0053ff" stroke-width="1.6"/><path d="M789.3 338.3L794.0 337.4L793.4 340.7Z" fill="#0053ff"/>
<path d="M800.4 386.3L782.2 387.0" stroke="#00e0ff" stroke-width="1.6"/><path d="M770.1 387.5L782.1 382.5L782.4 391.6Z" fill="#00e0ff"/>
<path d="M800.4 432.4L785.0 446.8" stroke="#00fffb" stroke-width="1.6"/><path d="M774.8 456.4L781.4 442.9L788.6 450.6Z" fill="#00fffb"/>
<path d="M800.4 478.5L796.2 472.9" stroke="#0056ff" stroke-width="1.6"/><path d="M793.5 469.2L797.6 471.9L794.8 474.0Z" fill="#0056ff"/>
<path d="M800.4 524.7L796.9 515.9" stroke="#0074ff" stroke-width="1.6"/><path d="M794.6 510.1L799.1 515.0L794.8 516.8Z" fill="#0074ff"/>
<path d="M800.4 570.8L797.6 568.0" stroke="#0031ff" stroke-width="1.6"/><path d="M795.8 566.1L798.3 567.3L796.9 568.6Z" fill="#0031ff"/>
<path d="M800.4 616.9L801.6 610.2" stroke="#0053ff" stroke-width="1.6"/><path d="M802.3 605.8L803.2 610.5L799.9 609.9Z" fill="#0053ff"/>
<path d="M800.4 663.0L796.8 663.0" stroke="#002cff" stroke-width="1.6"/><path d="M794.4 663.0L796.8 662.1L796.8 663.9Z" fill="#002cff"/>
<path d="M800.4 709.1L819.6 709.1" stroke="#00edff" stroke-width="1.6"/><path d="M832.4 709.1L819.6 713.9L819.6 704.3Z" fill="#00edff"/>
<path d="M800.4 755.2L905.0 746.1" stroke="#ff0000" stroke-width="1.6"/><path d="M974.7 740.0L907.3 772.2L902.7 719.9Z" fill="#ff0000"/>
<path d="M800.4 801.3L912.9 793.5" stroke="#ff0000" stroke-width="1.6"/><path d="M987.9 788.2L914.9 821.6L911.0 765.3Z" fill="#ff0000"/>
<path d="M800.4 847.5L816.0 838.5" stroke="#00deff" stroke-width="1.6"/><path d="M826.4 832.5L818.2 842.4L813.7 834.6Z" fill="#00deff"/>
<path d="M800.4 893.6L815.4 896.5" stroke="#00bcff" stroke-width="1.6"/><path d="M825.3 898.4L814.6 900.2L816.1 892.7Z" fill="#00bcff"/>
<path d="M800.4 939.7L809.7 940.2" stroke="#0073ff" stroke-width="1.6"/><path d="M815.9 940.5L809.6 942.5L809.8 937.8Z" fill="#0073ff"/>
<path d="M800.4 985.8L808.7 997.1" stroke="#00acff" stroke-width="1.6"/><path d="M814.2 1004.6L805.9 999.1L811.5 995.0Z" fill="#00acff"/>
<path d="M846.5 63.5L846.9 57.5" stroke="#004aff" stroke-width="1.6"/><path d="M847.2 53.5L848.4 57.6L845.4 57.4Z" fill="#004aff"/>
<path d="M846.5 155.7L845.5 154.2" stroke="#0016ff" stroke-width="1.6"/><path d="M844.8 153.2L845.9 154.0L845.1 154.5Z" fill="#0016ff"/>
<path d="M846.5 201.8L845.8 200.3" stroke="#0016ff" stroke-width="1.6"/><path d="M845.3 199.2L846.2 200.1L845.4 200.4Z" fill="#0016ff"/>
<path d="M846.5 248.0L845.2 243.4" stroke="#003bff" stroke-width="1.6"/><path d="M844.4 240.3L846.4 243.0L844.1 243.7Z" fill="#003bff"/>
<path d="M846.5 294.1L840.2 285.9" stroke="#007fff" stroke-width="1.6"/><path d="M836.0 280.4L842.2 284.3L838.1 287.5Z" fill="#007fff"/>
<path d="M846.5 340.2L839.6 331.6" stroke="#0087ff" stroke-width="1.6"/><path d="M835.0 325.9L841.7 329.9L837.5 333.4Z" fill="#0087ff"/>
<path d="M846.5 386.3L835.0 383.2" stroke="#0093ff" stroke-width="1.6"/><path d="M827.3 381.2L835.8 380.4L834.2 386.1Z" fill="#0093ff"/>
<path d="M846.5 432.4L850.4 427.2" stroke="#0050ff" stroke-width="1.6"/><path d="M853.0 423.7L851.7 428.2L849.1 426.2Z" fill="#0050ff"/>
<path d="M846.5 478.5L848.0 469.7" stroke="#006eff" stroke-width="1.6"/><path d="M849.0 463.8L850.2 470.1L845.8 469.3Z" fill="#006eff"/>
<path d="M846.5 524.7L846.9 521.8" stroke="#0024ff" stroke-width="1.6"/><path d="M847.2 519.9L847.6 521.9L846.2 521.7Z" fill="#0024ff"/>
<path d="M846.5 570.8L846.9 565.2" stroke="#0045ff" stroke-width="1.6"/><path d="M847.2 561.4L848.3 565.3L845.5 565.1Z" fill="#0045ff"/>
<path d="M846.5 616.9L853.2 609.5" stroke="#007bff" stroke-width="1.6"/><path d="M857.7 604.6L855.0 611.2L851.4 607.8Z" fill="#007bff"/>
<path d="M846.5 663.0L860.7 660.5" stroke="#00b1ff" stroke-width="1.6"/><path d="M870.1 658.8L861.3 664.0L860.1 656.9Z" fill="#00b1ff"/>
<path d="M846.5 709.1L864.2 712.5" stroke="#00deff" stroke-width="1.6"/><path d="M875.9 714.8L863.3 717.0L865.0 708.1Z" fill="#00deff"/>
<path d="M846.5 755.2L881.3 764.5" stroke="#00ff43" stroke-width="1.6"/><path d="M904.5 770.8L878.9 773.2L883.6 755.8Z" fill="#00ff43"/>
<path d="M846.5 801.3L889.9 783.8" stroke="#43ff00" stroke-width="1.6"/><path d="M918.8 772.1L894.3 794.7L885.5 773.0Z" fill="#43ff00"/>
<path d="M846.5 847.5L832.2 839.8" stroke="#00c8ff" stroke-width="1.6"/><path d="M822.7 834.8L834.1 836.3L830.3 843.4Z" fill="#00c8ff"/>
<path d="M846.5 893.6L860.4 897.3" stroke="#00b1ff" stroke-width="1.6"/><path d="M869.7 899.8L859.5 900.8L861.3 893.8Z" fill="#00b1ff"/>
<path d="M846.5 939.7L856.1 944.6" stroke="#0085ff" stroke-width="1.6"/><path d="M862.5 947.9L854.9 947.0L857.3 942.2Z" fill="#0085ff"/>
<path d="M846.5 985.8L860.3 981.6" stroke="#00b1ff" stroke-width="1.6"/><path d="M869.5 978.8L861.3 985.0L859.2 978.1Z" fill="#00b1ff"/>
<path d="M892.6 63.5L890.9 56.4" stroke="#005aff" stroke-width="1.6"/><path d="M889.8 51.7L892.7 56.0L889.2 56.8Z" fill="#005aff"/>
<path d="M892.6 109.6L892.3 105.7" stroke="#0031ff" stroke-width="1.6"/><path d="M892.2 103.0L893.3 105.6L891.4 105.7Z" fill="#0031ff"/>
<path d="M892.6 155.7L891.6 153.5" stroke="#001eff" stroke-width="1.6"/><path d="M891.0 152.0L892.2 153.3L891.1 153.8Z" fill="#001eff"/>
<path d="M892.6 201.8L889.5 199.3" stroke="#0031ff" stroke-width="1.6"/><path d="M887.5 197.6L890.2 198.5L888.9 200.0Z" fill="#0031ff"/>
<path d="M892.6 248.0L883.5 240.8" stroke="#008eff" stroke-width="1.6"/><path d="M877.5 236.1L885.3 238.6L881.7 243.1Z" fill="#008eff"/>
<path d="M892.6 294.1L884.4 286.6" stroke="#0089ff" stroke-width="1.6"/><path d="M878.9 281.6L886.2 284.5L882.5 288.6Z" fill="#0089ff"/>
<path d="M892.6 340.2L884.4 331.6" stroke="#0092ff" stroke-width="1.6"/><path d="M878.9 325.9L886.5 329.6L882.2 333.7Z" fill="#0092ff"/>
<path d="M892.6 386.3L883.2 388.4" stroke="#0076ff" stroke-width="1.6"/><path d="M877.0 389.8L882.7 386.1L883.8 390.8Z" fill="#0076ff"/>
<path d="M892.6 432.4L884.4 432.8" stroke="#0066ff" stroke-width="1.6"/><path d="M878.9 433.0L884.3 430.7L884.5 434.8Z" fill="#0066ff"/>
<path d="M892.6 478.5L900.3 479.2" stroke="#0060ff" stroke-width="1.6"/><path d="M905.5 479.7L900.2 481.2L900.5 477.3Z" fill="#0060ff"/>
<path d="M892.6 524.7L893.7 520.8" stroke="#0032ff" stroke-width="1.6"/><path d="M894.5 518.2L894.7 521.1L892.8 520.5Z" fill="#0032ff"/>
<path d="M892.6 570.8L895.8 562.6" stroke="#006cff" stroke-width="1.6"/><path d="M898.0 557.2L897.9 563.4L893.8 561.8Z" fill="#006cff"/>
<path d="M892.6 616.9L900.3 610.2" stroke="#007eff" stroke-width="1.6"/><path d="M905.5 605.8L902.0 612.1L898.7 608.3Z" fill="#007eff"/>
<path d="M892.6 663.0L908.7 661.1" stroke="#00c8ff" stroke-width="1.6"/><path d="M919.5 659.9L909.2 665.2L908.3 657.1Z" fill="#00c8ff"/>
<path d="M892.6 709.1L921.8 709.9" stroke="#00ff97" stroke-width="1.6"/><path d="M941.2 710.5L921.5 717.2L922.0 702.7Z" fill="#00ff97"/>
<path d="M892.6 755.2L943.5 763.4" stroke="#7dff00" stroke-width="1.6"/><path d="M977.4 768.9L941.4 776.1L945.5 750.7Z" fill="#7dff00"/>
<path d="M892.6 801.3L919.0 781.9" stroke="#00ff6a" stroke-width="1.6"/><path d="M936.5 768.9L923.8 788.4L914.1 775.3Z" fill="#00ff6a"/>
<path d="M892.6 847.5L902.1 837.4" stroke="#00abff" stroke-width="1.6"/><path d="M908.5 830.7L904.7 839.8L899.6 835.0Z" fill="#00abff"/>
<path d="M892.6 893.6L895.8 893.7" stroke="#0028ff" stroke-width="1.6"/><path d="M898.0 893.7L895.8 894.5L895.9 892.9Z" fill="#0028ff"/>
<path d="M892.6 939.7L902.1 930.1" stroke="#00a7ff" stroke-width="1.6"/><path d="M908.5 923.6L904.6 932.4L899.7 927.7Z" fill="#00a7ff"/>
<path d="M892.6 985.8L907.1 976.5" stroke="#00d4ff" stroke-width="1.6"/><path d="M916.7 970.3L909.4 980.1L904.7 972.9Z" fill="#00d4ff"/>
<path d="M938.7 109.6L940.9 112.4" stroke="#002cff" stroke-width="1.6"/><path d="M942.4 114.2L940.2 112.9L941.6 111.8Z" fill="#002cff"/>
<path d="M938.7 155.7L941.2 159.1" stroke="#0034ff" stroke-width="1.6"/><path d="M942.8 161.4L940.3 159.7L942.0 158.5Z" fill="#0034ff"/>
<path d="M938.7 201.8L939.5 204.9" stroke="#0027ff" stroke-width="1.6"/><path d="M940.0 206.9L938.7 205.1L940.3 204.7Z" fill="#0027ff"/>
<path d="M938.7 248.0L931.1 248.3" stroke="#005eff" stroke-width="1.6"/><path d="M926.0 248.5L931.0 246.4L931.2 250.2Z" fill="#005eff"/>
<path d="M938.7 294.1L930.4 292.9" stroke="#0067ff" stroke-width="1.6"/><path d="M924.9 292.1L930.7 290.8L930.1 295.0Z" fill="#0067ff"/>
<path d="M938.7 340.2L931.1 339.3" stroke="#005eff" stroke-width="1.6"/><path d="M926.0 338.8L931.3 337.4L930.9 341.2Z" fill="#005eff"/>
<path d="M938.7 386.3L930.4 386.7" stroke="#0066ff" stroke-width="1.6"/><path d="M924.9 387.0L930.3 384.7L930.5 388.8Z" fill="#0066ff"/>
<path d="M938.7 432.4L931.1 432.1" stroke="#005eff" stroke-width="1.6"/><path d="M926.0 431.9L931.2 430.2L931.0 434.0Z" fill="#005eff"/>
<path d="M938.7 478.5L942.0 474.8" stroke="#003eff" stroke-width="1.6"/><path d="M944.2 472.2L943.0 475.6L941.1 473.9Z" fill="#003eff"/>
<path d="M938.7 524.7L939.5 521.5" stroke="#0028ff" stroke-width="1.6"/><path d="M940.0 519.4L940.3 521.7L938.7 521.3Z" fill="#0028ff"/>
<path d="M938.7 570.8L948.2 570.8" stroke="#0075ff" stroke-width="1.6"/><path d="M954.5 570.7L948.2 573.1L948.2 568.4Z" fill="#0075ff"/>
<path d="M938.7 616.9L962.2 627.0" stroke="#00ffc3" stroke-width="1.6"/><path d="M977.8 633.8L959.7 632.9L964.7 621.1Z" fill="#00ffc3"/>
<path d="M938.7 663.0L963.3 670.0" stroke="#00ffc3" stroke-width="1.6"/><path d="M979.7 674.6L961.6 676.1L965.1 663.8Z" fill="#00ffc3"/>
<path d="M938.7 709.1L966.1 709.9" stroke="#00ffac" stroke-width="1.6"/><path d="M984.4 710.5L965.9 716.8L966.3 703.1Z" fill="#00ffac"/>
<path d="M938.7 755.2L1006.7 757.1" stroke="#ffb600" stroke-width="1.6"/><path d="M1052.1 758.4L1006.3 774.1L1007.2 740.1Z" fill="#ffb600"/>
<path d="M938.7 801.3L958.4 784.0" stroke="#00ffba" stroke-width="1.6"/><path d="M971.5 772.4L962.8 788.9L954.1 779.0Z" fill="#00ffba"/>
<path d="M938.7 847.5L955.6 826.2" stroke="#00ffb0" stroke-width="1.6"/><path d="M966.9 812.1L960.9 830.4L950.3 822.0Z" fill="#00ffb0"/>
<path d="M938.7 893.6L957.0 875.8" stroke="#00ffc3" stroke-width="1.6"/><path d="M969.2 863.9L961.5 880.3L952.5 871.2Z" fill="#00ffc3"/>
<path d="M938.7 939.7L955.6 919.8" stroke="#00ffbd" stroke-width="1.6"/><path d="M966.9 906.6L960.6 924.1L950.6 915.6Z" fill="#00ffbd"/>
<path d="M938.7 985.8L955.6 965.6" stroke="#00ffb9" stroke-width="1.6"/><path d="M966.9 952.1L960.7 969.8L950.5 961.4Z" fill="#00ffb9"/>
<path d="M984.8 109.6L984.1 111.5" stroke="#0019ff" stroke-width="1.6"/><path d="M983.7 112.8L983.6 111.4L984.6 111.7Z" fill="#0019ff"/>
<path d="M984.8 155.7L985.5 159.1" stroke="#002bff" stroke-width="1.6"/><path d="M986.0 161.4L984.7 159.3L986.4 158.9Z" fill="#002bff"/>
<path d="M984.8 201.8L985.2 205.9" stroke="#0032ff" stroke-width="1.6"/><path d="M985.5 208.5L984.2 206.0L986.3 205.7Z" fill="#0032ff"/>
<path d="M984.8 248.0L984.5 251.3" stroke="#002aff" stroke-width="1.6"/><path d="M984.4 253.6L983.7 251.3L985.4 251.4Z" fill="#002aff"/>
<path d="M984.8 340.2L977.1 340.0" stroke="#005fff" stroke-width="1.6"/><path d="M972.0 340.0L977.2 338.1L977.1 342.0Z" fill="#005fff"/>
<path d="M984.8 386.3L976.8 387.4" stroke="#0063ff" stroke-width="1.6"/><path d="M971.5 388.2L976.6 385.5L977.1 389.4Z" fill="#0063ff"/>
<path d="M984.8 432.4L976.4 432.5" stroke="#0067ff" stroke-width="1.6"/><path d="M970.8 432.6L976.4 430.4L976.4 434.6Z" fill="#0067ff"/>
<path d="M984.8 478.5L974.7 476.4" stroke="#007fff" stroke-width="1.6"/><path d="M968.0 475.0L975.3 473.9L974.2 479.0Z" fill="#007fff"/>
<path d="M984.8 524.7L974.7 523.6" stroke="#007dff" stroke-width="1.6"/><path d="M968.0 522.9L975.0 521.1L974.5 526.1Z" fill="#007dff"/>
<path d="M984.8 570.8L977.5 571.2" stroke="#005aff" stroke-width="1.6"/><path d="M972.7 571.5L977.4 569.4L977.6 573.0Z" fill="#005aff"/>
<path d="M984.8 616.9L1000.7 619.3" stroke="#00c6ff" stroke-width="1.6"/><path d="M1011.2 620.9L1000.0 623.3L1001.3 615.4Z" fill="#00c6ff"/>
<path d="M984.8 663.0L1018.9 667.9" stroke="#00ff56" stroke-width="1.6"/><path d="M1041.6 671.1L1017.6 676.4L1020.1 659.4Z" fill="#00ff56"/>
<path d="M984.8 709.1L1032.2 709.2" stroke="#4aff00" stroke-width="1.6"/><path d="M1063.7 709.3L1032.1 721.1L1032.2 697.4Z" fill="#4aff00"/>
<path d="M984.8 755.2L1053.9 757.1" stroke="#ffa900" stroke-width="1.6"/><path d="M1099.9 758.4L1053.4 774.4L1054.3 739.8Z" fill="#ffa900"/>
<path d="M984.8 801.3L993.7 782.6" stroke="#00fffe" stroke-width="1.6"/><path d="M999.6 770.0L998.3 784.8L989.0 780.3Z" fill="#00fffe"/>
<path d="M984.8 847.5L1000.7 823.4" stroke="#00ff9b" stroke-width="1.6"/><path d="M1011.2 807.4L1006.7 827.4L994.6 819.4Z" fill="#00ff9b"/>
<path d="M984.8 893.6L992.7 879.0" stroke="#00ccff" stroke-width="1.6"/><path d="M997.9 869.2L996.3 880.9L989.0 877.0Z" fill="#00ccff"/>
<path d="M984.8 939.7L1002.8 919.8" stroke="#00ffb4" stroke-width="1.6"/><path d="M1014.7 906.6L1007.7 924.3L997.8 915.3Z" fill="#00ffb4"/>
<path d="M984.8 985.8L1002.8 965.6" stroke="#00ffb1" stroke-width="1.6"/><path d="M1014.7 952.1L1007.8 970.1L997.7 961.1Z" fill="#00ffb1"/>
<path d="M1030.9 109.6L1029.6 112.7" stroke="#0029ff" stroke-width="1.6"/><path d="M1028.7 114.7L1028.8 112.3L1030.4 113.0Z" fill="#0029ff"/>
<path d="M1030.9 155.7L1029.9 158.8" stroke="#0028ff" stroke-width="1.6"/><path d="M1029.2 160.9L1029.1 158.6L1030.7 159.1Z" fill="#0028ff"/>
<path d="M1030.9 201.8L1029.6 205.9" stroke="#0034ff" stroke-width="1.6"/><path d="M1028.7 208.5L1028.6 205.5L1030.6 206.2Z" fill="#0034ff"/>
<path d="M1030.9 248.0L1028.9 250.6" stroke="#0029ff" stroke-width="1.6"/><path d="M1027.6 252.4L1028.2 250.1L1029.6 251.1Z" fill="#0029ff"/>
<path d="M1030.9 294.1L1026.8 294.0" stroke="#0033ff" stroke-width="1.6"/><path d="M1024.1 294.0L1026.8 293.0L1026.8 295.0Z" fill="#0033ff"/>
<path d="M1030.9 340.2L1020.9 334.9" stroke="#008bff" stroke-width="1.6"/><path d="M1014.3 331.3L1022.2 332.4L1019.6 337.4Z" fill="#008bff"/>
<path d="M1030.9 386.3L1018.4 382.8" stroke="#00a0ff" stroke-width="1.6"/><path d="M1010.1 380.5L1019.3 379.7L1017.5 386.0Z" fill="#00a0ff"/>
<path d="M1030.9 432.4L1023.3 427.9" stroke="#006dff" stroke-width="1.6"/><path d="M1018.2 424.9L1024.4 426.0L1022.2 429.8Z" fill="#006dff"/>
<path d="M1030.9 478.5L1019.1 472.2" stroke="#00a5ff" stroke-width="1.6"/><path d="M1011.2 468.0L1020.7 469.3L1017.5 475.2Z" fill="#00a5ff"/>
<path d="M1030.9 524.7L1019.8 517.6" stroke="#00a2ff" stroke-width="1.6"/><path d="M1012.4 512.9L1021.6 514.8L1018.0 520.4Z" fill="#00a2ff"/>
<path d="M1030.9 570.8L1017.7 565.2" stroke="#00b1ff" stroke-width="1.6"/><path d="M1008.9 561.4L1019.1 561.9L1016.3 568.5Z" fill="#00b1ff"/>
<path d="M1030.9 616.9L1023.3 608.8" stroke="#0089ff" stroke-width="1.6"/><path d="M1018.2 603.4L1025.3 606.9L1021.3 610.7Z" fill="#0089ff"/>
<path d="M1030.9 663.0L1064.6 670.7" stroke="#00ff54" stroke-width="1.6"/><path d="M1087.1 675.8L1062.7 679.1L1066.5 662.2Z" fill="#00ff54"/>
<path d="M1030.9 709.1L1064.6 709.9" stroke="#00ff5f" stroke-width="1.6"/><path d="M1087.1 710.5L1064.4 718.4L1064.8 701.5Z" fill="#00ff5f"/>
<path d="M1030.9 755.2L1040.8 752.9" stroke="#007dff" stroke-width="1.6"/><path d="M1047.4 751.4L1041.4 755.4L1040.2 750.4Z" fill="#007dff"/>
<path d="M1030.9 801.3L1042.9 800.3" stroke="#0094ff" stroke-width="1.6"/><path d="M1050.9 799.7L1043.2 803.3L1042.7 797.3Z" fill="#0094ff"/>
<path d="M1030.9 847.5L1035.2 835.3" stroke="#009fff" stroke-width="1.6"/><path d="M1038.1 827.2L1038.2 836.4L1032.2 834.2Z" fill="#009fff"/>
<path d="M1030.9 893.6L1038.0 894.1" stroke="#0058ff" stroke-width="1.6"/><path d="M1042.7 894.5L1037.9 895.9L1038.1 892.3Z" fill="#0058ff"/>
<path d="M1030.9 939.7L1035.2 924.7" stroke="#00c0ff" stroke-width="1.6"/><path d="M1038.1 914.8L1038.9 925.8L1031.5 923.7Z" fill="#00c0ff"/>
<path d="M1030.9 985.8L1044.3 972.3" stroke="#00eaff" stroke-width="1.6"/><path d="M1053.2 963.3L1047.7 975.7L1040.9 969.0Z" fill="#00eaff"/>
<path d="M1077.0 63.5L1076.0 65.5" stroke="#001bff" stroke-width="1.6"/><path d="M1075.4 66.8L1075.5 65.3L1076.6 65.7Z" fill="#001bff"/>
<path d="M1077.0 109.6L1075.6 112.7" stroke="#0029ff" stroke-width="1.6"/><path d="M1074.7 114.7L1074.9 112.3L1076.4 113.0Z" fill="#0029ff"/>
<path d="M1077.0 155.7L1074.6 158.4" stroke="#002cff" stroke-width="1.6"/><path d="M1073.1 160.2L1074.0 157.8L1075.3 159.0Z" fill="#002cff"/>
<path d="M1077.0 201.8L1073.9 206.3" stroke="#0042ff" stroke-width="1.6"/><path d="M1071.9 209.2L1072.8 205.5L1075.1 207.0Z" fill="#0042ff"/>
<path d="M1077.0 248.0L1071.6 253.2" stroke="#005dff" stroke-width="1.6"/><path d="M1067.9 256.6L1070.3 251.8L1072.9 254.5Z" fill="#005dff"/>
<path d="M1077.0 294.1L1067.9 294.0" stroke="#0070ff" stroke-width="1.6"/><path d="M1061.9 294.0L1067.9 291.7L1067.9 296.3Z" fill="#0070ff"/>
<path d="M1077.0 340.2L1069.7 337.7" stroke="#005fff" stroke-width="1.6"/><path d="M1064.9 336.0L1070.4 335.9L1069.1 339.5Z" fill="#005fff"/>
<path d="M1077.0 386.3L1062.0 384.2" stroke="#00baff" stroke-width="1.6"/><path d="M1052.1 382.8L1062.6 380.5L1061.5 388.0Z" fill="#00baff"/>
<path d="M1077.0 432.4L1075.8 425.5" stroke="#0057ff" stroke-width="1.6"/><path d="M1074.9 420.9L1077.5 425.2L1074.0 425.8Z" fill="#0057ff"/>
<path d="M1077.0 478.5L1062.7 476.2" stroke="#00b2ff" stroke-width="1.6"/><path d="M1053.2 474.6L1063.3 472.6L1062.2 479.7Z" fill="#00b2ff"/>
<path d="M1077.0 524.7L1063.4 518.4" stroke="#00b8ff" stroke-width="1.6"/><path d="M1054.4 514.3L1065.0 515.0L1061.9 521.8Z" fill="#00b8ff"/>
<path d="M1077.0 570.8L1062.7 560.3" stroke="#00daff" stroke-width="1.6"/><path d="M1053.2 553.2L1065.4 556.7L1060.1 563.8Z" fill="#00daff"/>
<path d="M1077.0 616.9L1066.5 599.0" stroke="#00ffff" stroke-width="1.6"/><path d="M1059.5 587.1L1071.0 596.4L1062.1 601.6Z" fill="#00ffff"/>
<path d="M1077.0 663.0L1095.7 632.2" stroke="#00ff42" stroke-width="1.6"/><path d="M1108.1 611.6L1103.4 636.8L1087.9 627.5Z" fill="#00ff42"/>
<path d="M1077.0 709.1L1102.7 716.3" stroke="#00ffb6" stroke-width="1.6"/><path d="M1119.8 721.0L1100.9 722.7L1104.4 709.8Z" fill="#00ffb6"/>
<path d="M1077.0 755.2L1103.4 759.2" stroke="#00ffb6" stroke-width="1.6"/><path d="M1120.9 761.9L1102.4 765.8L1104.4 752.6Z" fill="#00ffb6"/>
<path d="M1077.0 801.3L1096.4 807.1" stroke="#00f9ff" stroke-width="1.6"/><path d="M1109.3 810.9L1094.9 811.9L1097.8 802.2Z" fill="#00f9ff"/>
<path d="M1077.0 847.5L1110.4 843.0" stroke="#00ff5f" stroke-width="1.6"/><path d="M1132.6 840.1L1111.5 851.4L1109.3 834.7Z" fill="#00ff5f"/>
<path d="M1077.0 893.6L1099.2 912.6" stroke="#00ff96" stroke-width="1.6"/><path d="M1113.9 925.3L1094.4 918.1L1103.9 907.0Z" fill="#00ff96"/>
<path d="M1077.0 939.7L1100.6 956.2" stroke="#00ff9b" stroke-width="1.6"/><path d="M1116.3 967.3L1096.4 962.1L1104.7 950.4Z" fill="#00ff9b"/>
<path d="M1077.0 985.8L1099.9 999.8" stroke="#00ffb4" stroke-width="1.6"/><path d="M1115.1 1009.1L1096.4 1005.5L1103.3 994.0Z" fill="#00ffb4"/>
<path d="M1123.1 63.5L1122.5 66.9" stroke="#002bff" stroke-width="1.6"/><path d="M1122.1 69.2L1121.6 66.8L1123.4 67.1Z" fill="#002bff"/>
<path d="M1123.1 109.6L1121.8 112.4" stroke="#0026ff" stroke-width="1.6"/><path d="M1120.9 114.2L1121.1 112.1L1122.5 112.7Z" fill="#0026ff"/>
<path d="M1123.1 155.7L1121.4 157.4" stroke="#001eff" stroke-width="1.6"/><path d="M1120.2 158.6L1121.0 157.0L1121.8 157.9Z" fill="#001eff"/>
<path d="M1123.1 201.8L1119.7 203.9" stroke="#0031ff" stroke-width="1.6"/><path d="M1117.4 205.3L1119.2 203.0L1120.2 204.7Z" fill="#0031ff"/>
<path d="M1123.1 248.0L1118.3 249.9" stroke="#0040ff" stroke-width="1.6"/><path d="M1115.1 251.3L1117.8 248.7L1118.8 251.1Z" fill="#0040ff"/>
<path d="M1123.1 294.1L1114.8 294.0" stroke="#0066ff" stroke-width="1.6"/><path d="M1109.3 294.0L1114.8 291.9L1114.8 296.1Z" fill="#0066ff"/>
<path d="M1123.1 340.2L1122.2 333.0" stroke="#0059ff" stroke-width="1.6"/><path d="M1121.6 328.3L1124.0 332.8L1120.4 333.3Z" fill="#0059ff"/>
<path d="M1123.1 386.3L1114.8 377.9" stroke="#0091ff" stroke-width="1.6"/><path d="M1109.3 372.3L1116.9 375.8L1112.7 380.0Z" fill="#0091ff"/>
<path d="M1123.1 432.4L1116.9 423.7" stroke="#0084ff" stroke-width="1.6"/><path d="M1112.8 417.9L1119.1 422.1L1114.7 425.2Z" fill="#0084ff"/>
<path d="M1123.1 478.5L1115.5 471.5" stroke="#007fff" stroke-width="1.6"/><path d="M1110.4 466.9L1117.2 469.6L1113.7 473.4Z" fill="#007fff"/>
<path d="M1123.1 524.7L1110.6 515.9" stroke="#00bcff" stroke-width="1.6"/><path d="M1102.3 510.1L1112.8 512.8L1108.4 519.0Z" fill="#00bcff"/>
<path d="M1123.1 570.8L1110.6 559.6" stroke="#00cfff" stroke-width="1.6"/><path d="M1102.3 552.1L1113.4 556.4L1107.8 562.7Z" fill="#00cfff"/>
<path d="M1123.1 616.9L1118.0 600.4" stroke="#00d4ff" stroke-width="1.6"/><path d="M1114.6 589.4L1122.1 599.1L1113.9 601.7Z" fill="#00d4ff"/>
<path d="M1123.1 663.0L1150.5 703.3" stroke="#5bff00" stroke-width="1.6"/><path d="M1168.8 730.2L1140.4 710.2L1160.6 696.5Z" fill="#5bff00"/>
<path d="M1123.1 709.1L1149.8 733.8" stroke="#00ff3e" stroke-width="1.6"/><path d="M1167.6 750.2L1143.6 740.4L1156.0 727.1Z" fill="#00ff3e"/>
<path d="M1123.1 755.2L1149.8 765.5" stroke="#00ff9d" stroke-width="1.6"/><path d="M1167.6 772.4L1147.2 772.2L1152.4 758.8Z" fill="#00ff9d"/>
<path d="M1123.1 801.3L1151.2 806.4" stroke="#00ff9e" stroke-width="1.6"/><path d="M1170.0 809.7L1150.0 813.4L1152.5 799.3Z" fill="#00ff9e"/>
<path d="M1123.1 847.5L1151.9 851.4" stroke="#00ff98" stroke-width="1.6"/><path d="M1171.1 854.1L1150.9 858.6L1152.9 844.2Z" fill="#00ff98"/>
<path d="M1123.1 893.6L1140.0 911.9" stroke="#00ffcb" stroke-width="1.6"/><path d="M1151.3 924.1L1135.4 916.1L1144.6 907.7Z" fill="#00ffcb"/>
<path d="M1123.1 939.7L1151.9 954.8" stroke="#00ff6d" stroke-width="1.6"/><path d="M1171.1 964.9L1148.1 962.0L1155.7 947.6Z" fill="#00ff6d"/>
<path d="M1123.1 985.8L1151.9 999.8" stroke="#00ff74" stroke-width="1.6"/><path d="M1171.1 1009.1L1148.4 1007.0L1155.4 992.6Z" fill="#00ff74"/>
<path d="M1169.2 63.5L1170.4 68.3" stroke="#003dff" stroke-width="1.6"/><path d="M1171.1 71.5L1169.2 68.6L1171.6 68.0Z" fill="#003dff"/>
<path d="M1169.2 109.6L1168.3 112.7" stroke="#0027ff" stroke-width="1.6"/><path d="M1167.6 114.7L1167.5 112.4L1169.0 112.9Z" fill="#0027ff"/>
<path d="M1169.2 155.7L1166.9 158.4" stroke="#002cff" stroke-width="1.6"/><path d="M1165.3 160.2L1166.2 157.8L1167.5 159.0Z" fill="#002cff"/>
<path d="M1169.2 201.8L1166.4 203.5" stroke="#0028ff" stroke-width="1.6"/><path d="M1164.6 204.6L1166.0 202.8L1166.8 204.2Z" fill="#0028ff"/>
<path d="M1169.2 248.0L1166.4 248.3" stroke="#0022ff" stroke-width="1.6"/><path d="M1164.6 248.5L1166.4 247.6L1166.5 248.9Z" fill="#0022ff"/>
<path d="M1169.2 294.1L1166.9 292.6" stroke="#0022ff" stroke-width="1.6"/><path d="M1165.3 291.6L1167.2 292.0L1166.5 293.2Z" fill="#0022ff"/>
<path d="M1169.2 340.2L1169.0 336.5" stroke="#002dff" stroke-width="1.6"/><path d="M1168.8 334.1L1169.9 336.5L1168.0 336.6Z" fill="#002dff"/>
<path d="M1169.2 386.3L1159.8 382.1" stroke="#007eff" stroke-width="1.6"/><path d="M1153.6 379.3L1160.9 379.8L1158.8 384.5Z" fill="#007eff"/>
<path d="M1169.2 432.4L1160.8 426.5" stroke="#007eff" stroke-width="1.6"/><path d="M1155.2 422.5L1162.3 424.4L1159.3 428.6Z" fill="#007eff"/>
<path d="M1169.2 478.5L1163.1 473.9" stroke="#005fff" stroke-width="1.6"/><path d="M1159.0 470.8L1164.2 472.4L1161.9 475.5Z" fill="#005fff"/>
<path d="M1169.2 524.7L1159.8 520.4" stroke="#007fff" stroke-width="1.6"/><path d="M1153.6 517.5L1160.9 518.0L1158.8 522.7Z" fill="#007fff"/>
<path d="M1169.2 570.8L1165.9 568.7" stroke="#0031ff" stroke-width="1.6"/><path d="M1163.7 567.2L1166.4 567.8L1165.3 569.5Z" fill="#0031ff"/>
<path d="M1169.2 616.9L1181.8 594.8" stroke="#00ffc5" stroke-width="1.6"/><path d="M1190.3 580.1L1187.4 598.0L1176.3 591.6Z" fill="#00ffc5"/>
<path d="M1169.2 663.0L1204.0 703.3" stroke="#92ff00" stroke-width="1.6"/><path d="M1227.1 730.2L1193.9 712.0L1214.0 694.6Z" fill="#92ff00"/>
<path d="M1169.2 709.1L1189.3 720.5" stroke="#00ffe2" stroke-width="1.6"/><path d="M1202.6 728.0L1186.4 725.5L1192.1 715.4Z" fill="#00ffe2"/>
<path d="M1169.2 755.2L1187.2 764.1" stroke="#00f7ff" stroke-width="1.6"/><path d="M1199.1 770.0L1184.9 768.6L1189.4 759.6Z" fill="#00f7ff"/>
<path d="M1169.2 801.3L1194.9 808.5" stroke="#00ffb6" stroke-width="1.6"/><path d="M1212.0 813.2L1193.1 814.9L1196.6 802.1Z" fill="#00ffb6"/>
<path d="M1169.2 847.5L1196.3 854.9" stroke="#00ffa4" stroke-width="1.6"/><path d="M1214.3 859.9L1194.4 861.7L1198.1 848.2Z" fill="#00ffa4"/>
<path d="M1169.2 893.6L1199.1 906.3" stroke="#00ff6e" stroke-width="1.6"/><path d="M1219.0 914.8L1195.9 913.7L1202.2 898.8Z" fill="#00ff6e"/>
<path d="M1169.2 939.7L1218.7 956.2" stroke="#85ff00" stroke-width="1.6"/><path d="M1251.7 967.3L1214.5 968.6L1222.8 943.9Z" fill="#85ff00"/>
<path d="M1169.2 985.8L1213.8 1002.0" stroke="#4aff00" stroke-width="1.6"/><path d="M1243.5 1012.8L1209.7 1013.1L1217.8 990.9Z" fill="#4aff00"/>
<path d="M1215.3 63.5L1219.9 71.1" stroke="#006dff" stroke-width="1.6"/><path d="M1222.9 76.2L1218.0 72.3L1221.8 70.0Z" fill="#006dff"/>
<path d="M1215.3 109.6L1214.0 112.9" stroke="#002cff" stroke-width="1.6"/><path d="M1213.1 115.2L1213.2 112.6L1214.8 113.3Z" fill="#002cff"/>
<path d="M1215.3 155.7L1214.0 158.8" stroke="#002aff" stroke-width="1.6"/><path d="M1213.1 160.9L1213.2 158.5L1214.8 159.2Z" fill="#002aff"/>
<path d="M1215.3 201.8L1212.9 204.5" stroke="#002cff" stroke-width="1.6"/><path d="M1211.3 206.2L1212.2 203.9L1213.5 205.1Z" fill="#002cff"/>
<path d="M1215.3 248.0L1214.0 249.0" stroke="#0014ff" stroke-width="1.6"/><path d="M1213.1 249.6L1213.8 248.6L1214.3 249.3Z" fill="#0014ff"/>
<path d="M1215.3 294.1L1214.7 292.6" stroke="#0013ff" stroke-width="1.6"/><path d="M1214.3 291.6L1215.1 292.5L1214.3 292.8Z" fill="#0013ff"/>
<path d="M1215.3 340.2L1215.1 337.2" stroke="#0024ff" stroke-width="1.6"/><path d="M1215.0 335.3L1215.9 337.2L1214.4 337.3Z" fill="#0024ff"/>
<path d="M1215.3 386.3L1206.3 382.8" stroke="#0077ff" stroke-width="1.6"/><path d="M1200.3 380.5L1207.2 380.6L1205.4 385.1Z" fill="#0077ff"/>
<path d="M1215.3 432.4L1206.3 428.3" stroke="#007aff" stroke-width="1.6"/><path d="M1200.3 425.6L1207.3 426.1L1205.3 430.6Z" fill="#007aff"/>
<path d="M1215.3 478.5L1209.1 474.8" stroke="#0059ff" stroke-width="1.6"/><path d="M1205.0 472.2L1210.0 473.2L1208.2 476.3Z" fill="#0059ff"/>
<path d="M1215.3 524.7L1228.0 516.6" stroke="#00b9ff" stroke-width="1.6"/><path d="M1236.5 511.2L1230.0 519.8L1226.0 513.4Z" fill="#00b9ff"/>
<path d="M1215.3 570.8L1219.6 562.6" stroke="#0071ff" stroke-width="1.6"/><path d="M1222.5 557.2L1221.6 563.7L1217.6 561.6Z" fill="#0071ff"/>
<path d="M1215.3 616.9L1213.7 604.6" stroke="#0098ff" stroke-width="1.6"/><path d="M1212.7 596.4L1216.8 604.2L1210.7 605.0Z" fill="#0098ff"/>
<path d="M1215.3 663.0L1227.3 662.3" stroke="#0094ff" stroke-width="1.6"/><path d="M1235.3 661.8L1227.5 665.3L1227.1 659.3Z" fill="#0094ff"/>
<path d="M1215.3 709.1L1238.5 719.1" stroke="#00ffc7" stroke-width="1.6"/><path d="M1254.0 725.7L1236.0 724.9L1241.0 713.3Z" fill="#00ffc7"/>
<path d="M1215.3 755.2L1237.8 764.8" stroke="#00ffd1" stroke-width="1.6"/><path d="M1252.8 771.2L1235.4 770.4L1240.2 759.2Z" fill="#00ffd1"/>
<path d="M1215.3 801.3L1235.7 800.8" stroke="#00fcff" stroke-width="1.6"/><path d="M1249.3 800.4L1235.9 805.9L1235.6 795.7Z" fill="#00fcff"/>
<path d="M1215.3 847.5L1242.0 852.8" stroke="#00ffae" stroke-width="1.6"/><path d="M1259.8 856.4L1240.7 859.5L1243.4 846.1Z" fill="#00ffae"/>
<path d="M1215.3 893.6L1248.3 909.8" stroke="#00ff39" stroke-width="1.6"/><path d="M1270.3 920.6L1244.3 918.0L1252.4 901.5Z" fill="#00ff39"/>
<path d="M1215.3 939.7L1254.6 963.2" stroke="#37ff00" stroke-width="1.6"/><path d="M1280.8 979.0L1248.7 973.1L1260.5 953.4Z" fill="#37ff00"/>
<path d="M1215.3 985.8L1256.0 992.2" stroke="#00ff02" stroke-width="1.6"/><path d="M1283.2 996.5L1254.4 1002.4L1257.6 982.0Z" fill="#00ff02"/>
<path d="M1261.4 63.5L1268.2 71.8" stroke="#0084ff" stroke-width="1.6"/><path d="M1272.7 77.3L1266.1 73.5L1270.2 70.1Z" fill="#0084ff"/>
<path d="M1261.4 109.6L1267.5 117.6" stroke="#007bff" stroke-width="1.6"/><path d="M1271.5 122.9L1265.5 119.1L1269.4 116.1Z" fill="#007bff"/>
<path d="M1261.4 155.7L1260.7 159.4" stroke="#002eff" stroke-width="1.6"/><path d="M1260.3 161.8L1259.8 159.2L1261.7 159.6Z" fill="#002eff"/>
<path d="M1261.4 201.8L1260.5 204.9" stroke="#0027ff" stroke-width="1.6"/><path d="M1259.8 206.9L1259.7 204.6L1261.2 205.1Z" fill="#0027ff"/>
<path d="M1261.4 248.0L1260.7 249.9" stroke="#001aff" stroke-width="1.6"/><path d="M1260.3 251.3L1260.2 249.8L1261.2 250.1Z" fill="#001aff"/>
<path d="M1261.4 294.1L1260.5 292.9" stroke="#0013ff" stroke-width="1.6"/><path d="M1259.8 292.1L1260.7 292.7L1260.2 293.1Z" fill="#0013ff"/>
<path d="M1261.4 340.2L1261.9 337.9" stroke="#001cff" stroke-width="1.6"/><path d="M1262.2 336.5L1262.4 338.1L1261.3 337.8Z" fill="#001cff"/>
<path d="M1261.4 386.3L1253.2 382.8" stroke="#006eff" stroke-width="1.6"/><path d="M1247.7 380.5L1254.0 380.8L1252.3 384.9Z" fill="#006eff"/>
<path d="M1261.4 432.4L1253.2 429.3" stroke="#006cff" stroke-width="1.6"/><path d="M1247.7 427.2L1254.0 427.2L1252.4 431.3Z" fill="#006cff"/>
<path d="M1261.4 478.5L1256.3 473.9" stroke="#0055ff" stroke-width="1.6"/><path d="M1252.8 470.8L1257.4 472.6L1255.1 475.2Z" fill="#0055ff"/>
<path d="M1261.4 524.7L1264.7 518.7" stroke="#0054ff" stroke-width="1.6"/><path d="M1266.8 514.7L1266.1 519.5L1263.2 517.9Z" fill="#0054ff"/>
<path d="M1261.4 570.8L1289.6 559.6" stroke="#00ff88" stroke-width="1.6"/><path d="M1308.4 552.1L1292.4 566.6L1286.8 552.5Z" fill="#00ff88"/>
<path d="M1261.4 616.9L1288.2 602.5" stroke="#00ff88" stroke-width="1.6"/><path d="M1306.0 592.9L1291.8 609.2L1284.6 595.8Z" fill="#00ff88"/>
<path d="M1261.4 663.0L1278.4 649.0" stroke="#00ffef" stroke-width="1.6"/><path d="M1289.7 639.6L1281.9 653.2L1274.9 644.7Z" fill="#00ffef"/>
<path d="M1261.4 709.1L1278.7 714.9" stroke="#00e0ff" stroke-width="1.6"/><path d="M1290.2 718.7L1277.2 719.2L1280.1 710.5Z" fill="#00e0ff"/>
<path d="M1261.4 755.2L1278.7 764.1" stroke="#00efff" stroke-width="1.6"/><path d="M1290.2 770.0L1276.4 768.4L1280.9 759.8Z" fill="#00efff"/>
<path d="M1261.4 801.3L1288.9 806.4" stroke="#00ffa6" stroke-width="1.6"/><path d="M1307.2 809.7L1287.6 813.2L1290.1 799.5Z" fill="#00ffa6"/>
<path d="M1261.4 847.5L1287.1 852.8" stroke="#00ffbb" stroke-width="1.6"/><path d="M1304.2 856.4L1285.7 859.2L1288.4 846.4Z" fill="#00ffbb"/>
<path d="M1261.4 893.6L1289.9 906.3" stroke="#00ff7e" stroke-width="1.6"/><path d="M1308.8 914.8L1286.7 913.4L1293.0 899.2Z" fill="#00ff7e"/>
<path d="M1261.4 939.7L1292.7 955.5" stroke="#00ff4e" stroke-width="1.6"/><path d="M1313.5 966.1L1288.7 963.4L1296.6 947.7Z" fill="#00ff4e"/>
<path d="M1261.4 985.8L1292.7 999.2" stroke="#00ff5b" stroke-width="1.6"/><path d="M1313.5 1008.1L1289.3 1007.0L1296.0 991.4Z" fill="#00ff5b"/>
<path d="M1307.5 63.5L1328.3 84.4" stroke="#00ff93" stroke-width="1.6"/><path d="M1342.2 98.4L1323.1 89.6L1333.5 79.2Z" fill="#00ff93"/>
<path d="M1307.5 109.6L1319.2 121.1" stroke="#00caff" stroke-width="1.6"/><path d="M1327.0 128.7L1316.3 124.0L1322.1 118.1Z" fill="#00caff"/>
<path d="M1307.5 155.7L1308.4 157.0" stroke="#0014ff" stroke-width="1.6"/><path d="M1309.0 157.9L1308.1 157.3L1308.7 156.8Z" fill="#0014ff"/>
<path d="M1307.5 248.0L1307.4 249.9" stroke="#0018ff" stroke-width="1.6"/><path d="M1307.4 251.3L1307.0 249.9L1307.9 249.9Z" fill="#0018ff"/>
<path d="M1307.5 386.3L1300.3 384.2" stroke="#005cff" stroke-width="1.6"/><path d="M1295.5 382.8L1300.8 382.4L1299.8 386.0Z" fill="#005cff"/>
<path d="M1307.5 432.4L1299.3 430.3" stroke="#0068ff" stroke-width="1.6"/><path d="M1293.9 428.8L1299.9 428.2L1298.8 432.3Z" fill="#0068ff"/>
<path d="M1307.5 478.5L1301.7 473.6" stroke="#005dff" stroke-width="1.6"/><path d="M1297.8 470.4L1302.9 472.2L1300.5 475.1Z" fill="#005dff"/>
<path d="M1307.5 524.7L1307.3 516.6" stroke="#0063ff" stroke-width="1.6"/><path d="M1307.2 511.2L1309.3 516.5L1305.3 516.6Z" fill="#0063ff"/>
<path d="M1307.5 570.8L1322.7 559.6" stroke="#00e9ff" stroke-width="1.6"/><path d="M1332.9 552.1L1325.5 563.4L1319.9 555.7Z" fill="#00e9ff"/>
<path d="M1307.5 616.9L1333.2 601.1" stroke="#00ff8a" stroke-width="1.6"/><path d="M1350.4 590.6L1337.2 607.5L1329.3 594.7Z" fill="#00ff8a"/>
<path d="M1307.5 663.0L1331.1 646.2" stroke="#00ff99" stroke-width="1.6"/><path d="M1346.9 634.9L1335.3 652.1L1326.9 640.3Z" fill="#00ff99"/>
<path d="M1307.5 709.1L1335.3 706.4" stroke="#00ffa6" stroke-width="1.6"/><path d="M1353.9 704.7L1336.0 713.4L1334.7 699.5Z" fill="#00ffa6"/>
<path d="M1307.5 755.2L1337.4 754.3" stroke="#00ff8d" stroke-width="1.6"/><path d="M1357.4 753.7L1337.6 761.8L1337.2 746.8Z" fill="#00ff8d"/>
<path d="M1307.5 801.3L1334.6 792.4" stroke="#00ff9e" stroke-width="1.6"/><path d="M1352.7 786.4L1336.9 799.1L1332.4 785.6Z" fill="#00ff9e"/>
<path d="M1307.5 847.5L1333.9 854.2" stroke="#00ffae" stroke-width="1.6"/><path d="M1351.5 858.7L1332.2 860.8L1335.6 847.6Z" fill="#00ffae"/>
<path d="M1307.5 893.6L1346.1 911.6" stroke="#0fff00" stroke-width="1.6"/><path d="M1371.8 923.6L1341.6 921.3L1350.6 902.0Z" fill="#0fff00"/>
<path d="M1307.5 939.7L1340.9 968.1" stroke="#1fff00" stroke-width="1.6"/><path d="M1363.2 987.1L1333.8 976.5L1348.0 959.8Z" fill="#1fff00"/>
<path d="M1307.5 985.8L1340.2 1006.2" stroke="#00ff23" stroke-width="1.6"/><path d="M1362.0 1019.8L1335.1 1014.4L1345.3 998.0Z" fill="#00ff23"/>
<path d="M1353.6 63.5L1377.1 83.7" stroke="#00ff80" stroke-width="1.6"/><path d="M1392.8 97.2L1372.1 89.6L1382.2 77.8Z" fill="#00ff80"/>
<path d="M1353.6 109.6L1367.1 121.1" stroke="#00daff" stroke-width="1.6"/><path d="M1376.0 128.7L1364.2 124.4L1369.9 117.7Z" fill="#00daff"/>
<path d="M1353.6 155.7L1357.3 156.3" stroke="#002eff" stroke-width="1.6"/><path d="M1359.7 156.7L1357.1 157.2L1357.4 155.4Z" fill="#002eff"/>
<path d="M1353.6 201.8L1355.9 202.8" stroke="#001eff" stroke-width="1.6"/><path d="M1357.4 203.4L1355.6 203.3L1356.1 202.2Z" fill="#001eff"/>
<path d="M1353.6 248.0L1355.2 249.0" stroke="#0017ff" stroke-width="1.6"/><path d="M1356.2 249.6L1354.9 249.3L1355.4 248.6Z" fill="#0017ff"/>
<path d="M1353.6 386.3L1346.8 385.2" stroke="#0055ff" stroke-width="1.6"/><path d="M1342.2 384.5L1347.0 383.5L1346.5 386.9Z" fill="#0055ff"/>
<path d="M1353.6 432.4L1346.1 430.7" stroke="#005fff" stroke-width="1.6"/><path d="M1341.0 429.5L1346.5 428.8L1345.6 432.6Z" fill="#005fff"/>
<path d="M1353.6 478.5L1345.4 476.2" stroke="#006aff" stroke-width="1.6"/><path d="M1339.9 474.6L1345.9 474.1L1344.8 478.2Z" fill="#006aff"/>
<path d="M1353.6 524.7L1348.2 520.1" stroke="#0057ff" stroke-width="1.6"/><path d="M1344.5 517.1L1349.3 518.7L1347.0 521.5Z" fill="#0057ff"/>
<path d="M1353.6 570.8L1388.1 561.7" stroke="#00ff47" stroke-width="1.6"/><path d="M1411.1 555.6L1390.3 570.3L1385.8 553.0Z" fill="#00ff47"/>
<path d="M1353.6 616.9L1383.2 604.6" stroke="#00ff74" stroke-width="1.6"/><path d="M1402.9 596.4L1386.2 612.0L1380.1 597.2Z" fill="#00ff74"/>
<path d="M1353.6 663.0L1380.4 646.9" stroke="#00ff7d" stroke-width="1.6"/><path d="M1398.2 636.1L1384.4 653.6L1376.3 640.2Z" fill="#00ff7d"/>
<path d="M1353.6 709.1L1381.3 698.0" stroke="#00ff8e" stroke-width="1.6"/><path d="M1399.8 690.7L1384.1 705.0L1378.6 691.1Z" fill="#00ff8e"/>
<path d="M1353.6 755.2L1383.9 749.4" stroke="#00ff82" stroke-width="1.6"/><path d="M1404.0 745.5L1385.3 757.0L1382.4 741.8Z" fill="#00ff82"/>
<path d="M1353.6 801.3L1382.0 790.3" stroke="#00ff86" stroke-width="1.6"/><path d="M1401.0 782.9L1384.8 797.4L1379.3 783.1Z" fill="#00ff86"/>
<path d="M1353.6 847.5L1380.4 850.7" stroke="#00ffb2" stroke-width="1.6"/><path d="M1398.2 852.9L1379.6 857.4L1381.2 844.0Z" fill="#00ffb2"/>
<path d="M1353.6 893.6L1383.9 912.6" stroke="#00ff46" stroke-width="1.6"/><path d="M1404.0 925.3L1379.1 920.2L1388.6 905.0Z" fill="#00ff46"/>
<path d="M1353.6 939.7L1382.5 957.6" stroke="#00ff5b" stroke-width="1.6"/><path d="M1401.7 969.6L1378.0 964.9L1387.0 950.4Z" fill="#00ff5b"/>
<path d="M1353.6 985.8L1379.7 1002.0" stroke="#00ff84" stroke-width="1.6"/><path d="M1397.0 1012.8L1375.6 1008.5L1383.7 995.5Z" fill="#00ff84"/>
<path d="M1399.7 63.5L1407.6 71.5" stroke="#008bff" stroke-width="1.6"/><path d="M1412.9 76.9L1405.6 73.5L1409.6 69.5Z" fill="#008bff"/>
<path d="M1399.7 109.6L1411.8 119.4" stroke="#00c0ff" stroke-width="1.6"/><path d="M1419.9 125.9L1409.4 122.4L1414.3 116.4Z" fill="#00c0ff"/>
<path d="M1399.7 155.7L1405.1 156.3" stroke="#0043ff" stroke-width="1.6"/><path d="M1408.7 156.7L1405.0 157.7L1405.3 155.0Z" fill="#0043ff"/>
<path d="M1399.7 201.8L1403.7 201.8" stroke="#0031ff" stroke-width="1.6"/><path d="M1406.4 201.8L1403.7 202.8L1403.7 200.8Z" fill="#0031ff"/>
<path d="M1399.7 248.0L1402.3 247.8" stroke="#0020ff" stroke-width="1.6"/><path d="M1404.0 247.7L1402.3 248.5L1402.3 247.2Z" fill="#0020ff"/>
<path d="M1399.7 294.1L1401.6 293.6" stroke="#0018ff" stroke-width="1.6"/><path d="M1402.9 293.3L1401.7 294.1L1401.5 293.1Z" fill="#0018ff"/>
<path d="M1399.7 340.2L1396.7 339.3" stroke="#0026ff" stroke-width="1.6"/><path d="M1394.7 338.8L1396.9 338.6L1396.5 340.1Z" fill="#0026ff"/>
<path d="M1399.7 386.3L1394.6 384.9" stroke="#0041ff" stroke-width="1.6"/><path d="M1391.2 384.0L1394.9 383.7L1394.3 386.2Z" fill="#0041ff"/>
<path d="M1399.7 432.4L1393.2 428.6" stroke="#005dff" stroke-width="1.6"/><path d="M1388.9 426.0L1394.2 427.0L1392.2 430.2Z" fill="#005dff"/>
<path d="M1399.7 478.5L1396.7 473.4" stroke="#004aff" stroke-width="1.6"/><path d="M1394.7 469.9L1398.0 472.6L1395.4 474.1Z" fill="#004aff"/>
<path d="M1399.7 524.7L1403.4 519.4" stroke="#004fff" stroke-width="1.6"/><path d="M1405.9 515.9L1404.7 520.3L1402.1 518.5Z" fill="#004fff"/>
<path d="M1399.7 570.8L1440.8 561.0" stroke="#0bff00" stroke-width="1.6"/><path d="M1468.2 554.4L1443.3 571.2L1438.4 550.7Z" fill="#0bff00"/>
<path d="M1399.7 616.9L1438.7 606.0" stroke="#00ff0b" stroke-width="1.6"/><path d="M1464.7 598.8L1441.4 615.8L1436.0 596.3Z" fill="#00ff0b"/>
<path d="M1399.7 663.0L1435.2 647.6" stroke="#00ff21" stroke-width="1.6"/><path d="M1458.9 637.3L1439.1 656.4L1431.4 638.7Z" fill="#00ff21"/>
<path d="M1399.7 709.1L1436.6 697.3" stroke="#00ff21" stroke-width="1.6"/><path d="M1461.2 689.5L1439.6 706.6L1433.7 688.1Z" fill="#00ff21"/>
<path d="M1399.7 755.2L1421.6 752.2" stroke="#00ffed" stroke-width="1.6"/><path d="M1436.3 750.2L1422.4 757.7L1420.9 746.7Z" fill="#00ffed"/>
<path d="M1399.7 801.3L1414.2 791.7" stroke="#00d7ff" stroke-width="1.6"/><path d="M1423.9 785.2L1416.6 795.3L1411.8 788.0Z" fill="#00d7ff"/>
<path d="M1399.7 847.5L1417.7 843.7" stroke="#00e3ff" stroke-width="1.6"/><path d="M1429.7 841.2L1418.6 848.2L1416.8 839.2Z" fill="#00e3ff"/>
<path d="M1399.7 893.6L1431.0 911.2" stroke="#00ff43" stroke-width="1.6"/><path d="M1451.9 922.9L1426.6 919.0L1435.4 903.4Z" fill="#00ff43"/>
<path d="M1399.7 939.7L1427.5 955.5" stroke="#00ff74" stroke-width="1.6"/><path d="M1446.1 966.1L1423.6 962.5L1431.5 948.6Z" fill="#00ff74"/>
<path d="M1399.7 985.8L1427.5 1002.0" stroke="#00ff71" stroke-width="1.6"/><path d="M1446.1 1012.8L1423.5 1009.0L1431.6 995.0Z" fill="#00ff71"/>
<path d="M1445.8 63.5L1452.7 69.7" stroke="#0072ff" stroke-width="1.6"/><path d="M1457.3 73.8L1451.1 71.4L1454.2 68.0Z" fill="#0072ff"/>
<path d="M1445.8 109.6L1443.9 110.3" stroke="#0019ff" stroke-width="1.6"/><path d="M1442.6 110.7L1443.7 109.8L1444.0 110.8Z" fill="#0019ff"/>
<path d="M1445.8 340.2L1443.9 339.3" stroke="#001aff" stroke-width="1.6"/><path d="M1442.6 338.8L1444.1 338.9L1443.6 339.8Z" fill="#001aff"/>
<path d="M1445.8 386.3L1442.0 383.2" stroke="#003cff" stroke-width="1.6"/><path d="M1439.5 381.2L1442.8 382.3L1441.3 384.2Z" fill="#003cff"/>
<path d="M1445.8 432.4L1441.8 427.9" stroke="#004bff" stroke-width="1.6"/><path d="M1439.1 424.9L1442.9 426.9L1440.6 428.9Z" fill="#004bff"/>
<path d="M1445.8 478.5L1450.9 473.4" stroke="#0059ff" stroke-width="1.6"/><path d="M1454.2 469.9L1452.2 474.6L1449.6 472.1Z" fill="#0059ff"/>
<path d="M1445.8 524.7L1451.6 517.3" stroke="#0073ff" stroke-width="1.6"/><path d="M1455.4 512.4L1453.4 518.7L1449.7 515.9Z" fill="#0073ff"/>
<path d="M1445.8 570.8L1464.9 563.1" stroke="#00fdff" stroke-width="1.6"/><path d="M1477.6 557.9L1466.8 567.8L1462.9 558.3Z" fill="#00fdff"/>
<path d="M1445.8 616.9L1511.1 610.2" stroke="#ffd400" stroke-width="1.6"/><path d="M1554.6 605.8L1512.8 626.5L1509.4 593.9Z" fill="#ffd400"/>
<path d="M1445.8 663.0L1499.2 655.3" stroke="#9aff00" stroke-width="1.6"/><path d="M1534.8 650.1L1501.1 668.6L1497.2 641.9Z" fill="#9aff00"/>
<path d="M1445.8 709.1L1488.0 705.7" stroke="#0bff00" stroke-width="1.6"/><path d="M1516.1 703.5L1488.8 716.3L1487.1 695.2Z" fill="#0bff00"/>
<path d="M1445.8 755.2L1462.1 754.6" stroke="#00c9ff" stroke-width="1.6"/><path d="M1472.9 754.2L1462.2 758.7L1461.9 750.5Z" fill="#00c9ff"/>
<path d="M1445.8 801.3L1457.9 793.8" stroke="#00b0ff" stroke-width="1.6"/><path d="M1465.9 788.7L1459.8 796.8L1456.0 790.7Z" fill="#00b0ff"/>
<path d="M1445.8 847.5L1447.1 841.6" stroke="#004aff" stroke-width="1.6"/><path d="M1447.9 837.7L1448.5 841.9L1445.6 841.3Z" fill="#004aff"/>
<path d="M1445.8 893.6L1475.4 911.2" stroke="#00ff56" stroke-width="1.6"/><path d="M1495.1 922.9L1471.0 918.6L1479.8 903.8Z" fill="#00ff56"/>
<path d="M1445.8 939.7L1472.6 955.5" stroke="#00ff7f" stroke-width="1.6"/><path d="M1490.4 966.1L1468.6 962.2L1476.5 948.8Z" fill="#00ff7f"/>
<path d="M1445.8 985.8L1476.8 999.8" stroke="#00ff5c" stroke-width="1.6"/><path d="M1497.4 1009.1L1473.3 1007.5L1480.3 992.0Z" fill="#00ff5c"/>
<path d="M1491.9 63.5L1496.9 68.7" stroke="#0059ff" stroke-width="1.6"/><path d="M1500.2 72.2L1495.6 70.0L1498.2 67.5Z" fill="#0059ff"/>
<path d="M1491.9 109.6L1490.3 110.3" stroke="#0015ff" stroke-width="1.6"/><path d="M1489.2 110.7L1490.1 109.9L1490.5 110.7Z" fill="#0015ff"/>
<path d="M1491.9 248.0L1490.3 247.6" stroke="#0014ff" stroke-width="1.6"/><path d="M1489.2 247.3L1490.4 247.2L1490.2 248.0Z" fill="#0014ff"/>
<path d="M1491.9 294.1L1490.3 293.6" stroke="#0014ff" stroke-width="1.6"/><path d="M1489.2 293.3L1490.4 293.2L1490.2 294.0Z" fill="#0014ff"/>
<path d="M1491.9 340.2L1490.3 339.3" stroke="#0016ff" stroke-width="1.6"/><path d="M1489.2 338.8L1490.5 338.9L1490.1 339.7Z" fill="#0016ff"/>
<path d="M1491.9 386.3L1488.5 383.2" stroke="#0038ff" stroke-width="1.6"/><path d="M1486.2 381.2L1489.3 382.4L1487.7 384.1Z" fill="#0038ff"/>
<path d="M1491.9 432.4L1498.0 426.5" stroke="#0069ff" stroke-width="1.6"/><path d="M1502.1 422.5L1499.5 428.0L1496.5 425.0Z" fill="#0069ff"/>
<path d="M1491.9 478.5L1498.7 471.5" stroke="#0078ff" stroke-width="1.6"/><path d="M1503.3 466.9L1500.5 473.2L1497.0 469.8Z" fill="#0078ff"/>
<path d="M1491.9 524.7L1499.4 516.6" stroke="#0088ff" stroke-width="1.6"/><path d="M1504.4 511.2L1501.4 518.5L1497.4 514.7Z" fill="#0088ff"/>
<path d="M1491.9 570.8L1514.5 563.1" stroke="#00ffd7" stroke-width="1.6"/><path d="M1529.6 557.9L1516.5 568.7L1512.6 557.4Z" fill="#00ffd7"/>
<path d="M1491.9 616.9L1528.8 610.2" stroke="#00ff30" stroke-width="1.6"/><path d="M1553.4 605.8L1530.5 619.4L1527.2 601.0Z" fill="#00ff30"/>
<path d="M1491.9 663.0L1528.8 660.2" stroke="#00ff36" stroke-width="1.6"/><path d="M1553.4 658.3L1529.5 669.4L1528.1 650.9Z" fill="#00ff36"/>
<path d="M1491.9 709.1L1518.3 706.7" stroke="#00ffb7" stroke-width="1.6"/><path d="M1535.9 705.1L1518.9 713.3L1517.7 700.1Z" fill="#00ffb7"/>
<path d="M1491.9 755.2L1508.5 755.3" stroke="#00cdff" stroke-width="1.6"/><path d="M1519.6 755.3L1508.5 759.4L1508.5 751.1Z" fill="#00cdff"/>
<path d="M1491.9 801.3L1505.7 793.8" stroke="#00c2ff" stroke-width="1.6"/><path d="M1514.9 788.7L1507.6 797.2L1503.8 790.3Z" fill="#00c2ff"/>
<path d="M1491.9 847.5L1502.9 840.5" stroke="#00a0ff" stroke-width="1.6"/><path d="M1510.3 835.9L1504.7 843.3L1501.2 837.7Z" fill="#00a0ff"/>
<path d="M1491.9 893.6L1504.7 885.0" stroke="#00beff" stroke-width="1.6"/><path d="M1513.3 879.3L1506.9 888.2L1502.6 881.8Z" fill="#00beff"/>
<path d="M1491.9 939.7L1523.9 947.1" stroke="#00ff69" stroke-width="1.6"/><path d="M1545.3 952.1L1522.1 955.1L1525.8 939.1Z" fill="#00ff69"/>
<path d="M1491.9 985.8L1524.6 996.4" stroke="#00ff56" stroke-width="1.6"/><path d="M1546.4 1003.5L1522.0 1004.6L1527.3 988.2Z" fill="#00ff56"/>
<path d="M1538.0 63.5L1539.6 66.2" stroke="#0026ff" stroke-width="1.6"/><path d="M1540.6 68.0L1538.9 66.6L1540.2 65.8Z" fill="#0026ff"/>
<path d="M1538.0 294.1L1536.3 293.6" stroke="#0015ff" stroke-width="1.6"/><path d="M1535.2 293.3L1536.5 293.2L1536.2 294.0Z" fill="#0015ff"/>
<path d="M1538.0 386.3L1535.8 383.5" stroke="#002cff" stroke-width="1.6"/><path d="M1534.3 381.7L1536.5 383.0L1535.1 384.1Z" fill="#002cff"/>
<path d="M1538.0 432.4L1545.6 427.9" stroke="#006dff" stroke-width="1.6"/><path d="M1550.6 424.9L1546.7 429.8L1544.4 426.0Z" fill="#006dff"/>
<path d="M1538.0 478.5L1548.4 472.0" stroke="#0097ff" stroke-width="1.6"/><path d="M1555.3 467.6L1550.0 474.6L1546.7 469.4Z" fill="#0097ff"/>
<path d="M1538.0 524.7L1551.5 517.6" stroke="#00bbff" stroke-width="1.6"/><path d="M1560.4 512.9L1553.2 520.9L1549.7 514.2Z" fill="#00bbff"/>
<path d="M1538.0 570.8L1555.0 563.8" stroke="#00e2ff" stroke-width="1.6"/><path d="M1566.3 559.1L1556.7 568.0L1553.2 559.5Z" fill="#00e2ff"/>
<path d="M1538.0 616.9L1557.1 615.1" stroke="#00ecff" stroke-width="1.6"/><path d="M1569.8 613.9L1557.5 619.9L1556.6 610.3Z" fill="#00ecff"/>
<path d="M1538.0 663.0L1565.5 663.0" stroke="#00ffac" stroke-width="1.6"/><path d="M1583.8 663.0L1565.5 669.8L1565.5 656.1Z" fill="#00ffac"/>
<path d="M1538.0 709.1L1566.2 709.0" stroke="#00ffa3" stroke-width="1.6"/><path d="M1585.0 708.9L1566.2 716.0L1566.1 701.9Z" fill="#00ffa3"/>
<path d="M1538.0 755.2L1548.7 747.6" stroke="#00a2ff" stroke-width="1.6"/><path d="M1555.8 742.5L1550.6 750.2L1546.8 744.9Z" fill="#00a2ff"/>
<path d="M1538.0 801.3L1546.6 798.0" stroke="#0071ff" stroke-width="1.6"/><path d="M1552.3 795.7L1547.4 800.1L1545.7 795.8Z" fill="#0071ff"/>
<path d="M1538.0 847.5L1548.9 843.0" stroke="#0091ff" stroke-width="1.6"/><path d="M1556.2 840.1L1550.1 845.8L1547.8 840.3Z" fill="#0091ff"/>
<path d="M1538.0 893.6L1563.0 886.7" stroke="#00ffbf" stroke-width="1.6"/><path d="M1579.6 882.1L1564.7 892.9L1561.2 880.4Z" fill="#00ffbf"/>
<path d="M1538.0 939.7L1567.6 929.6" stroke="#00ff7d" stroke-width="1.6"/><path d="M1587.3 922.9L1570.1 937.0L1565.1 922.2Z" fill="#00ff7d"/>
<path d="M1538.0 985.8L1570.8 988.0" stroke="#00ff69" stroke-width="1.6"/><path d="M1592.7 989.5L1570.2 996.2L1571.3 979.8Z" fill="#00ff69"/>
<path d="M1584.1 63.5L1583.2 65.5" stroke="#001bff" stroke-width="1.6"/><path d="M1582.6 66.8L1582.7 65.3L1583.7 65.7Z" fill="#001bff"/>
<path d="M1584.1 294.1L1582.5 293.2" stroke="#0017ff" stroke-width="1.6"/><path d="M1581.5 292.6L1582.7 292.8L1582.3 293.6Z" fill="#0017ff"/>
<path d="M1584.1 340.2L1582.5 339.3" stroke="#0016ff" stroke-width="1.6"/><path d="M1581.5 338.8L1582.7 339.0L1582.3 339.7Z" fill="#0016ff"/>
<path d="M1584.1 386.3L1581.8 384.2" stroke="#0026ff" stroke-width="1.6"/><path d="M1580.3 382.8L1582.3 383.7L1581.3 384.8Z" fill="#0026ff"/>
<path d="M1584.1 432.4L1592.3 428.6" stroke="#0070ff" stroke-width="1.6"/><path d="M1597.8 426.0L1593.3 430.6L1591.4 426.5Z" fill="#0070ff"/>
<path d="M1584.1 478.5L1594.4 474.8" stroke="#0087ff" stroke-width="1.6"/><path d="M1601.3 472.2L1595.4 477.3L1593.5 472.2Z" fill="#0087ff"/>
<path d="M1584.1 524.7L1597.2 520.1" stroke="#00abff" stroke-width="1.6"/><path d="M1606.0 517.1L1598.4 523.4L1596.1 516.8Z" fill="#00abff"/>
<path d="M1584.1 570.8L1608.4 570.1" stroke="#00ffd2" stroke-width="1.6"/><path d="M1624.6 569.6L1608.6 576.1L1608.2 564.0Z" fill="#00ffd2"/>
<path d="M1584.1 616.9L1611.9 618.6" stroke="#00ffa7" stroke-width="1.6"/><path d="M1630.5 619.8L1611.5 625.6L1612.4 611.7Z" fill="#00ffa7"/>
<path d="M1584.1 663.0L1612.6 665.8" stroke="#00ff9d" stroke-width="1.6"/><path d="M1631.6 667.6L1611.9 672.9L1613.3 658.6Z" fill="#00ff9d"/>
<path d="M1584.1 709.1L1609.1 711.4" stroke="#00ffc9" stroke-width="1.6"/><path d="M1625.8 712.8L1608.6 717.6L1609.7 705.1Z" fill="#00ffc9"/>
<path d="M1584.1 755.2L1607.7 764.8" stroke="#00ffc4" stroke-width="1.6"/><path d="M1623.5 771.2L1605.3 770.7L1610.1 758.9Z" fill="#00ffc4"/>
<path d="M1584.1 801.3L1603.5 804.3" stroke="#00f2ff" stroke-width="1.6"/><path d="M1616.5 806.2L1602.8 809.1L1604.3 799.4Z" fill="#00f2ff"/>
<path d="M1584.1 847.5L1609.1 844.1" stroke="#00ffc7" stroke-width="1.6"/><path d="M1625.8 841.9L1610.0 850.4L1608.3 837.9Z" fill="#00ffc7"/>
<path d="M1584.1 893.6L1609.4 886.7" stroke="#00ffbb" stroke-width="1.6"/><path d="M1626.3 882.1L1611.1 893.0L1607.7 880.3Z" fill="#00ffbb"/>
<path d="M1584.1 939.7L1609.8 931.0" stroke="#00ffb0" stroke-width="1.6"/><path d="M1627.0 925.3L1612.0 937.5L1607.7 924.6Z" fill="#00ffb0"/>
<path d="M1584.1 985.8L1614.7 988.0" stroke="#00ff84" stroke-width="1.6"/><path d="M1635.1 989.5L1614.2 995.6L1615.3 980.3Z" fill="#00ff84"/>
<path d="M1630.2 294.1L1628.3 293.6" stroke="#0019ff" stroke-width="1.6"/><path d="M1627.0 293.3L1628.4 293.1L1628.1 294.1Z" fill="#0019ff"/>
<path d="M1630.2 386.3L1637.1 385.6" stroke="#0055ff" stroke-width="1.6"/><path d="M1641.7 385.2L1637.3 387.3L1636.9 383.9Z" fill="#0055ff"/>
<path d="M1630.2 432.4L1638.1 431.7" stroke="#0061ff" stroke-width="1.6"/><path d="M1643.3 431.2L1638.3 433.6L1637.9 429.7Z" fill="#0061ff"/>
<path d="M1630.2 478.5L1640.9 477.8" stroke="#0084ff" stroke-width="1.6"/><path d="M1648.0 477.4L1641.0 480.5L1640.7 475.2Z" fill="#0084ff"/>
<path d="M1630.2 524.7L1652.1 524.3" stroke="#00fff1" stroke-width="1.6"/><path d="M1666.7 524.1L1652.2 529.8L1652.0 518.8Z" fill="#00fff1"/>
<path d="M1630.2 570.8L1655.6 571.5" stroke="#00ffc5" stroke-width="1.6"/><path d="M1672.5 571.9L1655.4 577.8L1655.7 565.1Z" fill="#00ffc5"/>
<path d="M1630.2 616.9L1657.0 620.0" stroke="#00ffb2" stroke-width="1.6"/><path d="M1674.8 622.1L1656.2 626.7L1657.8 613.3Z" fill="#00ffb2"/>
<path d="M1630.2 663.0L1659.1 668.6" stroke="#00ff94" stroke-width="1.6"/><path d="M1678.3 672.3L1657.7 675.8L1660.5 661.4Z" fill="#00ff94"/>
<path d="M1630.2 709.1L1659.1 710.9" stroke="#00ff9a" stroke-width="1.6"/><path d="M1678.3 712.1L1658.6 718.1L1659.5 703.7Z" fill="#00ff9a"/>
<path d="M1630.2 755.2L1642.3 762.7" stroke="#00afff" stroke-width="1.6"/><path d="M1650.3 767.7L1640.4 765.7L1644.1 759.7Z" fill="#00afff"/>
<path d="M1630.2 801.3L1641.6 809.2" stroke="#00aaff" stroke-width="1.6"/><path d="M1649.1 814.4L1639.6 812.0L1643.5 806.3Z" fill="#00aaff"/>
<path d="M1630.2 847.5L1643.7 847.5" stroke="#00a6ff" stroke-width="1.6"/><path d="M1652.6 847.5L1643.7 850.9L1643.7 844.1Z" fill="#00a6ff"/>
<path d="M1630.2 893.6L1652.8 887.8" stroke="#00ffdf" stroke-width="1.6"/><path d="M1667.8 883.9L1654.2 893.4L1651.3 882.2Z" fill="#00ffdf"/>
<path d="M1630.2 939.7L1654.5 931.0" stroke="#00ffc1" stroke-width="1.6"/><path d="M1670.6 925.3L1656.6 937.1L1652.3 925.0Z" fill="#00ffc1"/>
<path d="M1630.2 985.8L1658.4 985.9" stroke="#00ffa3" stroke-width="1.6"/><path d="M1677.2 986.0L1658.4 992.9L1658.4 978.8Z" fill="#00ffa3"/>
<path d="M1676.3 294.1L1674.7 294.3" stroke="#0014ff" stroke-width="1.6"/><path d="M1673.7 294.4L1674.7 293.9L1674.8 294.7Z" fill="#0014ff"/>
<path d="M1676.3 340.2L1674.7 340.5" stroke="#0014ff" stroke-width="1.6"/><path d="M1673.7 340.7L1674.6 340.1L1674.8 340.9Z" fill="#0014ff"/>
<path d="M1676.3 386.3L1682.4 387.0" stroke="#004cff" stroke-width="1.6"/><path d="M1686.5 387.5L1682.2 388.6L1682.6 385.5Z" fill="#004cff"/>
<path d="M1676.3 432.4L1684.5 432.8" stroke="#0065ff" stroke-width="1.6"/><path d="M1690.0 433.0L1684.4 434.8L1684.6 430.7Z" fill="#0065ff"/>
<path d="M1676.3 478.5L1686.6 479.9" stroke="#0080ff" stroke-width="1.6"/><path d="M1693.5 480.9L1686.3 482.5L1687.0 477.4Z" fill="#0080ff"/>
<path d="M1676.3 524.7L1698.1 526.8" stroke="#00fff0" stroke-width="1.6"/><path d="M1712.6 528.3L1697.6 532.3L1698.6 521.4Z" fill="#00fff0"/>
<path d="M1676.3 570.8L1700.6 572.9" stroke="#00ffd1" stroke-width="1.6"/><path d="M1716.8 574.3L1700.1 578.9L1701.1 566.8Z" fill="#00ffd1"/>
<path d="M1676.3 616.9L1702.7 622.1" stroke="#00ffb2" stroke-width="1.6"/><path d="M1720.3 625.6L1701.4 628.7L1704.0 615.5Z" fill="#00ffb2"/>
<path d="M1676.3 663.0L1701.7 662.3" stroke="#00ffc4" stroke-width="1.6"/><path d="M1718.7 661.8L1701.9 668.6L1701.6 655.9Z" fill="#00ffc4"/>
<path d="M1676.3 709.1L1704.1 714.9" stroke="#00ffa0" stroke-width="1.6"/><path d="M1722.7 718.7L1702.7 721.8L1705.6 707.9Z" fill="#00ffa0"/>
<path d="M1676.3 755.2L1692.2 764.8" stroke="#00e5ff" stroke-width="1.6"/><path d="M1702.8 771.2L1689.8 768.8L1694.6 760.8Z" fill="#00e5ff"/>
<path d="M1676.3 801.3L1690.1 809.9" stroke="#00c8ff" stroke-width="1.6"/><path d="M1699.3 815.6L1688.0 813.3L1692.3 806.4Z" fill="#00c8ff"/>
<path d="M1676.3 847.5L1687.3 850.3" stroke="#008cff" stroke-width="1.6"/><path d="M1694.7 852.2L1686.6 853.1L1688.0 847.5Z" fill="#008cff"/>
<path d="M1676.3 893.6L1696.1 887.8" stroke="#00ffff" stroke-width="1.6"/><path d="M1709.4 883.9L1697.6 892.8L1694.7 882.8Z" fill="#00ffff"/>
<path d="M1676.3 939.7L1700.6 931.7" stroke="#00ffc3" stroke-width="1.6"/><path d="M1716.8 926.4L1702.6 937.8L1698.6 925.7Z" fill="#00ffc3"/>
<path d="M1676.3 985.8L1704.1 986.9" stroke="#00ffa7" stroke-width="1.6"/><path d="M1722.7 987.6L1703.9 993.8L1704.4 979.9Z" fill="#00ffa7"/></svg></div>
<div id="t1" class="lbl" style="left:56px;top:990px;font-size:80px;letter-spacing:1.65px;">Flow Visualization</div>
<div id="t2" class="lbl" style="left:571px;top:1479px;font-size:80px;letter-spacing:3.2px;">Velocimetry</div>
<div id="t3" class="lbl" style="left:1810px;top:425px;font-size:64px;letter-spacing:1.8px;transform-origin:0 0;transform:rotate(-90deg);">Event time</div>
<div id="t4" class="lbl" style="left:2910px;top:878px;font-size:64px;letter-spacing:2px;transform-origin:0 0;transform:rotate(-90deg);">Velocity</div>
<svg class="abs" style="left:0;top:0" width="3027" height="1626">
<path d="M569.5 1128.5 H634.5 V1291 H918.5 V1258 L984 1323.5 L918.5 1389 V1356 H569.5 Z" fill="none" stroke="#000" stroke-width="4.8"/>
</svg>
</body></html>
